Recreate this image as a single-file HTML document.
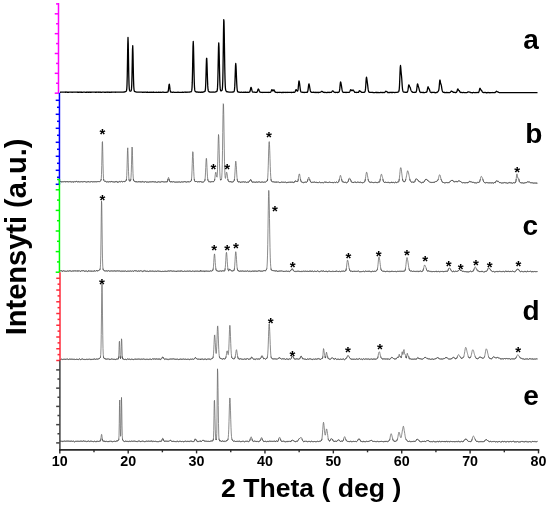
<!DOCTYPE html>
<html><head><meta charset="utf-8"><style>
html,body{margin:0;padding:0;background:#fff;width:550px;height:506px;overflow:hidden}
svg{display:block}
text{font-family:"Liberation Sans",Arial,sans-serif;font-weight:bold;fill:#000}
.tk{font-size:14.3px}
.st{font-size:15px}
.lb{font-size:28px}
.tt{font-size:26.6px}
.tt2{font-size:29px}
</style></head><body>
<svg width="550" height="506" viewBox="0 0 550 506">
<rect width="550" height="506" fill="#fff"/>
<polyline fill="none" stroke="#000" stroke-width="1.3" stroke-linejoin="round" points="60,92.2 60.25,92.3 60.5,92.2 60.75,92.2 61,92.2 61.25,92.2 61.5,92.2 61.75,92.2 62,92.2 62.25,92.2 62.5,92.2 62.75,92.2 63,92.2 63.25,92.2 63.5,92.2 63.75,92.2 64,92.2 64.25,92.2 64.5,92.1 64.75,92.2 65,92.2 65.25,92.2 65.5,92.3 65.75,92.2 66,92.0 66.25,92.0 66.5,92.1 66.75,92.2 67,92.2 67.25,92.3 67.5,92.3 67.75,92.2 68,92.2 68.25,92.3 68.5,92.3 68.75,92.3 69,92.1 69.25,92.1 69.5,92.2 69.75,92.2 70,92.1 70.25,92.1 70.5,92.2 70.75,92.1 71,92.2 71.25,92.2 71.5,92.2 71.75,92.2 72,92.3 72.25,92.3 72.5,92.2 72.75,92.2 73,92.2 73.25,92.2 73.5,92.2 73.75,92.2 74,92.2 74.25,92.2 74.5,92.1 74.75,92.2 75,92.2 75.25,92.2 75.5,92.1 75.75,92.1 76,92.2 76.25,92.2 76.5,92.2 76.75,92.2 77,92.1 77.25,92.2 77.5,92.3 77.75,92.2 78,92.2 78.25,92.2 78.5,92.3 78.75,92.3 79,92.2 79.25,92.1 79.5,92.2 79.75,92.2 80,92.3 80.25,92.2 80.5,92.1 80.75,92.1 81,92.3 81.25,92.3 81.5,92.2 81.75,92.2 82,92.3 82.25,92.3 82.5,92.3 82.75,92.3 83,92.2 83.25,92.2 83.5,92.2 83.75,92.1 84,92.1 84.25,92.2 84.5,92.1 84.75,92.2 85,92.2 85.25,92.3 85.5,92.3 85.75,92.3 86,92.3 86.25,92.3 86.5,92.1 86.75,92.2 87,92.3 87.25,92.2 87.5,92.2 87.75,92.2 88,92.2 88.25,92.3 88.5,92.3 88.75,92.2 89,92.2 89.25,92.2 89.5,92.2 89.75,92.3 90,92.3 90.25,92.1 90.5,92.1 90.75,92.3 91,92.4 91.25,92.2 91.5,92.1 91.75,92.2 92,92.2 92.25,92.2 92.5,92.2 92.75,92.2 93,92.2 93.25,92.2 93.5,92.2 93.75,92.2 94,92.2 94.25,92.2 94.5,92.2 94.75,92.1 95,92.2 95.25,92.3 95.5,92.3 95.75,92.2 96,92.2 96.25,92.2 96.5,92.2 96.75,92.3 97,92.2 97.25,92.2 97.5,92.2 97.75,92.2 98,92.1 98.25,92.1 98.5,92.2 98.75,92.3 99,92.2 99.25,92.1 99.5,92.1 99.75,92.2 100,92.3 100.25,92.2 100.5,92.2 100.75,92.2 101,92.3 101.25,92.4 101.5,92.4 101.75,92.3 102,92.2 102.25,92.2 102.5,92.2 102.75,92.2 103,92.2 103.25,92.2 103.5,92.2 103.75,92.2 104,92.2 104.25,92.2 104.5,92.3 104.75,92.3 105,92.3 105.25,92.2 105.5,92.3 105.75,92.4 106,92.3 106.25,92.2 106.5,92.2 106.75,92.2 107,92.1 107.25,92.2 107.5,92.2 107.75,92.3 108,92.2 108.25,92.1 108.5,92.1 108.75,92.2 109,92.3 109.25,92.3 109.5,92.2 109.75,92.2 110,92.4 110.25,92.4 110.5,92.2 110.75,92.2 111,92.2 111.25,92.2 111.5,92.2 111.75,92.3 112,92.2 112.25,92.2 112.5,92.2 112.75,92.2 113,92.2 113.25,92.2 113.5,92.2 113.75,92.1 114,92.2 114.25,92.2 114.5,92.2 114.75,92.2 115,92.2 115.25,92.3 115.5,92.2 115.75,92.2 116,92.2 116.25,92.1 116.5,92.1 116.75,92.2 117,92.1 117.25,92.1 117.5,92.2 117.75,92.2 118,92.1 118.25,92.1 118.5,92.2 118.75,92.2 119,92.2 119.25,92.2 119.5,92.1 119.75,92.1 120,92.2 120.25,92.2 120.5,92.1 120.75,92.1 121,92.2 121.25,92.1 121.5,92.1 121.75,92.1 122,92.2 122.25,92.1 122.5,92.1 122.75,92.1 123,92.1 123.25,92.1 123.5,92.1 123.75,92.0 124,92.0 124.25,92.0 124.5,92.0 124.75,91.9 125,91.8 125.25,91.8 125.5,91.6 125.75,91.5 126,91.4 126.25,91.1 126.5,90.6 126.75,89.2 127,85.1 127.25,75.9 127.5,60.9 127.75,44.7 128,37.4 128.25,44.1 128.5,59.4 128.75,74.3 129,84.0 129.25,88.5 129.5,90.2 129.75,90.9 130,91.2 130.25,91.2 130.5,91.2 130.75,91.1 131,90.9 131.25,90.5 131.5,88.9 131.75,84.7 132,75.8 132.25,62.5 132.5,49.6 132.75,45.7 133,53.3 133.25,66.7 133.5,78.7 133.75,86.1 134,89.5 134.25,90.9 134.5,91.4 134.75,91.6 135,91.6 135.25,91.7 135.5,91.8 135.75,91.9 136,91.9 136.25,92.0 136.5,92.1 136.75,92.1 137,92.1 137.25,92.2 137.5,92.2 137.75,92.2 138,92.1 138.25,92.1 138.5,92.1 138.75,92.1 139,92.1 139.25,92.1 139.5,92.1 139.75,92.2 140,92.2 140.25,92.1 140.5,92.1 140.75,92.2 141,92.2 141.25,92.1 141.5,92.1 141.75,92.2 142,92.2 142.25,92.3 142.5,92.3 142.75,92.3 143,92.2 143.25,92.2 143.5,92.2 143.75,92.3 144,92.3 144.25,92.3 144.5,92.2 144.75,92.2 145,92.2 145.25,92.2 145.5,92.2 145.75,92.2 146,92.3 146.25,92.3 146.5,92.3 146.75,92.2 147,92.2 147.25,92.3 147.5,92.2 147.75,92.2 148,92.3 148.25,92.3 148.5,92.3 148.75,92.3 149,92.3 149.25,92.2 149.5,92.3 149.75,92.3 150,92.3 150.25,92.3 150.5,92.3 150.75,92.2 151,92.3 151.25,92.4 151.5,92.3 151.75,92.2 152,92.3 152.25,92.4 152.5,92.4 152.75,92.2 153,92.2 153.25,92.3 153.5,92.2 153.75,92.2 154,92.3 154.25,92.3 154.5,92.3 154.75,92.3 155,92.3 155.25,92.4 155.5,92.4 155.75,92.3 156,92.3 156.25,92.2 156.5,92.3 156.75,92.4 157,92.3 157.25,92.3 157.5,92.3 157.75,92.3 158,92.3 158.25,92.3 158.5,92.2 158.75,92.2 159,92.3 159.25,92.3 159.5,92.3 159.75,92.3 160,92.2 160.25,92.2 160.5,92.3 160.75,92.3 161,92.3 161.25,92.3 161.5,92.4 161.75,92.4 162,92.3 162.25,92.2 162.5,92.1 162.75,92.2 163,92.2 163.25,92.2 163.5,92.2 163.75,92.3 164,92.3 164.25,92.3 164.5,92.3 164.75,92.3 165,92.3 165.25,92.3 165.5,92.3 165.75,92.3 166,92.3 166.25,92.3 166.5,92.3 166.75,92.2 167,92.2 167.25,92.2 167.5,92.2 167.75,92.1 168,91.8 168.25,91.0 168.5,89.3 168.75,87.0 169,84.9 169.25,84.1 169.5,85.0 169.75,87.1 170,89.2 170.25,90.8 170.5,91.7 170.75,92.1 171,92.2 171.25,92.2 171.5,92.2 171.75,92.2 172,92.3 172.25,92.4 172.5,92.4 172.75,92.3 173,92.2 173.25,92.2 173.5,92.2 173.75,92.2 174,92.3 174.25,92.4 174.5,92.4 174.75,92.4 175,92.4 175.25,92.4 175.5,92.4 175.75,92.4 176,92.3 176.25,92.3 176.5,92.3 176.75,92.3 177,92.3 177.25,92.3 177.5,92.3 177.75,92.2 178,92.2 178.25,92.2 178.5,92.3 178.75,92.3 179,92.3 179.25,92.3 179.5,92.3 179.75,92.3 180,92.3 180.25,92.3 180.5,92.4 180.75,92.4 181,92.4 181.25,92.4 181.5,92.4 181.75,92.4 182,92.3 182.25,92.2 182.5,92.2 182.75,92.3 183,92.4 183.25,92.3 183.5,92.3 183.75,92.3 184,92.2 184.25,92.2 184.5,92.2 184.75,92.2 185,92.2 185.25,92.3 185.5,92.2 185.75,92.1 186,92.2 186.25,92.2 186.5,92.2 186.75,92.3 187,92.3 187.25,92.2 187.5,92.1 187.75,92.2 188,92.2 188.25,92.1 188.5,92.1 188.75,92.1 189,92.2 189.25,92.2 189.5,92.1 189.75,92.0 190,92.0 190.25,91.9 190.5,91.8 190.75,91.9 191,91.8 191.25,91.5 191.5,91.2 191.75,90.4 192,88.1 192.25,82.9 192.5,73.1 192.75,59.2 193,46.2 193.25,41.5 193.5,46.8 193.75,58.4 194,71.4 194.25,81.4 194.5,87.2 194.75,89.9 195,91.0 195.25,91.4 195.5,91.6 195.75,91.7 196,91.9 196.25,92.0 196.5,92.0 196.75,92.0 197,92.1 197.25,92.1 197.5,92.0 197.75,92.0 198,92.0 198.25,92.1 198.5,92.2 198.75,92.3 199,92.3 199.25,92.2 199.5,92.2 199.75,92.2 200,92.2 200.25,92.3 200.5,92.3 200.75,92.3 201,92.2 201.25,92.2 201.5,92.2 201.75,92.3 202,92.2 202.25,92.1 202.5,92.2 202.75,92.3 203,92.2 203.25,92.1 203.5,92.0 203.75,91.8 204,91.7 204.25,91.7 204.5,91.7 204.75,91.6 205,91.3 205.25,90.5 205.5,88.3 205.75,83.5 206,75.5 206.25,65.8 206.5,58.8 206.75,58.3 207,63.6 207.25,71.9 207.5,79.9 207.75,85.9 208,89.2 208.25,90.7 208.5,91.3 208.75,91.6 209,91.8 209.25,92.0 209.5,92.0 209.75,91.9 210,92.0 210.25,92.1 210.5,92.2 210.75,92.2 211,92.2 211.25,92.2 211.5,92.2 211.75,92.1 212,92.0 212.25,92.1 212.5,92.2 212.75,92.1 213,92.0 213.25,92.0 213.5,92.1 213.75,92.1 214,92.1 214.25,92.1 214.5,92.1 214.75,92.1 215,92.1 215.25,92.0 215.5,91.9 215.75,91.8 216,91.7 216.25,91.7 216.5,91.6 216.75,91.5 217,91.2 217.25,90.2 217.5,87.9 217.75,82.7 218,72.8 218.25,59.5 218.5,47.4 218.75,42.9 219,47.3 219.25,57.2 219.5,69.1 219.75,79.1 220,85.5 220.25,88.9 220.5,90.3 220.75,90.8 221,90.9 221.25,90.8 221.5,90.7 221.75,90.6 222,90.3 222.25,89.6 222.5,87.3 222.75,81.5 223,69.7 223.25,51.6 223.5,31.6 223.75,19.6 224,21.4 224.25,33.3 224.5,50.2 224.75,66.6 225,78.6 225.25,85.6 225.5,89.0 225.75,90.3 226,90.8 226.25,91.3 226.5,91.6 226.75,91.7 227,91.8 227.25,91.8 227.5,91.7 227.75,91.9 228,91.9 228.25,91.9 228.5,92.0 228.75,92.1 229,92.1 229.25,92.1 229.5,92.1 229.75,92.1 230,92.1 230.25,92.1 230.5,92.1 230.75,92.2 231,92.2 231.25,92.2 231.5,92.1 231.75,92.1 232,92.1 232.25,91.9 232.5,92.0 232.75,92.1 233,92.1 233.25,92.0 233.5,91.9 233.75,91.8 234,91.5 234.25,90.9 234.5,89.5 234.75,86.4 235,80.7 235.25,72.9 235.5,65.9 235.75,63.5 236,66.0 236.25,71.4 236.5,77.9 236.75,83.7 237,87.8 237.25,90.2 237.5,91.3 237.75,91.8 238,92.0 238.25,92.0 238.5,92.0 238.75,92.0 239,92.1 239.25,92.1 239.5,92.2 239.75,92.3 240,92.3 240.25,92.4 240.5,92.3 240.75,92.3 241,92.2 241.25,92.2 241.5,92.2 241.75,92.2 242,92.4 242.25,92.4 242.5,92.4 242.75,92.4 243,92.3 243.25,92.3 243.5,92.2 243.75,92.3 244,92.3 244.25,92.3 244.5,92.3 244.75,92.2 245,92.2 245.25,92.3 245.5,92.2 245.75,92.3 246,92.4 246.25,92.4 246.5,92.4 246.75,92.3 247,92.2 247.25,92.2 247.5,92.3 247.75,92.4 248,92.4 248.25,92.3 248.5,92.3 248.75,92.3 249,92.2 249.25,92.2 249.5,92.1 249.75,91.9 250,91.4 250.25,90.5 250.5,89.2 250.75,87.9 251,87.3 251.25,87.7 251.5,88.5 251.75,89.6 252,90.5 252.25,91.3 252.5,91.9 252.75,92.2 253,92.2 253.25,92.2 253.5,92.2 253.75,92.2 254,92.2 254.25,92.2 254.5,92.2 254.75,92.2 255,92.3 255.25,92.4 255.5,92.4 255.75,92.3 256,92.3 256.25,92.2 256.5,92.2 256.75,92.3 257,92.2 257.25,91.9 257.5,91.2 257.75,90.3 258,89.5 258.25,89.0 258.5,89.1 258.75,89.4 259,90.0 259.25,90.8 259.5,91.5 259.75,92.0 260,92.1 260.25,92.2 260.5,92.1 260.75,92.2 261,92.4 261.25,92.4 261.5,92.3 261.75,92.3 262,92.4 262.25,92.5 262.5,92.3 262.75,92.3 263,92.4 263.25,92.4 263.5,92.4 263.75,92.3 264,92.3 264.25,92.3 264.5,92.3 264.75,92.4 265,92.4 265.25,92.4 265.5,92.4 265.75,92.4 266,92.4 266.25,92.4 266.5,92.4 266.75,92.4 267,92.4 267.25,92.4 267.5,92.4 267.75,92.3 268,92.4 268.25,92.5 268.5,92.4 268.75,92.3 269,92.3 269.25,92.3 269.5,92.3 269.75,92.3 270,92.3 270.25,92.3 270.5,92.2 270.75,92.0 271,91.6 271.25,91.0 271.5,90.3 271.75,89.7 272,89.7 272.25,90.0 272.5,90.4 272.75,90.9 273,91.0 273.25,90.6 273.5,90.1 273.75,89.8 274,89.9 274.25,90.4 274.5,90.8 274.75,91.4 275,91.9 275.25,92.1 275.5,92.2 275.75,92.3 276,92.4 276.25,92.4 276.5,92.4 276.75,92.4 277,92.5 277.25,92.5 277.5,92.5 277.75,92.3 278,92.3 278.25,92.3 278.5,92.4 278.75,92.4 279,92.4 279.25,92.4 279.5,92.4 279.75,92.5 280,92.4 280.25,92.4 280.5,92.4 280.75,92.4 281,92.4 281.25,92.5 281.5,92.6 281.75,92.5 282,92.5 282.25,92.5 282.5,92.5 282.75,92.4 283,92.4 283.25,92.4 283.5,92.5 283.75,92.5 284,92.4 284.25,92.3 284.5,92.4 284.75,92.3 285,92.3 285.25,92.4 285.5,92.4 285.75,92.5 286,92.5 286.25,92.3 286.5,92.3 286.75,92.3 287,92.4 287.25,92.4 287.5,92.4 287.75,92.5 288,92.4 288.25,92.3 288.5,92.4 288.75,92.4 289,92.4 289.25,92.3 289.5,92.4 289.75,92.4 290,92.4 290.25,92.4 290.5,92.4 290.75,92.3 291,92.4 291.25,92.5 291.5,92.5 291.75,92.5 292,92.4 292.25,92.3 292.5,92.4 292.75,92.4 293,92.3 293.25,92.3 293.5,92.2 293.75,92.2 294,92.3 294.25,92.4 294.5,92.3 294.75,92.1 295,91.9 295.25,91.5 295.5,90.8 295.75,90.1 296,89.7 296.25,89.7 296.5,90.0 296.75,90.4 297,90.8 297.25,91.1 297.5,91.2 297.75,90.9 298,89.9 298.25,87.8 298.5,84.9 298.75,82.2 299,81.0 299.25,81.6 299.5,83.1 299.75,84.9 300,87.0 300.25,89.0 300.5,90.6 300.75,91.5 301,91.9 301.25,92.1 301.5,92.2 301.75,92.2 302,92.2 302.25,92.2 302.5,92.3 302.75,92.3 303,92.3 303.25,92.3 303.5,92.4 303.75,92.5 304,92.4 304.25,92.5 304.5,92.5 304.75,92.3 305,92.3 305.25,92.3 305.5,92.4 305.75,92.4 306,92.4 306.25,92.4 306.5,92.3 306.75,92.2 307,92.2 307.25,92.3 307.5,92.0 307.75,91.3 308,90.1 308.25,88.2 308.5,86.0 308.75,84.3 309,83.9 309.25,84.8 309.5,86.0 309.75,87.5 310,89.0 310.25,90.4 310.5,91.3 310.75,91.8 311,92.0 311.25,92.2 311.5,92.3 311.75,92.3 312,92.3 312.25,92.4 312.5,92.4 312.75,92.4 313,92.3 313.25,92.2 313.5,92.2 313.75,92.3 314,92.4 314.25,92.4 314.5,92.4 314.75,92.5 315,92.5 315.25,92.5 315.5,92.4 315.75,92.5 316,92.4 316.25,92.4 316.5,92.5 316.75,92.5 317,92.5 317.25,92.5 317.5,92.4 317.75,92.4 318,92.5 318.25,92.5 318.5,92.5 318.75,92.5 319,92.5 319.25,92.4 319.5,92.3 319.75,92.4 320,92.3 320.25,92.2 320.5,92.1 320.75,92.0 321,91.9 321.25,91.7 321.5,91.4 321.75,91.3 322,91.4 322.25,91.5 322.5,91.6 322.75,91.8 323,92.0 323.25,92.3 323.5,92.3 323.75,92.3 324,92.4 324.25,92.5 324.5,92.5 324.75,92.4 325,92.4 325.25,92.4 325.5,92.4 325.75,92.5 326,92.6 326.25,92.6 326.5,92.6 326.75,92.5 327,92.4 327.25,92.4 327.5,92.5 327.75,92.5 328,92.4 328.25,92.4 328.5,92.4 328.75,92.5 329,92.4 329.25,92.4 329.5,92.5 329.75,92.5 330,92.4 330.25,92.3 330.5,92.4 330.75,92.4 331,92.4 331.25,92.4 331.5,92.2 331.75,91.9 332,91.5 332.25,91.1 332.5,90.8 332.75,90.8 333,91.0 333.25,91.2 333.5,91.4 333.75,91.7 334,92.0 334.25,92.2 334.5,92.3 334.75,92.4 335,92.4 335.25,92.4 335.5,92.5 335.75,92.5 336,92.5 336.25,92.4 336.5,92.4 336.75,92.4 337,92.4 337.25,92.5 337.5,92.5 337.75,92.5 338,92.4 338.25,92.4 338.5,92.3 338.75,92.2 339,92.0 339.25,91.6 339.5,90.7 339.75,88.9 340,86.3 340.25,83.7 340.5,82.0 340.75,82.1 341,83.3 341.25,84.6 341.5,86.1 341.75,87.8 342,89.4 342.25,90.7 342.5,91.5 342.75,92.0 343,92.2 343.25,92.3 343.5,92.4 343.75,92.4 344,92.5 344.25,92.4 344.5,92.3 344.75,92.4 345,92.4 345.25,92.4 345.5,92.4 345.75,92.5 346,92.5 346.25,92.4 346.5,92.4 346.75,92.5 347,92.5 347.25,92.4 347.5,92.4 347.75,92.4 348,92.3 348.25,92.3 348.5,92.4 348.75,92.4 349,92.3 349.25,92.3 349.5,92.0 349.75,91.7 350,91.3 350.25,90.6 350.5,89.9 350.75,89.6 351,89.8 351.25,90.1 351.5,90.4 351.75,90.6 352,90.8 352.25,90.6 352.5,90.3 352.75,90.1 353,89.9 353.25,90.2 353.5,90.6 353.75,90.9 354,91.1 354.25,91.5 354.5,91.9 354.75,92.3 355,92.4 355.25,92.4 355.5,92.3 355.75,92.3 356,92.3 356.25,92.4 356.5,92.5 356.75,92.5 357,92.4 357.25,92.4 357.5,92.4 357.75,92.4 358,92.4 358.25,92.4 358.5,92.3 358.75,91.9 359,91.4 359.25,90.9 359.5,90.7 359.75,90.9 360,91.0 360.25,91.2 360.5,91.4 360.75,91.5 361,91.8 361.25,92.1 361.5,92.3 361.75,92.3 362,92.4 362.25,92.3 362.5,92.3 362.75,92.3 363,92.4 363.25,92.3 363.5,92.3 363.75,92.3 364,92.4 364.25,92.3 364.5,92.1 364.75,92.0 365,91.6 365.25,90.7 365.5,88.9 365.75,85.8 366,81.8 366.25,78.4 366.5,77.2 366.75,78.3 367,80.2 367.25,82.0 367.5,83.8 367.75,85.9 368,88.1 368.25,89.9 368.5,91.1 368.75,91.8 369,92.1 369.25,92.2 369.5,92.3 369.75,92.3 370,92.3 370.25,92.4 370.5,92.4 370.75,92.4 371,92.4 371.25,92.4 371.5,92.4 371.75,92.4 372,92.3 372.25,92.3 372.5,92.4 372.75,92.5 373,92.5 373.25,92.6 373.5,92.5 373.75,92.6 374,92.6 374.25,92.6 374.5,92.7 374.75,92.7 375,92.6 375.25,92.5 375.5,92.4 375.75,92.4 376,92.5 376.25,92.5 376.5,92.5 376.75,92.5 377,92.5 377.25,92.6 377.5,92.5 377.75,92.5 378,92.5 378.25,92.6 378.5,92.6 378.75,92.5 379,92.5 379.25,92.6 379.5,92.6 379.75,92.6 380,92.6 380.25,92.5 380.5,92.4 380.75,92.5 381,92.4 381.25,92.3 381.5,92.5 381.75,92.6 382,92.6 382.25,92.5 382.5,92.5 382.75,92.5 383,92.6 383.25,92.6 383.5,92.5 383.75,92.4 384,92.5 384.25,92.6 384.5,92.5 384.75,92.4 385,92.1 385.25,91.8 385.5,91.5 385.75,91.3 386,91.2 386.25,91.4 386.5,91.6 386.75,91.6 387,91.7 387.25,92.0 387.5,92.2 387.75,92.5 388,92.5 388.25,92.5 388.5,92.5 388.75,92.6 389,92.6 389.25,92.5 389.5,92.5 389.75,92.5 390,92.5 390.25,92.5 390.5,92.4 390.75,92.3 391,92.4 391.25,92.5 391.5,92.5 391.75,92.5 392,92.5 392.25,92.5 392.5,92.5 392.75,92.5 393,92.4 393.25,92.3 393.5,92.3 393.75,92.3 394,92.4 394.25,92.5 394.5,92.6 394.75,92.5 395,92.6 395.25,92.5 395.5,92.4 395.75,92.4 396,92.4 396.25,92.4 396.5,92.3 396.75,92.3 397,92.3 397.25,92.3 397.5,92.2 397.75,92.1 398,92.1 398.25,92.0 398.5,91.9 398.75,91.6 399,90.8 399.25,89.0 399.5,85.5 399.75,79.9 400,73.1 400.25,67.5 400.5,65.5 400.75,67.6 401,70.9 401.25,73.6 401.5,75.8 401.75,78.7 402,82.6 402.25,86.3 402.5,89.0 402.75,90.4 403,91.3 403.25,91.7 403.5,92.0 403.75,92.1 404,92.1 404.25,92.1 404.5,92.1 404.75,92.2 405,92.3 405.25,92.3 405.5,92.3 405.75,92.3 406,92.2 406.25,92.3 406.5,92.4 406.75,92.3 407,92.2 407.25,92.1 407.5,91.7 407.75,90.9 408,89.7 408.25,88.0 408.5,86.2 408.75,84.9 409,84.9 409.25,85.8 409.5,86.6 409.75,86.9 410,87.1 410.25,87.7 410.5,88.6 410.75,89.5 411,90.3 411.25,90.8 411.5,91.1 411.75,91.5 412,91.8 412.25,91.9 412.5,92.0 412.75,92.3 413,92.3 413.25,92.3 413.5,92.4 413.75,92.4 414,92.4 414.25,92.4 414.5,92.5 414.75,92.4 415,92.4 415.25,92.3 415.5,92.3 415.75,92.2 416,92.1 416.25,91.7 416.5,90.8 416.75,89.3 417,87.1 417.25,85.0 417.5,83.8 417.75,84.1 418,85.2 418.25,86.3 418.5,86.9 418.75,87.6 419,88.6 419.25,89.7 419.5,90.8 419.75,91.6 420,92.0 420.25,92.2 420.5,92.3 420.75,92.5 421,92.5 421.25,92.4 421.5,92.4 421.75,92.4 422,92.5 422.25,92.6 422.5,92.4 422.75,92.4 423,92.5 423.25,92.5 423.5,92.4 423.75,92.5 424,92.7 424.25,92.6 424.5,92.6 424.75,92.6 425,92.5 425.25,92.4 425.5,92.4 425.75,92.4 426,92.4 426.25,92.3 426.5,92.1 426.75,91.9 427,91.4 427.25,90.3 427.5,88.9 427.75,87.6 428,86.8 428.25,86.9 428.5,87.7 428.75,88.4 429,88.8 429.25,89.2 429.5,89.8 429.75,90.5 430,91.3 430.25,91.9 430.5,92.2 430.75,92.3 431,92.4 431.25,92.5 431.5,92.5 431.75,92.5 432,92.5 432.25,92.4 432.5,92.4 432.75,92.4 433,92.5 433.25,92.4 433.5,92.3 433.75,92.4 434,92.4 434.25,92.5 434.5,92.5 434.75,92.5 435,92.6 435.25,92.6 435.5,92.7 435.75,92.8 436,92.6 436.25,92.4 436.5,92.4 436.75,92.5 437,92.5 437.25,92.3 437.5,92.1 437.75,91.7 438,91.5 438.25,91.2 438.5,90.9 438.75,90.1 439,88.6 439.25,86.0 439.5,83.0 439.75,80.6 440,80.0 440.25,81.2 440.5,82.8 440.75,83.9 441,84.4 441.25,85.0 441.5,86.4 441.75,88.1 442,89.6 442.25,90.7 442.5,91.4 442.75,91.7 443,91.9 443.25,92.3 443.5,92.4 443.75,92.4 444,92.4 444.25,92.5 444.5,92.5 444.75,92.5 445,92.5 445.25,92.6 445.5,92.6 445.75,92.6 446,92.5 446.25,92.5 446.5,92.5 446.75,92.5 447,92.6 447.25,92.5 447.5,92.5 447.75,92.6 448,92.7 448.25,92.7 448.5,92.6 448.75,92.5 449,92.6 449.25,92.6 449.5,92.6 449.75,92.6 450,92.5 450.25,92.3 450.5,91.9 450.75,91.7 451,91.5 451.25,91.2 451.5,91.1 451.75,91.2 452,91.4 452.25,91.6 452.5,91.6 452.75,91.7 453,92.0 453.25,92.3 453.5,92.4 453.75,92.4 454,92.5 454.25,92.4 454.5,92.4 454.75,92.4 455,92.5 455.25,92.5 455.5,92.5 455.75,92.6 456,92.6 456.25,92.4 456.5,92.2 456.75,91.9 457,91.3 457.25,90.4 457.5,89.5 457.75,89.0 458,89.0 458.25,89.4 458.5,90.0 458.75,90.5 459,90.6 459.25,90.7 459.5,91.1 459.75,91.6 460,92.0 460.25,92.3 460.5,92.4 460.75,92.5 461,92.5 461.25,92.4 461.5,92.4 461.75,92.5 462,92.6 462.25,92.6 462.5,92.5 462.75,92.6 463,92.6 463.25,92.4 463.5,92.4 463.75,92.5 464,92.6 464.25,92.7 464.5,92.7 464.75,92.6 465,92.5 465.25,92.6 465.5,92.6 465.75,92.6 466,92.7 466.25,92.7 466.5,92.6 466.75,92.6 467,92.6 467.25,92.4 467.5,92.3 467.75,92.1 468,91.9 468.25,91.8 468.5,91.9 468.75,92.0 469,92.1 469.25,92.1 469.5,92.0 469.75,92.1 470,92.2 470.25,92.3 470.5,92.5 470.75,92.6 471,92.6 471.25,92.6 471.5,92.6 471.75,92.6 472,92.7 472.25,92.8 472.5,92.8 472.75,92.7 473,92.6 473.25,92.5 473.5,92.4 473.75,92.4 474,92.5 474.25,92.6 474.5,92.7 474.75,92.7 475,92.6 475.25,92.6 475.5,92.5 475.75,92.6 476,92.6 476.25,92.6 476.5,92.6 476.75,92.5 477,92.4 477.25,92.4 477.5,92.5 477.75,92.6 478,92.6 478.25,92.5 478.5,92.5 478.75,92.1 479,91.6 479.25,90.7 479.5,89.6 479.75,88.7 480,88.3 480.25,88.5 480.5,89.2 480.75,89.8 481,90.1 481.25,90.1 481.5,90.3 481.75,90.8 482,91.3 482.25,91.7 482.5,92.1 482.75,92.3 483,92.5 483.25,92.6 483.5,92.6 483.75,92.5 484,92.4 484.25,92.4 484.5,92.5 484.75,92.6 485,92.5 485.25,92.4 485.5,92.4 485.75,92.6 486,92.8 486.25,92.8 486.5,92.7 486.75,92.7 487,92.8 487.25,92.7 487.5,92.6 487.75,92.5 488,92.5 488.25,92.5 488.5,92.6 488.75,92.6 489,92.5 489.25,92.6 489.5,92.7 489.75,92.8 490,92.8 490.25,92.7 490.5,92.6 490.75,92.6 491,92.7 491.25,92.6 491.5,92.7 491.75,92.7 492,92.7 492.25,92.5 492.5,92.6 492.75,92.7 493,92.7 493.25,92.7 493.5,92.7 493.75,92.6 494,92.6 494.25,92.6 494.5,92.5 494.75,92.6 495,92.6 495.25,92.5 495.5,92.2 495.75,91.9 496,91.7 496.25,91.3 496.5,91.2 496.75,91.4 497,91.6 497.25,91.8 497.5,91.9 497.75,91.9 498,91.9 498.25,92.1 498.5,92.3 498.75,92.4 499,92.5 499.25,92.6 499.5,92.6 499.75,92.6 500,92.6 500.25,92.6 500.5,92.7 500.75,92.7 501,92.7 501.25,92.6 501.5,92.6 501.75,92.7 502,92.7 502.25,92.7 502.5,92.7 502.75,92.7 503,92.7 503.25,92.7 503.5,92.7 503.75,92.7 504,92.7 504.25,92.7 504.5,92.7 504.75,92.7 505,92.7 505.25,92.7 505.5,92.7 505.75,92.7 506,92.7 506.25,92.7 506.5,92.7 506.75,92.7 507,92.7 507.25,92.7 507.5,92.7 507.75,92.7 508,92.6 508.25,92.6 508.5,92.7 508.75,92.7 509,92.7 509.25,92.7 509.5,92.7 509.75,92.7 510,92.7 510.25,92.7 510.5,92.7 510.75,92.7 511,92.7 511.25,92.7 511.5,92.7 511.75,92.7 512,92.7 512.25,92.7 512.5,92.7 512.75,92.7 513,92.7 513.25,92.7 513.5,92.7 513.75,92.7 514,92.7 514.25,92.7 514.5,92.7 514.75,92.7 515,92.7 515.25,92.7 515.5,92.7 515.75,92.7 516,92.7 516.25,92.7 516.5,92.7 516.75,92.7 517,92.7 517.25,92.7 517.5,92.7 517.75,92.7 518,92.7 518.25,92.7 518.5,92.7 518.75,92.7 519,92.7 519.25,92.7 519.5,92.7 519.75,92.7 520,92.7 520.25,92.7 520.5,92.7 520.75,92.7 521,92.7 521.25,92.7 521.5,92.7 521.75,92.7 522,92.7 522.25,92.7 522.5,92.7 522.75,92.7 523,92.7 523.25,92.7 523.5,92.7 523.75,92.7 524,92.7 524.25,92.7 524.5,92.7 524.75,92.7 525,92.7 525.25,92.7 525.5,92.7 525.75,92.7 526,92.7 526.25,92.7 526.5,92.7 526.75,92.7 527,92.7 527.25,92.7 527.5,92.7 527.75,92.7 528,92.7 528.25,92.7 528.5,92.7 528.75,92.7 529,92.7 529.25,92.7 529.5,92.7 529.75,92.7 530,92.7 530.25,92.7 530.5,92.7 530.75,92.7 531,92.7 531.25,92.7 531.5,92.7 531.75,92.7 532,92.7 532.25,92.7 532.5,92.7 532.75,92.7 533,92.7 533.25,92.7 533.5,92.7 533.75,92.7 534,92.7 534.25,92.7 534.5,92.7 534.75,92.7 535,92.7 535.25,92.7 535.5,92.7 535.75,92.7 536,92.7 536.25,92.7 536.5,92.7 536.75,92.7 537,92.7 537.25,92.7 537.5,92.7"/>
<defs><clipPath id="cb0"><rect x="55" y="179.1" width="490" height="6.3"/></clipPath><clipPath id="cb1"><rect x="55" y="268.4" width="490" height="5.6"/></clipPath><clipPath id="cb2"><rect x="55" y="356.4" width="490" height="5.3"/></clipPath><clipPath id="cb3"><rect x="55" y="438.7" width="490" height="5.4"/></clipPath></defs>
<polyline fill="none" stroke="#666" stroke-width="0.75" stroke-linejoin="round" points="60,181.7 60.25,181.6 60.5,181.4 60.75,181.4 61,181.9 61.25,182.0 61.5,181.8 61.75,181.8 62,181.8 62.25,181.7 62.5,181.8 62.75,181.7 63,181.6 63.25,181.6 63.5,181.7 63.75,181.8 64,181.7 64.25,181.7 64.5,181.6 64.75,181.6 65,181.8 65.25,181.8 65.5,181.8 65.75,181.7 66,181.6 66.25,181.9 66.5,182.0 66.75,181.5 67,181.2 67.25,181.4 67.5,181.7 67.75,181.9 68,181.9 68.25,181.9 68.5,181.8 68.75,181.8 69,181.8 69.25,181.8 69.5,181.6 69.75,181.6 70,181.9 70.25,182.0 70.5,181.7 70.75,181.5 71,181.6 71.25,181.8 71.5,181.9 71.75,181.8 72,181.6 72.25,181.8 72.5,181.9 72.75,181.6 73,181.7 73.25,181.9 73.5,181.9 73.75,182.1 74,182.2 74.25,181.9 74.5,181.7 74.75,181.6 75,181.8 75.25,181.7 75.5,181.7 75.75,181.8 76,181.7 76.25,181.5 76.5,181.2 76.75,181.3 77,181.7 77.25,182.0 77.5,182.0 77.75,181.8 78,181.7 78.25,181.8 78.5,181.7 78.75,181.5 79,181.6 79.25,182.0 79.5,182.0 79.75,181.8 80,181.7 80.25,181.7 80.5,181.8 80.75,181.7 81,181.6 81.25,181.6 81.5,181.6 81.75,181.8 82,181.9 82.25,181.8 82.5,181.9 82.75,181.8 83,181.7 83.25,181.6 83.5,181.7 83.75,181.7 84,181.6 84.25,181.6 84.5,181.5 84.75,181.5 85,181.4 85.25,181.6 85.5,181.9 85.75,182.0 86,182.1 86.25,182.2 86.5,182.0 86.75,181.9 87,181.9 87.25,181.8 87.5,181.8 87.75,181.7 88,181.6 88.25,181.6 88.5,181.7 88.75,181.7 89,181.7 89.25,182.0 89.5,182.0 89.75,181.8 90,181.6 90.25,181.7 90.5,181.8 90.75,181.9 91,181.9 91.25,181.7 91.5,181.6 91.75,181.5 92,181.5 92.25,181.6 92.5,181.8 92.75,182.0 93,181.9 93.25,181.8 93.5,181.7 93.75,181.9 94,182.0 94.25,181.9 94.5,181.8 94.75,181.6 95,181.6 95.25,181.7 95.5,181.7 95.75,181.6 96,181.6 96.25,181.6 96.5,181.8 96.75,181.9 97,181.9 97.25,181.7 97.5,181.6 97.75,181.6 98,181.5 98.25,181.5 98.5,181.6 98.75,181.6 99,181.7 99.25,181.7 99.5,181.7 99.75,181.4 100,181.1 100.25,181.1 100.5,180.9 100.75,180.7 101,180.3 101.25,178.7 101.5,174.3 101.75,165.5 102,153.0 102.25,142.3 102.5,141.6 102.75,151.2 103,163.8 103.25,173.2 103.5,178.3 103.75,180.2 104,180.6 104.25,180.9 104.5,181.2 104.75,181.5 105,181.6 105.25,181.4 105.5,181.4 105.75,181.5 106,181.7 106.25,181.9 106.5,181.9 106.75,181.7 107,181.6 107.25,181.5 107.5,181.7 107.75,181.9 108,181.7 108.25,181.7 108.5,181.9 108.75,182.1 109,181.9 109.25,181.7 109.5,181.8 109.75,181.6 110,181.7 110.25,181.8 110.5,181.8 110.75,181.8 111,181.9 111.25,181.8 111.5,181.4 111.75,181.3 112,181.7 112.25,182.0 112.5,181.9 112.75,181.8 113,181.8 113.25,181.9 113.5,181.9 113.75,181.8 114,181.8 114.25,182.0 114.5,182.0 114.75,181.9 115,182.1 115.25,182.1 115.5,181.6 115.75,181.5 116,181.8 116.25,181.9 116.5,181.6 116.75,181.6 117,181.8 117.25,181.8 117.5,181.9 117.75,182.4 118,182.4 118.25,182.1 118.5,181.9 118.75,181.7 119,181.5 119.25,181.6 119.5,181.6 119.75,181.4 120,181.5 120.25,181.8 120.5,181.9 120.75,181.9 121,181.9 121.25,181.6 121.5,181.4 121.75,181.4 122,181.6 122.25,181.8 122.5,181.8 122.75,181.7 123,181.6 123.25,181.5 123.5,181.5 123.75,181.6 124,181.9 124.25,181.9 124.5,181.5 124.75,181.4 125,181.4 125.25,181.3 125.5,181.2 125.75,181.1 126,180.8 126.25,180.3 126.5,178.9 126.75,175.4 127,168.6 127.25,159.1 127.5,150.4 127.75,147.8 128,153.2 128.25,162.8 128.5,171.4 128.75,176.8 129,179.5 129.25,180.5 129.5,181.1 129.75,181.0 130,180.9 130.25,181.0 130.5,180.6 130.75,179.5 131,177.4 131.25,172.6 131.5,164.2 131.75,154.0 132,147.0 132.25,147.8 132.5,155.7 132.75,165.7 133,173.5 133.25,178.0 133.5,180.1 133.75,180.8 134,180.9 134.25,180.9 134.5,181.2 134.75,181.7 135,181.9 135.25,181.9 135.5,181.7 135.75,181.7 136,182.0 136.25,182.0 136.5,181.8 136.75,181.6 137,181.7 137.25,182.0 137.5,182.0 137.75,181.9 138,181.9 138.25,181.9 138.5,181.7 138.75,181.5 139,181.4 139.25,181.5 139.5,182.0 139.75,182.1 140,181.8 140.25,181.8 140.5,181.9 140.75,181.8 141,181.7 141.25,181.8 141.5,181.9 141.75,181.9 142,181.9 142.25,182.0 142.5,181.7 142.75,181.5 143,181.7 143.25,182.0 143.5,182.0 143.75,181.8 144,181.8 144.25,181.9 144.5,182.0 144.75,182.1 145,182.2 145.25,181.9 145.5,181.6 145.75,181.7 146,182.0 146.25,182.1 146.5,182.1 146.75,182.2 147,182.3 147.25,182.2 147.5,182.0 147.75,182.0 148,182.0 148.25,181.9 148.5,182.1 148.75,182.3 149,182.1 149.25,182.0 149.5,181.9 149.75,181.8 150,181.8 150.25,181.8 150.5,181.9 150.75,181.9 151,182.0 151.25,182.0 151.5,181.9 151.75,181.8 152,181.5 152.25,181.5 152.5,181.8 152.75,182.0 153,181.9 153.25,181.7 153.5,181.8 153.75,182.0 154,182.1 154.25,182.1 154.5,181.9 154.75,181.8 155,181.8 155.25,181.9 155.5,181.9 155.75,181.8 156,181.8 156.25,182.1 156.5,182.3 156.75,182.2 157,182.0 157.25,182.0 157.5,182.1 157.75,182.2 158,182.3 158.25,182.1 158.5,181.8 158.75,181.7 159,181.7 159.25,181.8 159.5,182.1 159.75,182.1 160,182.0 160.25,182.1 160.5,182.1 160.75,181.9 161,181.9 161.25,181.9 161.5,181.7 161.75,181.6 162,181.8 162.25,181.8 162.5,181.6 162.75,181.9 163,182.1 163.25,181.9 163.5,181.9 163.75,181.9 164,181.8 164.25,181.9 164.5,182.0 164.75,181.8 165,181.9 165.25,181.9 165.5,181.8 165.75,181.7 166,181.6 166.25,181.7 166.5,181.9 166.75,181.8 167,181.9 167.25,181.9 167.5,181.2 167.75,180.2 168,179.0 168.25,177.9 168.5,177.4 168.75,177.8 169,178.9 169.25,180.0 169.5,180.8 169.75,181.4 170,181.9 170.25,182.2 170.5,182.0 170.75,181.6 171,181.5 171.25,181.6 171.5,181.7 171.75,181.7 172,181.6 172.25,181.7 172.5,182.0 172.75,182.0 173,181.8 173.25,181.7 173.5,181.7 173.75,181.6 174,181.6 174.25,181.8 174.5,182.0 174.75,182.0 175,181.9 175.25,182.1 175.5,182.1 175.75,182.0 176,182.0 176.25,181.9 176.5,182.1 176.75,182.1 177,181.9 177.25,181.9 177.5,182.1 177.75,182.3 178,182.4 178.25,182.2 178.5,182.0 178.75,182.0 179,182.1 179.25,182.1 179.5,181.9 179.75,181.9 180,182.0 180.25,182.1 180.5,182.2 180.75,182.3 181,182.2 181.25,182.1 181.5,181.9 181.75,181.7 182,181.8 182.25,181.9 182.5,182.0 182.75,181.9 183,181.8 183.25,181.9 183.5,181.9 183.75,181.8 184,181.9 184.25,181.9 184.5,181.6 184.75,181.6 185,181.9 185.25,181.9 185.5,181.8 185.75,181.9 186,182.1 186.25,182.0 186.5,182.1 186.75,182.1 187,182.0 187.25,181.9 187.5,181.8 187.75,181.7 188,181.8 188.25,181.9 188.5,181.8 188.75,181.7 189,181.8 189.25,182.1 189.5,182.0 189.75,181.7 190,181.5 190.25,181.4 190.5,181.5 190.75,181.4 191,181.1 191.25,180.7 191.5,179.3 191.75,176.1 192,170.8 192.25,163.7 192.5,156.3 192.75,151.7 193,152.3 193.25,157.5 193.5,164.8 193.75,171.6 194,176.4 194.25,179.1 194.5,180.6 194.75,181.3 195,181.6 195.25,181.5 195.5,181.5 195.75,181.6 196,181.6 196.25,181.5 196.5,181.5 196.75,181.6 197,181.7 197.25,181.7 197.5,181.9 197.75,182.1 198,182.2 198.25,182.0 198.5,181.7 198.75,181.8 199,181.9 199.25,181.9 199.5,181.8 199.75,181.7 200,181.8 200.25,181.7 200.5,181.6 200.75,181.7 201,182.0 201.25,182.1 201.5,181.9 201.75,181.9 202,182.0 202.25,182.1 202.5,182.2 202.75,182.0 203,182.0 203.25,182.1 203.5,182.0 203.75,181.8 204,181.5 204.25,181.2 204.5,181.0 204.75,180.6 205,179.5 205.25,177.1 205.5,172.9 205.75,167.4 206,161.8 206.25,158.3 206.5,158.5 206.75,162.1 207,167.7 207.25,173.0 207.5,176.8 207.75,179.2 208,180.3 208.25,180.8 208.5,181.4 208.75,181.7 209,181.5 209.25,181.6 209.5,181.8 209.75,181.6 210,181.8 210.25,181.9 210.5,181.8 210.75,182.0 211,182.1 211.25,181.8 211.5,181.7 211.75,181.7 212,181.6 212.25,181.6 212.5,181.9 212.75,181.8 213,181.4 213.25,181.5 213.5,181.7 213.75,181.5 214,181.2 214.25,180.9 214.5,180.4 214.75,179.2 215,177.1 215.25,174.7 215.5,172.9 215.75,172.2 216,172.9 216.25,174.5 216.5,175.8 216.75,176.9 217,177.2 217.25,175.1 217.5,169.8 217.75,161.2 218,150.4 218.25,139.9 218.5,134.5 218.75,136.4 219,143.7 219.25,153.9 219.5,163.7 219.75,171.1 220,175.9 220.25,178.4 220.5,179.6 220.75,180.1 221,179.9 221.25,179.5 221.5,178.9 221.75,177.2 222,172.8 222.25,164.4 222.5,150.7 222.75,132.6 223,114.6 223.25,103.7 223.5,104.4 223.75,114.9 224,131.1 224.25,148.1 224.5,161.8 224.75,170.7 225,175.6 225.25,177.8 225.5,178.4 225.75,177.3 226,175.2 226.25,173.3 226.5,172.3 226.75,172.3 227,173.3 227.25,175.0 227.5,176.9 227.75,178.8 228,180.1 228.25,180.6 228.5,181.1 228.75,181.6 229,181.8 229.25,181.7 229.5,181.8 229.75,182.0 230,181.7 230.25,181.6 230.5,181.7 230.75,181.9 231,182.0 231.25,181.9 231.5,181.9 231.75,182.1 232,182.0 232.25,181.9 232.5,182.0 232.75,182.0 233,181.9 233.25,181.8 233.5,181.6 233.75,181.2 234,181.0 234.25,180.3 234.5,178.8 234.75,175.9 235,171.9 235.25,167.3 235.5,163.2 235.75,161.2 236,162.4 236.25,165.5 236.5,169.7 236.75,174.1 237,177.4 237.25,179.4 237.5,180.7 237.75,181.5 238,181.9 238.25,181.9 238.5,181.9 238.75,181.9 239,181.9 239.25,181.8 239.5,181.9 239.75,181.9 240,182.1 240.25,182.2 240.5,182.2 240.75,182.4 241,182.4 241.25,182.0 241.5,181.9 241.75,182.0 242,181.9 242.25,181.9 242.5,182.0 242.75,182.0 243,182.0 243.25,182.0 243.5,181.8 243.75,181.8 244,182.1 244.25,182.1 244.5,182.0 244.75,182.0 245,181.9 245.25,181.8 245.5,182.0 245.75,181.9 246,182.0 246.25,182.2 246.5,182.4 246.75,182.4 247,182.2 247.25,182.0 247.5,182.1 247.75,182.4 248,182.5 248.25,182.3 248.5,182.1 248.75,182.1 249,181.9 249.25,181.5 249.5,181.2 249.75,180.8 250,180.2 250.25,179.9 250.5,179.8 250.75,179.7 251,179.7 251.25,180.2 251.5,181.1 251.75,181.7 252,182.2 252.25,182.1 252.5,182.1 252.75,182.3 253,182.3 253.25,182.2 253.5,182.1 253.75,181.9 254,182.0 254.25,182.2 254.5,182.1 254.75,182.2 255,182.4 255.25,182.4 255.5,182.4 255.75,182.2 256,181.8 256.25,181.8 256.5,182.1 256.75,182.2 257,182.0 257.25,182.0 257.5,182.2 257.75,182.2 258,182.0 258.25,181.9 258.5,182.0 258.75,181.9 259,182.0 259.25,182.0 259.5,181.9 259.75,181.9 260,182.0 260.25,182.1 260.5,182.3 260.75,182.4 261,182.3 261.25,182.1 261.5,182.1 261.75,182.2 262,182.1 262.25,182.0 262.5,182.0 262.75,182.1 263,182.1 263.25,182.2 263.5,182.3 263.75,182.1 264,182.0 264.25,182.1 264.5,182.0 264.75,182.0 265,182.0 265.25,182.1 265.5,182.0 265.75,181.8 266,181.6 266.25,181.4 266.5,181.4 266.75,181.3 267,181.2 267.25,181.0 267.5,179.9 267.75,177.2 268,172.7 268.25,165.8 268.5,156.9 268.75,148.1 269,142.5 269.25,141.6 269.5,144.7 269.75,150.8 270,158.5 270.25,166.4 270.5,172.6 270.75,176.8 271,179.3 271.25,180.6 271.5,181.2 271.75,181.4 272,181.4 272.25,181.5 272.5,181.8 272.75,182.0 273,182.0 273.25,181.8 273.5,181.9 273.75,182.1 274,182.3 274.25,182.2 274.5,182.1 274.75,182.0 275,182.1 275.25,182.1 275.5,182.1 275.75,182.3 276,182.4 276.25,182.2 276.5,182.0 276.75,182.2 277,182.3 277.25,182.0 277.5,182.0 277.75,182.2 278,182.3 278.25,182.1 278.5,182.0 278.75,182.2 279,182.5 279.25,182.5 279.5,182.4 279.75,182.7 280,182.7 280.25,182.5 280.5,182.5 280.75,182.5 281,182.4 281.25,182.2 281.5,182.1 281.75,182.0 282,181.9 282.25,182.1 282.5,182.2 282.75,182.4 283,182.5 283.25,182.3 283.5,182.3 283.75,182.2 284,182.1 284.25,182.2 284.5,182.3 284.75,182.2 285,182.0 285.25,181.9 285.5,182.1 285.75,182.4 286,182.6 286.25,182.7 286.5,182.6 286.75,182.5 287,182.5 287.25,182.4 287.5,182.4 287.75,182.7 288,182.8 288.25,182.4 288.5,182.2 288.75,182.3 289,182.3 289.25,182.2 289.5,182.2 289.75,182.2 290,182.5 290.25,182.4 290.5,182.2 290.75,182.2 291,182.3 291.25,182.3 291.5,182.2 291.75,182.1 292,182.1 292.25,182.2 292.5,182.2 292.75,182.1 293,182.2 293.25,182.5 293.5,182.7 293.75,182.3 294,181.8 294.25,181.8 294.5,181.9 294.75,182.0 295,181.9 295.25,181.4 295.5,180.8 295.75,180.9 296,181.1 296.25,181.3 296.5,181.5 296.75,181.5 297,181.6 297.25,181.6 297.5,181.5 297.75,181.5 298,180.8 298.25,179.2 298.5,177.3 298.75,175.7 299,174.5 299.25,173.9 299.5,174.0 299.75,174.9 300,176.5 300.25,178.1 300.5,179.3 300.75,180.4 301,181.3 301.25,181.8 301.5,181.9 301.75,181.9 302,181.8 302.25,182.0 302.5,182.3 302.75,182.5 303,182.5 303.25,182.4 303.5,182.6 303.75,182.7 304,182.5 304.25,182.4 304.5,182.4 304.75,182.3 305,182.3 305.25,182.3 305.5,182.1 305.75,181.9 306,182.0 306.25,182.1 306.5,182.3 306.75,182.2 307,181.9 307.25,181.6 307.5,180.9 307.75,180.0 308,179.2 308.25,178.4 308.5,177.5 308.75,177.1 309,177.5 309.25,178.3 309.5,178.9 309.75,179.7 310,180.5 310.25,180.9 310.5,181.6 310.75,182.1 311,182.2 311.25,182.2 311.5,182.3 311.75,182.6 312,182.6 312.25,182.3 312.5,182.2 312.75,182.3 313,182.3 313.25,182.3 313.5,182.3 313.75,182.1 314,182.0 314.25,182.0 314.5,182.0 314.75,182.1 315,182.2 315.25,182.5 315.5,182.5 315.75,182.3 316,182.4 316.25,182.5 316.5,182.3 316.75,182.0 317,182.0 317.25,182.4 317.5,182.6 317.75,182.4 318,182.3 318.25,182.6 318.5,182.7 318.75,182.4 319,182.2 319.25,182.1 319.5,182.2 319.75,182.2 320,182.4 320.25,182.5 320.5,182.6 320.75,182.6 321,182.5 321.25,182.5 321.5,182.6 321.75,182.5 322,182.4 322.25,182.6 322.5,182.5 322.75,182.4 323,182.4 323.25,182.6 323.5,182.8 323.75,182.6 324,182.3 324.25,182.1 324.5,182.0 324.75,182.0 325,182.3 325.25,182.3 325.5,182.1 325.75,182.1 326,182.2 326.25,182.2 326.5,182.2 326.75,182.4 327,182.4 327.25,182.5 327.5,182.5 327.75,182.5 328,182.5 328.25,182.4 328.5,182.5 328.75,182.5 329,182.4 329.25,182.3 329.5,182.1 329.75,182.1 330,182.2 330.25,182.3 330.5,182.4 330.75,182.5 331,182.5 331.25,182.5 331.5,182.5 331.75,182.4 332,182.3 332.25,182.5 332.5,182.5 332.75,182.3 333,182.3 333.25,182.6 333.5,182.6 333.75,182.7 334,182.5 334.25,182.2 334.5,182.1 334.75,182.2 335,182.5 335.25,182.6 335.5,182.5 335.75,182.4 336,182.2 336.25,182.1 336.5,182.1 336.75,182.0 337,182.2 337.25,182.4 337.5,182.5 337.75,182.5 338,182.3 338.25,182.2 338.5,182.1 338.75,181.5 339,180.6 339.25,179.8 339.5,178.9 339.75,177.4 340,176.4 340.25,175.6 340.5,175.3 340.75,175.9 341,176.9 341.25,177.8 341.5,178.8 341.75,179.9 342,180.8 342.25,181.5 342.5,181.9 342.75,182.0 343,182.1 343.25,182.1 343.5,182.0 343.75,182.0 344,182.2 344.25,182.5 344.5,182.4 344.75,182.3 345,182.2 345.25,182.3 345.5,182.3 345.75,182.3 346,182.5 346.25,182.7 346.5,182.7 346.75,182.6 347,182.4 347.25,182.4 347.5,182.3 347.75,182.1 348,181.8 348.25,181.1 348.5,180.3 348.75,179.4 349,178.5 349.25,178.0 349.5,178.0 349.75,178.2 350,178.6 350.25,179.2 350.5,179.8 350.75,180.2 351,180.9 351.25,181.6 351.5,182.1 351.75,182.3 352,182.4 352.25,182.4 352.5,182.4 352.75,182.3 353,182.1 353.25,182.2 353.5,182.6 353.75,182.7 354,182.4 354.25,182.1 354.5,181.9 354.75,182.0 355,182.3 355.25,182.3 355.5,182.1 355.75,182.2 356,182.3 356.25,182.5 356.5,182.5 356.75,182.4 357,182.4 357.25,182.3 357.5,182.1 357.75,182.3 358,182.5 358.25,182.4 358.5,182.3 358.75,182.3 359,182.4 359.25,182.5 359.5,182.5 359.75,182.2 360,182.2 360.25,182.4 360.5,182.2 360.75,182.2 361,182.4 361.25,182.5 361.5,182.5 361.75,182.5 362,182.5 362.25,182.7 362.5,182.8 362.75,182.6 363,182.6 363.25,182.6 363.5,182.4 363.75,182.3 364,182.1 364.25,182.0 364.5,181.9 364.75,181.7 365,181.0 365.25,179.8 365.5,178.2 365.75,176.4 366,174.6 366.25,173.1 366.5,172.2 366.75,172.3 367,173.0 367.25,174.2 367.5,175.7 367.75,177.2 368,178.6 368.25,179.9 368.5,180.7 368.75,181.2 369,181.5 369.25,181.8 369.5,182.2 369.75,182.2 370,182.2 370.25,182.4 370.5,182.4 370.75,182.1 371,182.2 371.25,182.3 371.5,182.1 371.75,182.2 372,182.3 372.25,182.4 372.5,182.4 372.75,182.4 373,182.3 373.25,182.5 373.5,182.6 373.75,182.4 374,182.3 374.25,182.4 374.5,182.4 374.75,182.6 375,182.6 375.25,182.4 375.5,182.2 375.75,182.5 376,182.6 376.25,182.5 376.5,182.6 376.75,182.6 377,182.7 377.25,182.8 377.5,182.5 377.75,182.3 378,182.2 378.25,182.1 378.5,182.1 378.75,182.1 379,182.1 379.25,182.3 379.5,181.9 379.75,181.3 380,180.4 380.25,179.0 380.5,177.5 380.75,176.2 381,175.0 381.25,174.3 381.5,174.2 381.75,174.8 382,175.6 382.25,176.6 382.5,177.4 382.75,178.4 383,179.7 383.25,180.9 383.5,181.6 383.75,182.0 384,182.3 384.25,182.4 384.5,182.4 384.75,182.4 385,182.4 385.25,182.3 385.5,182.2 385.75,182.3 386,182.3 386.25,182.4 386.5,182.5 386.75,182.4 387,182.4 387.25,182.4 387.5,182.4 387.75,182.6 388,182.6 388.25,182.6 388.5,182.4 388.75,182.2 389,182.2 389.25,182.5 389.5,182.7 389.75,182.6 390,182.4 390.25,182.5 390.5,182.8 390.75,182.7 391,182.3 391.25,182.1 391.5,182.2 391.75,182.7 392,183.0 392.25,182.9 392.5,182.6 392.75,182.3 393,182.3 393.25,182.4 393.5,182.4 393.75,182.3 394,182.3 394.25,182.5 394.5,182.7 394.75,182.8 395,182.6 395.25,182.4 395.5,182.2 395.75,182.1 396,182.2 396.25,182.5 396.5,182.6 396.75,182.6 397,182.5 397.25,182.2 397.5,182.0 397.75,182.0 398,182.1 398.25,182.2 398.5,181.9 398.75,181.4 399,180.6 399.25,179.1 399.5,177.1 399.75,174.5 400,171.8 400.25,169.3 400.5,167.9 400.75,167.6 401,167.9 401.25,169.1 401.5,171.1 401.75,173.2 402,175.1 402.25,177.1 402.5,179.0 402.75,180.2 403,180.9 403.25,181.4 403.5,181.6 403.75,181.6 404,181.8 404.25,181.9 404.5,181.6 404.75,181.5 405,181.5 405.25,181.1 405.5,180.3 405.75,179.3 406,178.2 406.25,177.1 406.5,175.7 406.75,174.4 407,173.1 407.25,171.8 407.5,170.9 407.75,170.7 408,171.3 408.25,172.1 408.5,172.9 408.75,174.1 409,175.4 409.25,176.6 409.5,177.8 409.75,179.0 410,180.1 410.25,180.7 410.5,181.1 410.75,181.4 411,181.6 411.25,182.0 411.5,182.3 411.75,182.1 412,182.1 412.25,182.2 412.5,181.9 412.75,181.9 413,182.2 413.25,182.3 413.5,182.2 413.75,182.2 414,182.2 414.25,182.1 414.5,182.1 414.75,181.8 415,181.2 415.25,180.3 415.5,179.6 415.75,179.3 416,178.8 416.25,178.4 416.5,178.7 416.75,179.1 417,179.1 417.25,179.4 417.5,180.0 417.75,180.3 418,180.5 418.25,180.6 418.5,180.6 418.75,181.0 419,181.5 419.25,181.9 419.5,181.8 419.75,181.7 420,181.8 420.25,182.0 420.5,182.2 420.75,182.4 421,182.6 421.25,182.8 421.5,182.8 421.75,182.7 422,182.8 422.25,182.7 422.5,182.3 422.75,182.2 423,182.3 423.25,182.4 423.5,182.4 423.75,182.0 424,181.5 424.25,181.5 424.5,181.2 424.75,180.6 425,180.0 425.25,179.7 425.5,179.5 425.75,179.2 426,179.1 426.25,179.0 426.5,179.3 426.75,179.8 427,180.1 427.25,180.0 427.5,180.3 427.75,180.6 428,180.7 428.25,181.0 428.5,181.2 428.75,181.3 429,181.5 429.25,181.8 429.5,182.0 429.75,182.2 430,182.4 430.25,182.4 430.5,182.4 430.75,182.4 431,182.6 431.25,182.6 431.5,182.4 431.75,182.5 432,182.6 432.25,182.5 432.5,182.4 432.75,182.5 433,182.5 433.25,182.4 433.5,182.4 433.75,182.3 434,182.2 434.25,182.2 434.5,182.2 434.75,182.2 435,182.2 435.25,181.9 435.5,181.6 435.75,181.4 436,181.1 436.25,181.2 436.5,181.4 436.75,181.3 437,181.2 437.25,181.0 437.5,180.6 437.75,180.3 438,179.9 438.25,179.2 438.5,178.2 438.75,177.2 439,176.1 439.25,175.3 439.5,174.8 439.75,174.8 440,175.0 440.25,175.6 440.5,176.8 440.75,178.0 441,179.0 441.25,179.9 441.5,180.4 441.75,180.8 442,181.3 442.25,182.0 442.5,182.3 442.75,182.4 443,182.5 443.25,182.5 443.5,182.5 443.75,182.6 444,182.7 444.25,182.8 444.5,182.8 444.75,182.9 445,182.9 445.25,182.8 445.5,182.8 445.75,182.6 446,182.6 446.25,182.6 446.5,182.4 446.75,182.7 447,182.9 447.25,182.7 447.5,182.7 447.75,182.7 448,182.7 448.25,182.7 448.5,182.6 448.75,182.5 449,182.5 449.25,182.6 449.5,182.3 449.75,181.7 450,181.4 450.25,181.4 450.5,181.2 450.75,180.9 451,180.8 451.25,180.6 451.5,180.5 451.75,180.4 452,180.1 452.25,180.2 452.5,180.6 452.75,180.5 453,180.5 453.25,180.8 453.5,181.4 453.75,181.8 454,181.9 454.25,181.9 454.5,181.8 454.75,181.9 455,182.0 455.25,181.8 455.5,181.6 455.75,181.5 456,181.7 456.25,181.7 456.5,181.6 456.75,181.4 457,181.5 457.25,181.9 457.5,181.8 457.75,181.6 458,181.6 458.25,181.3 458.5,180.8 458.75,180.7 459,180.8 459.25,180.9 459.5,181.0 459.75,181.1 460,181.2 460.25,181.4 460.5,181.5 460.75,181.6 461,181.9 461.25,182.2 461.5,182.3 461.75,182.4 462,182.5 462.25,182.6 462.5,182.8 462.75,182.7 463,182.6 463.25,182.6 463.5,182.6 463.75,182.6 464,182.7 464.25,182.8 464.5,182.8 464.75,182.6 465,182.7 465.25,182.8 465.5,182.7 465.75,182.7 466,182.7 466.25,182.6 466.5,182.6 466.75,182.8 467,182.9 467.25,182.7 467.5,182.7 467.75,182.9 468,182.9 468.25,182.4 468.5,182.1 468.75,182.1 469,182.1 469.25,182.0 469.5,181.6 469.75,181.3 470,181.5 470.25,181.6 470.5,181.7 470.75,181.7 471,181.6 471.25,181.7 471.5,181.9 471.75,182.2 472,182.4 472.25,182.3 472.5,182.3 472.75,182.6 473,182.7 473.25,182.5 473.5,182.3 473.75,182.4 474,182.7 474.25,182.8 474.5,182.7 474.75,182.7 475,182.6 475.25,182.7 475.5,182.8 475.75,182.8 476,182.8 476.25,183.0 476.5,182.9 476.75,182.7 477,182.5 477.25,182.4 477.5,182.4 477.75,182.6 478,182.5 478.25,182.4 478.5,182.5 478.75,182.4 479,182.4 479.25,182.3 479.5,182.0 479.75,181.3 480,180.4 480.25,179.6 480.5,178.6 480.75,177.2 481,176.5 481.25,176.4 481.5,176.5 481.75,176.8 482,177.3 482.25,177.6 482.5,178.1 482.75,179.0 483,179.8 483.25,180.6 483.5,181.4 483.75,181.8 484,181.9 484.25,182.2 484.5,182.6 484.75,182.7 485,182.8 485.25,182.9 485.5,182.9 485.75,182.7 486,182.7 486.25,182.6 486.5,182.6 486.75,182.4 487,182.4 487.25,182.5 487.5,182.7 487.75,183.0 488,183.1 488.25,183.0 488.5,182.8 488.75,182.7 489,182.6 489.25,182.7 489.5,182.8 489.75,182.8 490,183.0 490.25,183.1 490.5,182.8 490.75,182.6 491,182.7 491.25,182.7 491.5,182.9 491.75,183.0 492,182.8 492.25,182.8 492.5,182.8 492.75,182.7 493,182.8 493.25,183.0 493.5,183.1 493.75,183.1 494,183.0 494.25,182.8 494.5,182.4 494.75,182.1 495,182.4 495.25,182.6 495.5,182.2 495.75,181.6 496,181.5 496.25,181.2 496.5,180.8 496.75,180.7 497,180.7 497.25,180.9 497.5,181.3 497.75,181.5 498,181.4 498.25,181.3 498.5,181.6 498.75,182.0 499,182.3 499.25,182.5 499.5,182.5 499.75,182.4 500,182.4 500.25,182.5 500.5,182.6 500.75,182.9 501,183.1 501.25,183.1 501.5,183.0 501.75,182.9 502,182.8 502.25,182.8 502.5,182.9 502.75,183.0 503,182.9 503.25,182.8 503.5,182.8 503.75,182.9 504,182.8 504.25,182.6 504.5,182.6 504.75,182.8 505,183.0 505.25,182.9 505.5,182.7 505.75,182.9 506,183.0 506.25,183.0 506.5,182.9 506.75,182.9 507,183.0 507.25,183.1 507.5,183.2 507.75,183.2 508,183.1 508.25,183.1 508.5,182.9 508.75,182.6 509,182.5 509.25,182.4 509.5,182.6 509.75,182.9 510,182.9 510.25,182.9 510.5,182.8 510.75,182.7 511,182.8 511.25,182.9 511.5,182.9 511.75,182.8 512,183.0 512.25,183.2 512.5,183.2 512.75,182.9 513,182.7 513.25,182.7 513.5,182.7 513.75,182.7 514,182.9 514.25,182.9 514.5,182.8 514.75,182.7 515,182.6 515.25,182.6 515.5,182.5 515.75,181.9 516,180.6 516.25,178.4 516.5,176.0 516.75,174.2 517,173.8 517.25,175.0 517.5,177.1 517.75,178.2 518,178.2 518.25,178.0 518.5,178.1 518.75,178.8 519,179.9 519.25,181.2 519.5,181.9 519.75,182.2 520,182.3 520.25,182.4 520.5,182.6 520.75,182.8 521,182.9 521.25,182.8 521.5,182.9 521.75,182.9 522,182.9 522.25,182.9 522.5,182.9 522.75,182.8 523,182.9 523.25,183.1 523.5,183.1 523.75,183.0 524,183.0 524.25,182.9 524.5,182.9 524.75,183.1 525,183.2 525.25,183.0 525.5,182.7 525.75,182.8 526,182.9 526.25,182.8 526.5,182.5 526.75,182.3 527,182.2 527.25,182.0 527.5,181.8 527.75,181.9 528,181.9 528.25,182.0 528.5,182.0 528.75,181.9 529,182.1 529.25,182.1 529.5,182.0 529.75,182.1 530,182.2 530.25,182.4 530.5,182.6 530.75,182.8 531,182.7 531.25,182.6 531.5,182.8 531.75,182.9 532,183.0 532.25,183.0 532.5,182.8 532.75,182.9 533,183.1 533.25,183.1 533.5,183.1 533.75,183.1 534,183.1 534.25,183.0 534.5,183.0 534.75,183.1 535,183.0 535.25,183.0 535.5,183.1 535.75,182.9 536,182.8 536.25,183.0 536.5,183.2 536.75,183.0 537,182.8 537.25,183.1 537.5,183.3"/>
<polyline fill="none" stroke="#444" stroke-width="0.75" stroke-linejoin="round" clip-path="url(#cb0)" points="60,181.7 60.25,181.6 60.5,181.4 60.75,181.4 61,181.9 61.25,182.0 61.5,181.8 61.75,181.8 62,181.8 62.25,181.7 62.5,181.8 62.75,181.7 63,181.6 63.25,181.6 63.5,181.7 63.75,181.8 64,181.7 64.25,181.7 64.5,181.6 64.75,181.6 65,181.8 65.25,181.8 65.5,181.8 65.75,181.7 66,181.6 66.25,181.9 66.5,182.0 66.75,181.5 67,181.2 67.25,181.4 67.5,181.7 67.75,181.9 68,181.9 68.25,181.9 68.5,181.8 68.75,181.8 69,181.8 69.25,181.8 69.5,181.6 69.75,181.6 70,181.9 70.25,182.0 70.5,181.7 70.75,181.5 71,181.6 71.25,181.8 71.5,181.9 71.75,181.8 72,181.6 72.25,181.8 72.5,181.9 72.75,181.6 73,181.7 73.25,181.9 73.5,181.9 73.75,182.1 74,182.2 74.25,181.9 74.5,181.7 74.75,181.6 75,181.8 75.25,181.7 75.5,181.7 75.75,181.8 76,181.7 76.25,181.5 76.5,181.2 76.75,181.3 77,181.7 77.25,182.0 77.5,182.0 77.75,181.8 78,181.7 78.25,181.8 78.5,181.7 78.75,181.5 79,181.6 79.25,182.0 79.5,182.0 79.75,181.8 80,181.7 80.25,181.7 80.5,181.8 80.75,181.7 81,181.6 81.25,181.6 81.5,181.6 81.75,181.8 82,181.9 82.25,181.8 82.5,181.9 82.75,181.8 83,181.7 83.25,181.6 83.5,181.7 83.75,181.7 84,181.6 84.25,181.6 84.5,181.5 84.75,181.5 85,181.4 85.25,181.6 85.5,181.9 85.75,182.0 86,182.1 86.25,182.2 86.5,182.0 86.75,181.9 87,181.9 87.25,181.8 87.5,181.8 87.75,181.7 88,181.6 88.25,181.6 88.5,181.7 88.75,181.7 89,181.7 89.25,182.0 89.5,182.0 89.75,181.8 90,181.6 90.25,181.7 90.5,181.8 90.75,181.9 91,181.9 91.25,181.7 91.5,181.6 91.75,181.5 92,181.5 92.25,181.6 92.5,181.8 92.75,182.0 93,181.9 93.25,181.8 93.5,181.7 93.75,181.9 94,182.0 94.25,181.9 94.5,181.8 94.75,181.6 95,181.6 95.25,181.7 95.5,181.7 95.75,181.6 96,181.6 96.25,181.6 96.5,181.8 96.75,181.9 97,181.9 97.25,181.7 97.5,181.6 97.75,181.6 98,181.5 98.25,181.5 98.5,181.6 98.75,181.6 99,181.7 99.25,181.7 99.5,181.7 99.75,181.4 100,181.1 100.25,181.1 100.5,180.9 100.75,180.7 101,180.3 101.25,178.7 101.5,174.3 101.75,165.5 102,153.0 102.25,142.3 102.5,141.6 102.75,151.2 103,163.8 103.25,173.2 103.5,178.3 103.75,180.2 104,180.6 104.25,180.9 104.5,181.2 104.75,181.5 105,181.6 105.25,181.4 105.5,181.4 105.75,181.5 106,181.7 106.25,181.9 106.5,181.9 106.75,181.7 107,181.6 107.25,181.5 107.5,181.7 107.75,181.9 108,181.7 108.25,181.7 108.5,181.9 108.75,182.1 109,181.9 109.25,181.7 109.5,181.8 109.75,181.6 110,181.7 110.25,181.8 110.5,181.8 110.75,181.8 111,181.9 111.25,181.8 111.5,181.4 111.75,181.3 112,181.7 112.25,182.0 112.5,181.9 112.75,181.8 113,181.8 113.25,181.9 113.5,181.9 113.75,181.8 114,181.8 114.25,182.0 114.5,182.0 114.75,181.9 115,182.1 115.25,182.1 115.5,181.6 115.75,181.5 116,181.8 116.25,181.9 116.5,181.6 116.75,181.6 117,181.8 117.25,181.8 117.5,181.9 117.75,182.4 118,182.4 118.25,182.1 118.5,181.9 118.75,181.7 119,181.5 119.25,181.6 119.5,181.6 119.75,181.4 120,181.5 120.25,181.8 120.5,181.9 120.75,181.9 121,181.9 121.25,181.6 121.5,181.4 121.75,181.4 122,181.6 122.25,181.8 122.5,181.8 122.75,181.7 123,181.6 123.25,181.5 123.5,181.5 123.75,181.6 124,181.9 124.25,181.9 124.5,181.5 124.75,181.4 125,181.4 125.25,181.3 125.5,181.2 125.75,181.1 126,180.8 126.25,180.3 126.5,178.9 126.75,175.4 127,168.6 127.25,159.1 127.5,150.4 127.75,147.8 128,153.2 128.25,162.8 128.5,171.4 128.75,176.8 129,179.5 129.25,180.5 129.5,181.1 129.75,181.0 130,180.9 130.25,181.0 130.5,180.6 130.75,179.5 131,177.4 131.25,172.6 131.5,164.2 131.75,154.0 132,147.0 132.25,147.8 132.5,155.7 132.75,165.7 133,173.5 133.25,178.0 133.5,180.1 133.75,180.8 134,180.9 134.25,180.9 134.5,181.2 134.75,181.7 135,181.9 135.25,181.9 135.5,181.7 135.75,181.7 136,182.0 136.25,182.0 136.5,181.8 136.75,181.6 137,181.7 137.25,182.0 137.5,182.0 137.75,181.9 138,181.9 138.25,181.9 138.5,181.7 138.75,181.5 139,181.4 139.25,181.5 139.5,182.0 139.75,182.1 140,181.8 140.25,181.8 140.5,181.9 140.75,181.8 141,181.7 141.25,181.8 141.5,181.9 141.75,181.9 142,181.9 142.25,182.0 142.5,181.7 142.75,181.5 143,181.7 143.25,182.0 143.5,182.0 143.75,181.8 144,181.8 144.25,181.9 144.5,182.0 144.75,182.1 145,182.2 145.25,181.9 145.5,181.6 145.75,181.7 146,182.0 146.25,182.1 146.5,182.1 146.75,182.2 147,182.3 147.25,182.2 147.5,182.0 147.75,182.0 148,182.0 148.25,181.9 148.5,182.1 148.75,182.3 149,182.1 149.25,182.0 149.5,181.9 149.75,181.8 150,181.8 150.25,181.8 150.5,181.9 150.75,181.9 151,182.0 151.25,182.0 151.5,181.9 151.75,181.8 152,181.5 152.25,181.5 152.5,181.8 152.75,182.0 153,181.9 153.25,181.7 153.5,181.8 153.75,182.0 154,182.1 154.25,182.1 154.5,181.9 154.75,181.8 155,181.8 155.25,181.9 155.5,181.9 155.75,181.8 156,181.8 156.25,182.1 156.5,182.3 156.75,182.2 157,182.0 157.25,182.0 157.5,182.1 157.75,182.2 158,182.3 158.25,182.1 158.5,181.8 158.75,181.7 159,181.7 159.25,181.8 159.5,182.1 159.75,182.1 160,182.0 160.25,182.1 160.5,182.1 160.75,181.9 161,181.9 161.25,181.9 161.5,181.7 161.75,181.6 162,181.8 162.25,181.8 162.5,181.6 162.75,181.9 163,182.1 163.25,181.9 163.5,181.9 163.75,181.9 164,181.8 164.25,181.9 164.5,182.0 164.75,181.8 165,181.9 165.25,181.9 165.5,181.8 165.75,181.7 166,181.6 166.25,181.7 166.5,181.9 166.75,181.8 167,181.9 167.25,181.9 167.5,181.2 167.75,180.2 168,179.0 168.25,177.9 168.5,177.4 168.75,177.8 169,178.9 169.25,180.0 169.5,180.8 169.75,181.4 170,181.9 170.25,182.2 170.5,182.0 170.75,181.6 171,181.5 171.25,181.6 171.5,181.7 171.75,181.7 172,181.6 172.25,181.7 172.5,182.0 172.75,182.0 173,181.8 173.25,181.7 173.5,181.7 173.75,181.6 174,181.6 174.25,181.8 174.5,182.0 174.75,182.0 175,181.9 175.25,182.1 175.5,182.1 175.75,182.0 176,182.0 176.25,181.9 176.5,182.1 176.75,182.1 177,181.9 177.25,181.9 177.5,182.1 177.75,182.3 178,182.4 178.25,182.2 178.5,182.0 178.75,182.0 179,182.1 179.25,182.1 179.5,181.9 179.75,181.9 180,182.0 180.25,182.1 180.5,182.2 180.75,182.3 181,182.2 181.25,182.1 181.5,181.9 181.75,181.7 182,181.8 182.25,181.9 182.5,182.0 182.75,181.9 183,181.8 183.25,181.9 183.5,181.9 183.75,181.8 184,181.9 184.25,181.9 184.5,181.6 184.75,181.6 185,181.9 185.25,181.9 185.5,181.8 185.75,181.9 186,182.1 186.25,182.0 186.5,182.1 186.75,182.1 187,182.0 187.25,181.9 187.5,181.8 187.75,181.7 188,181.8 188.25,181.9 188.5,181.8 188.75,181.7 189,181.8 189.25,182.1 189.5,182.0 189.75,181.7 190,181.5 190.25,181.4 190.5,181.5 190.75,181.4 191,181.1 191.25,180.7 191.5,179.3 191.75,176.1 192,170.8 192.25,163.7 192.5,156.3 192.75,151.7 193,152.3 193.25,157.5 193.5,164.8 193.75,171.6 194,176.4 194.25,179.1 194.5,180.6 194.75,181.3 195,181.6 195.25,181.5 195.5,181.5 195.75,181.6 196,181.6 196.25,181.5 196.5,181.5 196.75,181.6 197,181.7 197.25,181.7 197.5,181.9 197.75,182.1 198,182.2 198.25,182.0 198.5,181.7 198.75,181.8 199,181.9 199.25,181.9 199.5,181.8 199.75,181.7 200,181.8 200.25,181.7 200.5,181.6 200.75,181.7 201,182.0 201.25,182.1 201.5,181.9 201.75,181.9 202,182.0 202.25,182.1 202.5,182.2 202.75,182.0 203,182.0 203.25,182.1 203.5,182.0 203.75,181.8 204,181.5 204.25,181.2 204.5,181.0 204.75,180.6 205,179.5 205.25,177.1 205.5,172.9 205.75,167.4 206,161.8 206.25,158.3 206.5,158.5 206.75,162.1 207,167.7 207.25,173.0 207.5,176.8 207.75,179.2 208,180.3 208.25,180.8 208.5,181.4 208.75,181.7 209,181.5 209.25,181.6 209.5,181.8 209.75,181.6 210,181.8 210.25,181.9 210.5,181.8 210.75,182.0 211,182.1 211.25,181.8 211.5,181.7 211.75,181.7 212,181.6 212.25,181.6 212.5,181.9 212.75,181.8 213,181.4 213.25,181.5 213.5,181.7 213.75,181.5 214,181.2 214.25,180.9 214.5,180.4 214.75,179.2 215,177.1 215.25,174.7 215.5,172.9 215.75,172.2 216,172.9 216.25,174.5 216.5,175.8 216.75,176.9 217,177.2 217.25,175.1 217.5,169.8 217.75,161.2 218,150.4 218.25,139.9 218.5,134.5 218.75,136.4 219,143.7 219.25,153.9 219.5,163.7 219.75,171.1 220,175.9 220.25,178.4 220.5,179.6 220.75,180.1 221,179.9 221.25,179.5 221.5,178.9 221.75,177.2 222,172.8 222.25,164.4 222.5,150.7 222.75,132.6 223,114.6 223.25,103.7 223.5,104.4 223.75,114.9 224,131.1 224.25,148.1 224.5,161.8 224.75,170.7 225,175.6 225.25,177.8 225.5,178.4 225.75,177.3 226,175.2 226.25,173.3 226.5,172.3 226.75,172.3 227,173.3 227.25,175.0 227.5,176.9 227.75,178.8 228,180.1 228.25,180.6 228.5,181.1 228.75,181.6 229,181.8 229.25,181.7 229.5,181.8 229.75,182.0 230,181.7 230.25,181.6 230.5,181.7 230.75,181.9 231,182.0 231.25,181.9 231.5,181.9 231.75,182.1 232,182.0 232.25,181.9 232.5,182.0 232.75,182.0 233,181.9 233.25,181.8 233.5,181.6 233.75,181.2 234,181.0 234.25,180.3 234.5,178.8 234.75,175.9 235,171.9 235.25,167.3 235.5,163.2 235.75,161.2 236,162.4 236.25,165.5 236.5,169.7 236.75,174.1 237,177.4 237.25,179.4 237.5,180.7 237.75,181.5 238,181.9 238.25,181.9 238.5,181.9 238.75,181.9 239,181.9 239.25,181.8 239.5,181.9 239.75,181.9 240,182.1 240.25,182.2 240.5,182.2 240.75,182.4 241,182.4 241.25,182.0 241.5,181.9 241.75,182.0 242,181.9 242.25,181.9 242.5,182.0 242.75,182.0 243,182.0 243.25,182.0 243.5,181.8 243.75,181.8 244,182.1 244.25,182.1 244.5,182.0 244.75,182.0 245,181.9 245.25,181.8 245.5,182.0 245.75,181.9 246,182.0 246.25,182.2 246.5,182.4 246.75,182.4 247,182.2 247.25,182.0 247.5,182.1 247.75,182.4 248,182.5 248.25,182.3 248.5,182.1 248.75,182.1 249,181.9 249.25,181.5 249.5,181.2 249.75,180.8 250,180.2 250.25,179.9 250.5,179.8 250.75,179.7 251,179.7 251.25,180.2 251.5,181.1 251.75,181.7 252,182.2 252.25,182.1 252.5,182.1 252.75,182.3 253,182.3 253.25,182.2 253.5,182.1 253.75,181.9 254,182.0 254.25,182.2 254.5,182.1 254.75,182.2 255,182.4 255.25,182.4 255.5,182.4 255.75,182.2 256,181.8 256.25,181.8 256.5,182.1 256.75,182.2 257,182.0 257.25,182.0 257.5,182.2 257.75,182.2 258,182.0 258.25,181.9 258.5,182.0 258.75,181.9 259,182.0 259.25,182.0 259.5,181.9 259.75,181.9 260,182.0 260.25,182.1 260.5,182.3 260.75,182.4 261,182.3 261.25,182.1 261.5,182.1 261.75,182.2 262,182.1 262.25,182.0 262.5,182.0 262.75,182.1 263,182.1 263.25,182.2 263.5,182.3 263.75,182.1 264,182.0 264.25,182.1 264.5,182.0 264.75,182.0 265,182.0 265.25,182.1 265.5,182.0 265.75,181.8 266,181.6 266.25,181.4 266.5,181.4 266.75,181.3 267,181.2 267.25,181.0 267.5,179.9 267.75,177.2 268,172.7 268.25,165.8 268.5,156.9 268.75,148.1 269,142.5 269.25,141.6 269.5,144.7 269.75,150.8 270,158.5 270.25,166.4 270.5,172.6 270.75,176.8 271,179.3 271.25,180.6 271.5,181.2 271.75,181.4 272,181.4 272.25,181.5 272.5,181.8 272.75,182.0 273,182.0 273.25,181.8 273.5,181.9 273.75,182.1 274,182.3 274.25,182.2 274.5,182.1 274.75,182.0 275,182.1 275.25,182.1 275.5,182.1 275.75,182.3 276,182.4 276.25,182.2 276.5,182.0 276.75,182.2 277,182.3 277.25,182.0 277.5,182.0 277.75,182.2 278,182.3 278.25,182.1 278.5,182.0 278.75,182.2 279,182.5 279.25,182.5 279.5,182.4 279.75,182.7 280,182.7 280.25,182.5 280.5,182.5 280.75,182.5 281,182.4 281.25,182.2 281.5,182.1 281.75,182.0 282,181.9 282.25,182.1 282.5,182.2 282.75,182.4 283,182.5 283.25,182.3 283.5,182.3 283.75,182.2 284,182.1 284.25,182.2 284.5,182.3 284.75,182.2 285,182.0 285.25,181.9 285.5,182.1 285.75,182.4 286,182.6 286.25,182.7 286.5,182.6 286.75,182.5 287,182.5 287.25,182.4 287.5,182.4 287.75,182.7 288,182.8 288.25,182.4 288.5,182.2 288.75,182.3 289,182.3 289.25,182.2 289.5,182.2 289.75,182.2 290,182.5 290.25,182.4 290.5,182.2 290.75,182.2 291,182.3 291.25,182.3 291.5,182.2 291.75,182.1 292,182.1 292.25,182.2 292.5,182.2 292.75,182.1 293,182.2 293.25,182.5 293.5,182.7 293.75,182.3 294,181.8 294.25,181.8 294.5,181.9 294.75,182.0 295,181.9 295.25,181.4 295.5,180.8 295.75,180.9 296,181.1 296.25,181.3 296.5,181.5 296.75,181.5 297,181.6 297.25,181.6 297.5,181.5 297.75,181.5 298,180.8 298.25,179.2 298.5,177.3 298.75,175.7 299,174.5 299.25,173.9 299.5,174.0 299.75,174.9 300,176.5 300.25,178.1 300.5,179.3 300.75,180.4 301,181.3 301.25,181.8 301.5,181.9 301.75,181.9 302,181.8 302.25,182.0 302.5,182.3 302.75,182.5 303,182.5 303.25,182.4 303.5,182.6 303.75,182.7 304,182.5 304.25,182.4 304.5,182.4 304.75,182.3 305,182.3 305.25,182.3 305.5,182.1 305.75,181.9 306,182.0 306.25,182.1 306.5,182.3 306.75,182.2 307,181.9 307.25,181.6 307.5,180.9 307.75,180.0 308,179.2 308.25,178.4 308.5,177.5 308.75,177.1 309,177.5 309.25,178.3 309.5,178.9 309.75,179.7 310,180.5 310.25,180.9 310.5,181.6 310.75,182.1 311,182.2 311.25,182.2 311.5,182.3 311.75,182.6 312,182.6 312.25,182.3 312.5,182.2 312.75,182.3 313,182.3 313.25,182.3 313.5,182.3 313.75,182.1 314,182.0 314.25,182.0 314.5,182.0 314.75,182.1 315,182.2 315.25,182.5 315.5,182.5 315.75,182.3 316,182.4 316.25,182.5 316.5,182.3 316.75,182.0 317,182.0 317.25,182.4 317.5,182.6 317.75,182.4 318,182.3 318.25,182.6 318.5,182.7 318.75,182.4 319,182.2 319.25,182.1 319.5,182.2 319.75,182.2 320,182.4 320.25,182.5 320.5,182.6 320.75,182.6 321,182.5 321.25,182.5 321.5,182.6 321.75,182.5 322,182.4 322.25,182.6 322.5,182.5 322.75,182.4 323,182.4 323.25,182.6 323.5,182.8 323.75,182.6 324,182.3 324.25,182.1 324.5,182.0 324.75,182.0 325,182.3 325.25,182.3 325.5,182.1 325.75,182.1 326,182.2 326.25,182.2 326.5,182.2 326.75,182.4 327,182.4 327.25,182.5 327.5,182.5 327.75,182.5 328,182.5 328.25,182.4 328.5,182.5 328.75,182.5 329,182.4 329.25,182.3 329.5,182.1 329.75,182.1 330,182.2 330.25,182.3 330.5,182.4 330.75,182.5 331,182.5 331.25,182.5 331.5,182.5 331.75,182.4 332,182.3 332.25,182.5 332.5,182.5 332.75,182.3 333,182.3 333.25,182.6 333.5,182.6 333.75,182.7 334,182.5 334.25,182.2 334.5,182.1 334.75,182.2 335,182.5 335.25,182.6 335.5,182.5 335.75,182.4 336,182.2 336.25,182.1 336.5,182.1 336.75,182.0 337,182.2 337.25,182.4 337.5,182.5 337.75,182.5 338,182.3 338.25,182.2 338.5,182.1 338.75,181.5 339,180.6 339.25,179.8 339.5,178.9 339.75,177.4 340,176.4 340.25,175.6 340.5,175.3 340.75,175.9 341,176.9 341.25,177.8 341.5,178.8 341.75,179.9 342,180.8 342.25,181.5 342.5,181.9 342.75,182.0 343,182.1 343.25,182.1 343.5,182.0 343.75,182.0 344,182.2 344.25,182.5 344.5,182.4 344.75,182.3 345,182.2 345.25,182.3 345.5,182.3 345.75,182.3 346,182.5 346.25,182.7 346.5,182.7 346.75,182.6 347,182.4 347.25,182.4 347.5,182.3 347.75,182.1 348,181.8 348.25,181.1 348.5,180.3 348.75,179.4 349,178.5 349.25,178.0 349.5,178.0 349.75,178.2 350,178.6 350.25,179.2 350.5,179.8 350.75,180.2 351,180.9 351.25,181.6 351.5,182.1 351.75,182.3 352,182.4 352.25,182.4 352.5,182.4 352.75,182.3 353,182.1 353.25,182.2 353.5,182.6 353.75,182.7 354,182.4 354.25,182.1 354.5,181.9 354.75,182.0 355,182.3 355.25,182.3 355.5,182.1 355.75,182.2 356,182.3 356.25,182.5 356.5,182.5 356.75,182.4 357,182.4 357.25,182.3 357.5,182.1 357.75,182.3 358,182.5 358.25,182.4 358.5,182.3 358.75,182.3 359,182.4 359.25,182.5 359.5,182.5 359.75,182.2 360,182.2 360.25,182.4 360.5,182.2 360.75,182.2 361,182.4 361.25,182.5 361.5,182.5 361.75,182.5 362,182.5 362.25,182.7 362.5,182.8 362.75,182.6 363,182.6 363.25,182.6 363.5,182.4 363.75,182.3 364,182.1 364.25,182.0 364.5,181.9 364.75,181.7 365,181.0 365.25,179.8 365.5,178.2 365.75,176.4 366,174.6 366.25,173.1 366.5,172.2 366.75,172.3 367,173.0 367.25,174.2 367.5,175.7 367.75,177.2 368,178.6 368.25,179.9 368.5,180.7 368.75,181.2 369,181.5 369.25,181.8 369.5,182.2 369.75,182.2 370,182.2 370.25,182.4 370.5,182.4 370.75,182.1 371,182.2 371.25,182.3 371.5,182.1 371.75,182.2 372,182.3 372.25,182.4 372.5,182.4 372.75,182.4 373,182.3 373.25,182.5 373.5,182.6 373.75,182.4 374,182.3 374.25,182.4 374.5,182.4 374.75,182.6 375,182.6 375.25,182.4 375.5,182.2 375.75,182.5 376,182.6 376.25,182.5 376.5,182.6 376.75,182.6 377,182.7 377.25,182.8 377.5,182.5 377.75,182.3 378,182.2 378.25,182.1 378.5,182.1 378.75,182.1 379,182.1 379.25,182.3 379.5,181.9 379.75,181.3 380,180.4 380.25,179.0 380.5,177.5 380.75,176.2 381,175.0 381.25,174.3 381.5,174.2 381.75,174.8 382,175.6 382.25,176.6 382.5,177.4 382.75,178.4 383,179.7 383.25,180.9 383.5,181.6 383.75,182.0 384,182.3 384.25,182.4 384.5,182.4 384.75,182.4 385,182.4 385.25,182.3 385.5,182.2 385.75,182.3 386,182.3 386.25,182.4 386.5,182.5 386.75,182.4 387,182.4 387.25,182.4 387.5,182.4 387.75,182.6 388,182.6 388.25,182.6 388.5,182.4 388.75,182.2 389,182.2 389.25,182.5 389.5,182.7 389.75,182.6 390,182.4 390.25,182.5 390.5,182.8 390.75,182.7 391,182.3 391.25,182.1 391.5,182.2 391.75,182.7 392,183.0 392.25,182.9 392.5,182.6 392.75,182.3 393,182.3 393.25,182.4 393.5,182.4 393.75,182.3 394,182.3 394.25,182.5 394.5,182.7 394.75,182.8 395,182.6 395.25,182.4 395.5,182.2 395.75,182.1 396,182.2 396.25,182.5 396.5,182.6 396.75,182.6 397,182.5 397.25,182.2 397.5,182.0 397.75,182.0 398,182.1 398.25,182.2 398.5,181.9 398.75,181.4 399,180.6 399.25,179.1 399.5,177.1 399.75,174.5 400,171.8 400.25,169.3 400.5,167.9 400.75,167.6 401,167.9 401.25,169.1 401.5,171.1 401.75,173.2 402,175.1 402.25,177.1 402.5,179.0 402.75,180.2 403,180.9 403.25,181.4 403.5,181.6 403.75,181.6 404,181.8 404.25,181.9 404.5,181.6 404.75,181.5 405,181.5 405.25,181.1 405.5,180.3 405.75,179.3 406,178.2 406.25,177.1 406.5,175.7 406.75,174.4 407,173.1 407.25,171.8 407.5,170.9 407.75,170.7 408,171.3 408.25,172.1 408.5,172.9 408.75,174.1 409,175.4 409.25,176.6 409.5,177.8 409.75,179.0 410,180.1 410.25,180.7 410.5,181.1 410.75,181.4 411,181.6 411.25,182.0 411.5,182.3 411.75,182.1 412,182.1 412.25,182.2 412.5,181.9 412.75,181.9 413,182.2 413.25,182.3 413.5,182.2 413.75,182.2 414,182.2 414.25,182.1 414.5,182.1 414.75,181.8 415,181.2 415.25,180.3 415.5,179.6 415.75,179.3 416,178.8 416.25,178.4 416.5,178.7 416.75,179.1 417,179.1 417.25,179.4 417.5,180.0 417.75,180.3 418,180.5 418.25,180.6 418.5,180.6 418.75,181.0 419,181.5 419.25,181.9 419.5,181.8 419.75,181.7 420,181.8 420.25,182.0 420.5,182.2 420.75,182.4 421,182.6 421.25,182.8 421.5,182.8 421.75,182.7 422,182.8 422.25,182.7 422.5,182.3 422.75,182.2 423,182.3 423.25,182.4 423.5,182.4 423.75,182.0 424,181.5 424.25,181.5 424.5,181.2 424.75,180.6 425,180.0 425.25,179.7 425.5,179.5 425.75,179.2 426,179.1 426.25,179.0 426.5,179.3 426.75,179.8 427,180.1 427.25,180.0 427.5,180.3 427.75,180.6 428,180.7 428.25,181.0 428.5,181.2 428.75,181.3 429,181.5 429.25,181.8 429.5,182.0 429.75,182.2 430,182.4 430.25,182.4 430.5,182.4 430.75,182.4 431,182.6 431.25,182.6 431.5,182.4 431.75,182.5 432,182.6 432.25,182.5 432.5,182.4 432.75,182.5 433,182.5 433.25,182.4 433.5,182.4 433.75,182.3 434,182.2 434.25,182.2 434.5,182.2 434.75,182.2 435,182.2 435.25,181.9 435.5,181.6 435.75,181.4 436,181.1 436.25,181.2 436.5,181.4 436.75,181.3 437,181.2 437.25,181.0 437.5,180.6 437.75,180.3 438,179.9 438.25,179.2 438.5,178.2 438.75,177.2 439,176.1 439.25,175.3 439.5,174.8 439.75,174.8 440,175.0 440.25,175.6 440.5,176.8 440.75,178.0 441,179.0 441.25,179.9 441.5,180.4 441.75,180.8 442,181.3 442.25,182.0 442.5,182.3 442.75,182.4 443,182.5 443.25,182.5 443.5,182.5 443.75,182.6 444,182.7 444.25,182.8 444.5,182.8 444.75,182.9 445,182.9 445.25,182.8 445.5,182.8 445.75,182.6 446,182.6 446.25,182.6 446.5,182.4 446.75,182.7 447,182.9 447.25,182.7 447.5,182.7 447.75,182.7 448,182.7 448.25,182.7 448.5,182.6 448.75,182.5 449,182.5 449.25,182.6 449.5,182.3 449.75,181.7 450,181.4 450.25,181.4 450.5,181.2 450.75,180.9 451,180.8 451.25,180.6 451.5,180.5 451.75,180.4 452,180.1 452.25,180.2 452.5,180.6 452.75,180.5 453,180.5 453.25,180.8 453.5,181.4 453.75,181.8 454,181.9 454.25,181.9 454.5,181.8 454.75,181.9 455,182.0 455.25,181.8 455.5,181.6 455.75,181.5 456,181.7 456.25,181.7 456.5,181.6 456.75,181.4 457,181.5 457.25,181.9 457.5,181.8 457.75,181.6 458,181.6 458.25,181.3 458.5,180.8 458.75,180.7 459,180.8 459.25,180.9 459.5,181.0 459.75,181.1 460,181.2 460.25,181.4 460.5,181.5 460.75,181.6 461,181.9 461.25,182.2 461.5,182.3 461.75,182.4 462,182.5 462.25,182.6 462.5,182.8 462.75,182.7 463,182.6 463.25,182.6 463.5,182.6 463.75,182.6 464,182.7 464.25,182.8 464.5,182.8 464.75,182.6 465,182.7 465.25,182.8 465.5,182.7 465.75,182.7 466,182.7 466.25,182.6 466.5,182.6 466.75,182.8 467,182.9 467.25,182.7 467.5,182.7 467.75,182.9 468,182.9 468.25,182.4 468.5,182.1 468.75,182.1 469,182.1 469.25,182.0 469.5,181.6 469.75,181.3 470,181.5 470.25,181.6 470.5,181.7 470.75,181.7 471,181.6 471.25,181.7 471.5,181.9 471.75,182.2 472,182.4 472.25,182.3 472.5,182.3 472.75,182.6 473,182.7 473.25,182.5 473.5,182.3 473.75,182.4 474,182.7 474.25,182.8 474.5,182.7 474.75,182.7 475,182.6 475.25,182.7 475.5,182.8 475.75,182.8 476,182.8 476.25,183.0 476.5,182.9 476.75,182.7 477,182.5 477.25,182.4 477.5,182.4 477.75,182.6 478,182.5 478.25,182.4 478.5,182.5 478.75,182.4 479,182.4 479.25,182.3 479.5,182.0 479.75,181.3 480,180.4 480.25,179.6 480.5,178.6 480.75,177.2 481,176.5 481.25,176.4 481.5,176.5 481.75,176.8 482,177.3 482.25,177.6 482.5,178.1 482.75,179.0 483,179.8 483.25,180.6 483.5,181.4 483.75,181.8 484,181.9 484.25,182.2 484.5,182.6 484.75,182.7 485,182.8 485.25,182.9 485.5,182.9 485.75,182.7 486,182.7 486.25,182.6 486.5,182.6 486.75,182.4 487,182.4 487.25,182.5 487.5,182.7 487.75,183.0 488,183.1 488.25,183.0 488.5,182.8 488.75,182.7 489,182.6 489.25,182.7 489.5,182.8 489.75,182.8 490,183.0 490.25,183.1 490.5,182.8 490.75,182.6 491,182.7 491.25,182.7 491.5,182.9 491.75,183.0 492,182.8 492.25,182.8 492.5,182.8 492.75,182.7 493,182.8 493.25,183.0 493.5,183.1 493.75,183.1 494,183.0 494.25,182.8 494.5,182.4 494.75,182.1 495,182.4 495.25,182.6 495.5,182.2 495.75,181.6 496,181.5 496.25,181.2 496.5,180.8 496.75,180.7 497,180.7 497.25,180.9 497.5,181.3 497.75,181.5 498,181.4 498.25,181.3 498.5,181.6 498.75,182.0 499,182.3 499.25,182.5 499.5,182.5 499.75,182.4 500,182.4 500.25,182.5 500.5,182.6 500.75,182.9 501,183.1 501.25,183.1 501.5,183.0 501.75,182.9 502,182.8 502.25,182.8 502.5,182.9 502.75,183.0 503,182.9 503.25,182.8 503.5,182.8 503.75,182.9 504,182.8 504.25,182.6 504.5,182.6 504.75,182.8 505,183.0 505.25,182.9 505.5,182.7 505.75,182.9 506,183.0 506.25,183.0 506.5,182.9 506.75,182.9 507,183.0 507.25,183.1 507.5,183.2 507.75,183.2 508,183.1 508.25,183.1 508.5,182.9 508.75,182.6 509,182.5 509.25,182.4 509.5,182.6 509.75,182.9 510,182.9 510.25,182.9 510.5,182.8 510.75,182.7 511,182.8 511.25,182.9 511.5,182.9 511.75,182.8 512,183.0 512.25,183.2 512.5,183.2 512.75,182.9 513,182.7 513.25,182.7 513.5,182.7 513.75,182.7 514,182.9 514.25,182.9 514.5,182.8 514.75,182.7 515,182.6 515.25,182.6 515.5,182.5 515.75,181.9 516,180.6 516.25,178.4 516.5,176.0 516.75,174.2 517,173.8 517.25,175.0 517.5,177.1 517.75,178.2 518,178.2 518.25,178.0 518.5,178.1 518.75,178.8 519,179.9 519.25,181.2 519.5,181.9 519.75,182.2 520,182.3 520.25,182.4 520.5,182.6 520.75,182.8 521,182.9 521.25,182.8 521.5,182.9 521.75,182.9 522,182.9 522.25,182.9 522.5,182.9 522.75,182.8 523,182.9 523.25,183.1 523.5,183.1 523.75,183.0 524,183.0 524.25,182.9 524.5,182.9 524.75,183.1 525,183.2 525.25,183.0 525.5,182.7 525.75,182.8 526,182.9 526.25,182.8 526.5,182.5 526.75,182.3 527,182.2 527.25,182.0 527.5,181.8 527.75,181.9 528,181.9 528.25,182.0 528.5,182.0 528.75,181.9 529,182.1 529.25,182.1 529.5,182.0 529.75,182.1 530,182.2 530.25,182.4 530.5,182.6 530.75,182.8 531,182.7 531.25,182.6 531.5,182.8 531.75,182.9 532,183.0 532.25,183.0 532.5,182.8 532.75,182.9 533,183.1 533.25,183.1 533.5,183.1 533.75,183.1 534,183.1 534.25,183.0 534.5,183.0 534.75,183.1 535,183.0 535.25,183.0 535.5,183.1 535.75,182.9 536,182.8 536.25,183.0 536.5,183.2 536.75,183.0 537,182.8 537.25,183.1 537.5,183.3"/>
<polyline fill="none" stroke="#666" stroke-width="0.75" stroke-linejoin="round" points="60,271.1 60.25,270.8 60.5,270.8 60.75,270.9 61,270.9 61.25,270.8 61.5,270.7 61.75,270.7 62,271.1 62.25,271.5 62.5,271.3 62.75,270.9 63,270.9 63.25,270.8 63.5,270.8 63.75,270.9 64,271.0 64.25,271.1 64.5,271.1 64.75,271.0 65,271.1 65.25,271.3 65.5,271.2 65.75,271.0 66,271.0 66.25,271.2 66.5,271.3 66.75,271.1 67,271.0 67.25,271.1 67.5,270.9 67.75,271.0 68,271.2 68.25,271.2 68.5,271.1 68.75,270.9 69,270.7 69.25,270.9 69.5,270.8 69.75,270.7 70,271.0 70.25,271.1 70.5,270.9 70.75,270.8 71,270.9 71.25,271.1 71.5,271.3 71.75,271.2 72,271.2 72.25,271.2 72.5,271.0 72.75,270.9 73,271.1 73.25,271.1 73.5,271.0 73.75,270.9 74,270.8 74.25,270.7 74.5,271.0 74.75,271.0 75,270.8 75.25,270.8 75.5,270.9 75.75,270.9 76,270.7 76.25,270.8 76.5,271.1 76.75,271.1 77,270.7 77.25,270.8 77.5,271.0 77.75,271.1 78,271.1 78.25,271.0 78.5,270.9 78.75,271.0 79,271.1 79.25,271.1 79.5,270.8 79.75,270.9 80,271.2 80.25,271.3 80.5,271.3 80.75,271.3 81,271.1 81.25,270.9 81.5,270.8 81.75,270.9 82,271.1 82.25,270.9 82.5,270.8 82.75,270.9 83,271.1 83.25,271.0 83.5,270.7 83.75,270.7 84,271.0 84.25,271.3 84.5,271.2 84.75,271.1 85,271.0 85.25,271.0 85.5,271.1 85.75,271.1 86,271.0 86.25,271.0 86.5,271.0 86.75,271.1 87,271.3 87.25,271.5 87.5,271.5 87.75,271.2 88,270.8 88.25,270.8 88.5,270.9 88.75,270.9 89,270.8 89.25,271.1 89.5,271.2 89.75,270.8 90,270.7 90.25,270.8 90.5,271.0 90.75,271.3 91,271.3 91.25,271.2 91.5,271.1 91.75,271.2 92,271.3 92.25,271.3 92.5,271.2 92.75,270.9 93,270.8 93.25,271.0 93.5,271.2 93.75,271.2 94,270.9 94.25,270.9 94.5,270.9 94.75,270.8 95,270.8 95.25,271.1 95.5,271.3 95.75,271.0 96,270.7 96.25,270.6 96.5,270.6 96.75,270.9 97,271.0 97.25,270.9 97.5,270.9 97.75,270.8 98,270.7 98.25,270.4 98.5,270.5 98.75,270.5 99,270.3 99.25,270.1 99.5,270.0 99.75,269.9 100,269.5 100.25,268.2 100.5,264.7 100.75,255.9 101,239.1 101.25,216.9 101.5,201.1 101.75,204.2 102,222.9 102.25,244.1 102.5,258.9 102.75,266.1 103,268.8 103.25,269.8 103.5,270.2 103.75,270.3 104,270.4 104.25,270.6 104.5,270.7 104.75,271.0 105,271.2 105.25,271.2 105.5,270.9 105.75,270.8 106,270.9 106.25,270.9 106.5,270.9 106.75,270.9 107,271.1 107.25,271.1 107.5,271.0 107.75,271.0 108,270.9 108.25,270.7 108.5,270.7 108.75,270.8 109,271.0 109.25,271.2 109.5,271.1 109.75,271.2 110,271.3 110.25,271.2 110.5,271.0 110.75,270.9 111,270.8 111.25,270.9 111.5,270.9 111.75,271.0 112,271.2 112.25,271.2 112.5,271.0 112.75,270.9 113,271.0 113.25,271.0 113.5,271.0 113.75,271.0 114,271.0 114.25,270.9 114.5,270.9 114.75,270.8 115,270.7 115.25,270.8 115.5,270.9 115.75,271.2 116,271.2 116.25,270.9 116.5,270.9 116.75,271.0 117,270.9 117.25,271.0 117.5,270.9 117.75,270.7 118,270.9 118.25,271.0 118.5,271.0 118.75,270.9 119,271.1 119.25,271.1 119.5,270.9 119.75,270.9 120,271.0 120.25,271.1 120.5,271.3 120.75,271.2 121,270.9 121.25,270.9 121.5,271.2 121.75,271.4 122,271.2 122.25,271.1 122.5,271.2 122.75,271.3 123,271.4 123.25,271.2 123.5,271.2 123.75,271.2 124,271.1 124.25,271.1 124.5,271.2 124.75,271.2 125,271.0 125.25,270.9 125.5,270.9 125.75,271.2 126,271.3 126.25,271.4 126.5,271.4 126.75,271.3 127,271.2 127.25,271.2 127.5,271.2 127.75,271.2 128,271.3 128.25,271.3 128.5,271.2 128.75,271.1 129,271.3 129.25,271.4 129.5,271.2 129.75,271.0 130,271.1 130.25,271.1 130.5,270.9 130.75,271.1 131,271.2 131.25,271.2 131.5,271.3 131.75,271.2 132,271.1 132.25,271.0 132.5,270.8 132.75,271.0 133,271.3 133.25,271.2 133.5,271.3 133.75,271.3 134,271.2 134.25,271.0 134.5,270.7 134.75,270.8 135,271.0 135.25,270.8 135.5,270.8 135.75,271.0 136,270.9 136.25,270.7 136.5,270.9 136.75,271.1 137,271.2 137.25,271.3 137.5,271.4 137.75,271.1 138,270.8 138.25,270.8 138.5,271.1 138.75,271.2 139,271.2 139.25,271.2 139.5,271.1 139.75,271.1 140,271.0 140.25,270.9 140.5,270.8 140.75,270.7 141,270.8 141.25,270.8 141.5,270.9 141.75,271.1 142,271.4 142.25,271.6 142.5,271.4 142.75,271.1 143,271.2 143.25,271.2 143.5,271.1 143.75,271.2 144,270.8 144.25,270.6 144.5,270.9 144.75,271.2 145,271.2 145.25,271.0 145.5,271.0 145.75,271.2 146,271.1 146.25,271.2 146.5,271.3 146.75,271.2 147,271.1 147.25,271.2 147.5,271.2 147.75,271.1 148,271.2 148.25,271.4 148.5,271.5 148.75,271.2 149,271.0 149.25,271.1 149.5,271.1 149.75,271.1 150,271.2 150.25,271.2 150.5,271.1 150.75,270.9 151,270.7 151.25,270.9 151.5,271.2 151.75,271.1 152,270.9 152.25,270.9 152.5,271.1 152.75,271.1 153,271.0 153.25,271.1 153.5,271.3 153.75,271.2 154,271.2 154.25,271.4 154.5,271.3 154.75,271.1 155,271.0 155.25,271.1 155.5,271.2 155.75,271.2 156,271.3 156.25,271.4 156.5,271.4 156.75,271.3 157,271.0 157.25,270.8 157.5,271.1 157.75,271.3 158,271.2 158.25,271.2 158.5,271.1 158.75,271.0 159,271.1 159.25,271.3 159.5,271.2 159.75,271.0 160,270.9 160.25,271.1 160.5,271.4 160.75,271.2 161,271.2 161.25,271.4 161.5,271.5 161.75,271.4 162,271.4 162.25,271.4 162.5,271.4 162.75,271.2 163,271.2 163.25,271.3 163.5,271.4 163.75,271.3 164,271.0 164.25,271.2 164.5,271.3 164.75,271.2 165,271.2 165.25,271.3 165.5,271.2 165.75,271.1 166,271.1 166.25,271.4 166.5,271.4 166.75,271.2 167,271.2 167.25,271.2 167.5,271.2 167.75,271.0 168,270.9 168.25,271.0 168.5,270.9 168.75,271.0 169,271.1 169.25,271.1 169.5,271.1 169.75,271.0 170,271.0 170.25,271.0 170.5,270.8 170.75,270.9 171,271.1 171.25,271.1 171.5,271.0 171.75,271.0 172,271.2 172.25,271.2 172.5,271.2 172.75,271.2 173,271.1 173.25,271.0 173.5,271.1 173.75,271.3 174,271.5 174.25,271.4 174.5,271.2 174.75,271.2 175,271.2 175.25,271.2 175.5,271.3 175.75,271.3 176,271.1 176.25,271.1 176.5,271.2 176.75,271.6 177,271.7 177.25,271.3 177.5,271.0 177.75,270.8 178,271.0 178.25,271.1 178.5,271.0 178.75,271.1 179,271.0 179.25,271.0 179.5,271.1 179.75,271.0 180,271.3 180.25,271.3 180.5,270.9 180.75,270.9 181,271.1 181.25,271.1 181.5,270.9 181.75,271.0 182,271.1 182.25,271.2 182.5,271.3 182.75,271.4 183,271.5 183.25,271.5 183.5,271.4 183.75,271.5 184,271.5 184.25,271.3 184.5,271.1 184.75,271.2 185,271.3 185.25,271.4 185.5,271.3 185.75,271.3 186,271.4 186.25,271.4 186.5,271.3 186.75,271.1 187,271.1 187.25,271.1 187.5,271.1 187.75,271.2 188,271.3 188.25,271.4 188.5,271.2 188.75,271.1 189,271.2 189.25,271.2 189.5,271.0 189.75,271.0 190,271.1 190.25,271.2 190.5,271.2 190.75,271.0 191,271.0 191.25,271.3 191.5,271.4 191.75,271.3 192,271.2 192.25,271.2 192.5,271.0 192.75,271.0 193,271.1 193.25,271.2 193.5,271.1 193.75,271.1 194,271.4 194.25,271.5 194.5,271.3 194.75,271.2 195,271.3 195.25,271.2 195.5,271.1 195.75,271.3 196,271.3 196.25,271.3 196.5,271.2 196.75,271.1 197,271.2 197.25,271.2 197.5,271.1 197.75,271.0 198,270.9 198.25,271.0 198.5,271.3 198.75,271.3 199,271.3 199.25,271.3 199.5,271.1 199.75,271.2 200,271.5 200.25,271.3 200.5,270.6 200.75,270.4 201,270.8 201.25,271.2 201.5,271.2 201.75,271.1 202,271.2 202.25,271.1 202.5,271.2 202.75,271.3 203,271.3 203.25,271.2 203.5,271.1 203.75,271.2 204,271.2 204.25,271.5 204.5,271.6 204.75,271.1 205,270.7 205.25,271.0 205.5,271.3 205.75,271.4 206,271.3 206.25,271.1 206.5,271.1 206.75,271.2 207,271.2 207.25,271.2 207.5,271.2 207.75,271.3 208,271.4 208.25,271.4 208.5,271.2 208.75,271.1 209,271.1 209.25,271.2 209.5,271.2 209.75,271.3 210,271.1 210.25,270.9 210.5,270.9 210.75,271.0 211,271.1 211.25,271.0 211.5,271.1 211.75,271.1 212,270.8 212.25,270.6 212.5,270.7 212.75,270.4 213,269.6 213.25,268.5 213.5,266.2 213.75,262.3 214,258.1 214.25,255.0 214.5,253.9 214.75,255.2 215,258.6 215.25,262.5 215.5,265.7 215.75,268.0 216,269.6 216.25,270.3 216.5,270.6 216.75,270.9 217,271.0 217.25,270.9 217.5,270.9 217.75,271.1 218,271.2 218.25,271.2 218.5,271.3 218.75,271.2 219,271.1 219.25,271.2 219.5,271.1 219.75,271.1 220,271.1 220.25,271.0 220.5,270.9 220.75,270.9 221,271.2 221.25,271.2 221.5,271.1 221.75,271.0 222,271.0 222.25,270.8 222.5,270.8 222.75,270.9 223,270.8 223.25,270.8 223.5,270.9 223.75,270.9 224,270.9 224.25,271.1 224.5,271.0 224.75,270.5 225,269.5 225.25,267.7 225.5,264.8 225.75,260.7 226,256.1 226.25,252.9 226.5,252.3 226.75,254.1 227,257.4 227.25,261.3 227.5,264.9 227.75,267.6 228,269.3 228.25,270.1 228.5,270.6 228.75,270.8 229,270.6 229.25,270.1 229.5,269.4 229.75,269.1 230,269.3 230.25,269.6 230.5,269.8 230.75,270.0 231,270.3 231.25,270.6 231.5,271.0 231.75,270.9 232,270.7 232.25,270.7 232.5,270.9 232.75,271.1 233,271.0 233.25,270.8 233.5,270.7 233.75,270.8 234,270.4 234.25,269.6 234.5,268.0 234.75,265.1 235,261.2 235.25,256.8 235.5,253.1 235.75,251.7 236,252.6 236.25,255.4 236.5,259.5 236.75,263.7 237,266.7 237.25,268.4 237.5,269.6 237.75,270.4 238,270.8 238.25,270.7 238.5,270.8 238.75,270.9 239,270.7 239.25,270.9 239.5,271.3 239.75,271.2 240,271.0 240.25,271.0 240.5,271.1 240.75,271.0 241,271.1 241.25,271.1 241.5,271.1 241.75,271.1 242,271.0 242.25,270.9 242.5,271.1 242.75,271.1 243,271.3 243.25,271.3 243.5,271.2 243.75,271.0 244,271.0 244.25,271.1 244.5,271.3 244.75,271.2 245,271.2 245.25,271.1 245.5,271.1 245.75,271.2 246,271.1 246.25,271.2 246.5,271.3 246.75,271.1 247,271.0 247.25,270.9 247.5,270.9 247.75,270.9 248,271.0 248.25,271.1 248.5,271.3 248.75,271.5 249,271.4 249.25,271.3 249.5,271.2 249.75,271.1 250,270.9 250.25,270.9 250.5,271.2 250.75,271.5 251,271.3 251.25,271.3 251.5,271.4 251.75,271.2 252,271.0 252.25,270.9 252.5,270.9 252.75,271.2 253,271.5 253.25,271.2 253.5,271.0 253.75,271.0 254,271.0 254.25,270.9 254.5,271.1 254.75,271.3 255,271.3 255.25,271.2 255.5,270.9 255.75,270.9 256,271.3 256.25,271.3 256.5,271.0 256.75,271.1 257,271.2 257.25,271.3 257.5,271.2 257.75,271.1 258,271.2 258.25,271.2 258.5,271.0 258.75,270.6 259,270.5 259.25,270.7 259.5,270.8 259.75,271.1 260,271.3 260.25,271.2 260.5,271.1 260.75,271.2 261,271.2 261.25,271.1 261.5,271.2 261.75,271.2 262,271.2 262.25,271.2 262.5,271.1 262.75,271.0 263,270.8 263.25,270.7 263.5,270.7 263.75,270.8 264,270.7 264.25,270.6 264.5,270.6 264.75,270.9 265,271.0 265.25,270.8 265.5,270.7 265.75,270.6 266,270.4 266.25,269.9 266.5,269.3 266.75,268.7 267,266.9 267.25,263.0 267.5,255.9 267.75,244.3 268,228.4 268.25,210.8 268.5,196.5 268.75,190.4 269,193.5 269.25,203.9 269.5,218.6 269.75,234.1 270,247.5 270.25,257.2 270.5,263.3 270.75,266.7 271,268.7 271.25,269.8 271.5,270.2 271.75,270.3 272,270.4 272.25,270.4 272.5,270.5 272.75,270.6 273,270.6 273.25,270.6 273.5,270.6 273.75,270.8 274,270.9 274.25,270.7 274.5,270.8 274.75,271.0 275,271.0 275.25,270.9 275.5,271.0 275.75,271.1 276,271.3 276.25,271.2 276.5,270.8 276.75,270.7 277,271.1 277.25,271.3 277.5,271.3 277.75,271.3 278,271.0 278.25,271.0 278.5,271.2 278.75,271.3 279,271.2 279.25,271.0 279.5,271.1 279.75,271.2 280,271.2 280.25,271.1 280.5,271.0 280.75,271.2 281,271.4 281.25,271.2 281.5,271.0 281.75,270.9 282,271.1 282.25,271.2 282.5,271.0 282.75,271.0 283,271.3 283.25,271.4 283.5,271.4 283.75,271.4 284,271.5 284.25,271.4 284.5,271.4 284.75,271.5 285,271.5 285.25,271.4 285.5,271.3 285.75,271.2 286,271.0 286.25,271.0 286.5,271.1 286.75,271.2 287,271.2 287.25,271.2 287.5,271.4 287.75,271.3 288,271.1 288.25,271.3 288.5,271.3 288.75,271.2 289,271.4 289.25,271.6 289.5,271.5 289.75,271.2 290,271.2 290.25,271.1 290.5,270.6 290.75,270.2 291,270.1 291.25,270.0 291.5,269.8 291.75,269.2 292,268.7 292.25,268.7 292.5,269.1 292.75,269.4 293,269.8 293.25,270.4 293.5,270.7 293.75,271.0 294,271.2 294.25,271.5 294.5,271.5 294.75,271.3 295,271.5 295.25,271.6 295.5,271.4 295.75,271.3 296,271.3 296.25,271.3 296.5,271.4 296.75,271.5 297,271.4 297.25,271.2 297.5,271.3 297.75,271.4 298,271.4 298.25,271.3 298.5,271.2 298.75,271.2 299,271.0 299.25,271.1 299.5,271.4 299.75,271.4 300,271.2 300.25,271.3 300.5,271.6 300.75,271.7 301,271.4 301.25,271.3 301.5,271.4 301.75,271.6 302,271.5 302.25,271.3 302.5,271.5 302.75,271.5 303,271.4 303.25,271.3 303.5,271.2 303.75,271.2 304,271.4 304.25,271.3 304.5,271.3 304.75,271.5 305,271.4 305.25,271.2 305.5,271.2 305.75,271.4 306,271.5 306.25,271.5 306.5,271.4 306.75,271.1 307,271.1 307.25,271.2 307.5,271.3 307.75,271.2 308,271.3 308.25,271.6 308.5,271.5 308.75,271.4 309,271.5 309.25,271.5 309.5,271.2 309.75,270.8 310,271.0 310.25,271.3 310.5,271.2 310.75,270.9 311,271.0 311.25,271.4 311.5,271.4 311.75,271.2 312,271.2 312.25,271.2 312.5,271.1 312.75,271.2 313,271.4 313.25,271.5 313.5,271.6 313.75,271.4 314,271.3 314.25,271.3 314.5,271.2 314.75,271.2 315,271.4 315.25,271.4 315.5,271.4 315.75,271.3 316,271.2 316.25,271.4 316.5,271.4 316.75,271.4 317,271.3 317.25,271.1 317.5,270.9 317.75,271.0 318,271.2 318.25,271.4 318.5,271.4 318.75,271.3 319,271.4 319.25,271.6 319.5,271.6 319.75,271.5 320,271.4 320.25,271.3 320.5,271.3 320.75,271.4 321,271.4 321.25,271.2 321.5,271.0 321.75,270.8 322,270.8 322.25,271.0 322.5,271.3 322.75,271.2 323,270.8 323.25,270.8 323.5,271.1 323.75,271.1 324,271.1 324.25,271.3 324.5,271.5 324.75,271.5 325,271.5 325.25,271.5 325.5,271.4 325.75,271.2 326,271.2 326.25,271.3 326.5,271.3 326.75,271.1 327,271.1 327.25,271.4 327.5,271.7 327.75,271.7 328,271.5 328.25,271.1 328.5,271.1 328.75,271.2 329,271.1 329.25,271.0 329.5,271.2 329.75,271.3 330,271.2 330.25,271.4 330.5,271.5 330.75,271.5 331,271.6 331.25,271.6 331.5,271.5 331.75,271.4 332,271.4 332.25,271.5 332.5,271.3 332.75,271.2 333,271.3 333.25,271.3 333.5,271.4 333.75,271.5 334,271.4 334.25,271.4 334.5,271.5 334.75,271.4 335,271.1 335.25,271.1 335.5,271.5 335.75,271.3 336,270.9 336.25,271.0 336.5,271.2 336.75,271.2 337,271.3 337.25,271.4 337.5,271.3 337.75,271.2 338,271.5 338.25,271.6 338.5,271.5 338.75,271.5 339,271.6 339.25,271.5 339.5,271.3 339.75,271.1 340,271.2 340.25,271.4 340.5,271.6 340.75,271.6 341,271.6 341.25,271.5 341.5,271.2 341.75,271.1 342,271.3 342.25,271.4 342.5,271.2 342.75,271.0 343,271.0 343.25,271.0 343.5,271.1 343.75,271.1 344,271.1 344.25,271.3 344.5,271.3 344.75,271.3 345,270.9 345.25,270.7 345.5,270.9 345.75,270.9 346,270.2 346.25,268.9 346.5,267.2 346.75,265.0 347,262.6 347.25,260.9 347.5,260.1 347.75,260.3 348,261.2 348.25,262.3 348.5,264.0 348.75,265.9 349,267.4 349.25,268.5 349.5,269.4 349.75,270.3 350,271.0 350.25,271.2 350.5,271.2 350.75,271.2 351,271.3 351.25,271.2 351.5,271.1 351.75,271.1 352,271.4 352.25,271.5 352.5,271.4 352.75,271.5 353,271.6 353.25,271.2 353.5,271.1 353.75,271.4 354,271.5 354.25,271.4 354.5,271.3 354.75,271.3 355,271.4 355.25,271.4 355.5,271.4 355.75,271.2 356,271.1 356.25,271.3 356.5,271.3 356.75,271.4 357,271.4 357.25,271.3 357.5,271.3 357.75,271.2 358,271.0 358.25,271.0 358.5,271.1 358.75,271.2 359,271.4 359.25,271.5 359.5,271.6 359.75,271.8 360,271.7 360.25,271.6 360.5,271.7 360.75,271.6 361,271.4 361.25,271.5 361.5,271.6 361.75,271.6 362,271.6 362.25,271.6 362.5,271.5 362.75,271.4 363,271.4 363.25,271.4 363.5,271.3 363.75,271.2 364,271.4 364.25,271.6 364.5,271.6 364.75,271.5 365,271.4 365.25,271.2 365.5,271.2 365.75,271.2 366,271.4 366.25,271.4 366.5,271.4 366.75,271.3 367,271.2 367.25,271.1 367.5,271.4 367.75,271.5 368,271.2 368.25,271.0 368.5,271.3 368.75,271.3 369,271.1 369.25,271.1 369.5,271.2 369.75,271.4 370,271.4 370.25,271.4 370.5,271.6 370.75,271.5 371,271.3 371.25,271.4 371.5,271.6 371.75,271.8 372,271.7 372.25,271.3 372.5,271.2 372.75,271.2 373,271.3 373.25,271.4 373.5,271.4 373.75,271.5 374,271.4 374.25,271.3 374.5,271.3 374.75,271.0 375,271.0 375.25,271.3 375.5,271.3 375.75,271.2 376,271.1 376.25,271.0 376.5,270.8 376.75,270.4 377,270.1 377.25,269.7 377.5,268.5 377.75,266.8 378,264.7 378.25,262.0 378.5,259.2 378.75,257.4 379,256.8 379.25,257.3 379.5,258.7 379.75,260.4 380,262.4 380.25,264.5 380.5,266.6 380.75,268.4 381,269.4 381.25,269.9 381.5,270.5 381.75,270.6 382,270.8 382.25,271.1 382.5,271.1 382.75,271.2 383,271.3 383.25,271.2 383.5,271.1 383.75,271.4 384,271.5 384.25,271.4 384.5,271.1 384.75,271.1 385,271.4 385.25,271.7 385.5,271.7 385.75,271.6 386,271.6 386.25,271.4 386.5,271.4 386.75,271.4 387,271.3 387.25,271.3 387.5,271.4 387.75,271.3 388,271.5 388.25,271.6 388.5,271.5 388.75,271.4 389,271.5 389.25,271.7 389.5,271.6 389.75,271.3 390,271.5 390.25,271.6 390.5,271.5 390.75,271.6 391,271.8 391.25,271.6 391.5,271.3 391.75,271.2 392,271.3 392.25,271.6 392.5,271.4 392.75,271.1 393,271.2 393.25,271.4 393.5,271.5 393.75,271.4 394,271.4 394.25,271.4 394.5,271.5 394.75,271.5 395,271.5 395.25,271.4 395.5,271.4 395.75,271.4 396,271.2 396.25,271.4 396.5,271.6 396.75,271.6 397,271.4 397.25,271.4 397.5,271.3 397.75,271.3 398,271.3 398.25,271.4 398.5,271.4 398.75,271.2 399,271.1 399.25,271.1 399.5,271.3 399.75,271.4 400,271.3 400.25,271.2 400.5,271.3 400.75,271.5 401,271.4 401.25,271.3 401.5,271.3 401.75,271.3 402,271.2 402.25,271.3 402.5,271.3 402.75,271.2 403,271.1 403.25,271.2 403.5,271.2 403.75,271.1 404,270.9 404.25,271.0 404.5,271.1 404.75,270.9 405,270.5 405.25,269.8 405.5,268.4 405.75,266.5 406,264.4 406.25,261.9 406.5,259.7 406.75,258.2 407,257.5 407.25,258.1 407.5,259.4 407.75,260.7 408,262.2 408.25,264.0 408.5,265.8 408.75,267.4 409,268.6 409.25,269.4 409.5,270.3 409.75,270.6 410,270.7 410.25,271.1 410.5,271.1 410.75,271.0 411,271.1 411.25,271.0 411.5,271.0 411.75,271.0 412,271.1 412.25,271.3 412.5,271.4 412.75,271.5 413,271.5 413.25,271.4 413.5,271.2 413.75,271.4 414,271.6 414.25,271.5 414.5,271.4 414.75,271.4 415,271.4 415.25,271.5 415.5,271.4 415.75,271.3 416,271.2 416.25,271.2 416.5,271.4 416.75,271.6 417,271.6 417.25,271.4 417.5,271.3 417.75,271.5 418,271.4 418.25,271.3 418.5,271.4 418.75,271.7 419,271.6 419.25,271.2 419.5,271.2 419.75,271.3 420,271.1 420.25,271.0 420.5,271.1 420.75,271.0 421,271.0 421.25,271.2 421.5,271.5 421.75,271.5 422,271.3 422.25,271.3 422.5,271.3 422.75,271.1 423,270.5 423.25,269.7 423.5,268.8 423.75,267.7 424,266.7 424.25,265.7 424.5,265.0 424.75,265.0 425,265.5 425.25,266.0 425.5,266.5 425.75,267.0 426,267.7 426.25,268.5 426.5,269.5 426.75,270.3 427,270.7 427.25,270.8 427.5,271.0 427.75,271.2 428,271.1 428.25,270.9 428.5,270.9 428.75,271.1 429,271.3 429.25,271.6 429.5,271.4 429.75,271.2 430,271.4 430.25,271.5 430.5,271.4 430.75,271.5 431,271.7 431.25,271.7 431.5,271.6 431.75,271.4 432,271.5 432.25,271.6 432.5,271.6 432.75,271.6 433,271.7 433.25,271.6 433.5,271.5 433.75,271.4 434,271.4 434.25,271.5 434.5,271.5 434.75,271.6 435,271.4 435.25,271.4 435.5,271.5 435.75,271.4 436,271.4 436.25,271.6 436.5,271.5 436.75,271.1 437,271.3 437.25,271.6 437.5,271.6 437.75,271.6 438,271.6 438.25,271.4 438.5,271.4 438.75,271.5 439,271.5 439.25,271.7 439.5,271.7 439.75,271.6 440,271.6 440.25,271.4 440.5,271.5 440.75,271.7 441,271.7 441.25,271.6 441.5,271.5 441.75,271.4 442,271.4 442.25,271.5 442.5,271.4 442.75,271.5 443,271.7 443.25,271.7 443.5,271.6 443.75,271.6 444,271.6 444.25,271.2 444.5,271.3 444.75,271.7 445,271.8 445.25,271.6 445.5,271.4 445.75,271.2 446,271.2 446.25,271.2 446.5,271.3 446.75,271.3 447,271.3 447.25,271.3 447.5,271.4 447.75,271.0 448,270.4 448.25,269.7 448.5,268.9 448.75,268.3 449,268.1 449.25,268.0 449.5,267.9 449.75,268.2 450,268.4 450.25,268.6 450.5,269.2 450.75,269.8 451,270.2 451.25,270.6 451.5,270.9 451.75,271.0 452,271.4 452.25,271.7 452.5,271.8 452.75,271.7 453,271.4 453.25,271.2 453.5,271.2 453.75,271.2 454,271.3 454.25,271.6 454.5,271.7 454.75,271.5 455,271.4 455.25,271.3 455.5,271.2 455.75,271.2 456,271.1 456.25,271.3 456.5,271.4 456.75,271.3 457,271.2 457.25,271.2 457.5,271.2 457.75,271.2 458,271.0 458.25,270.7 458.5,270.6 458.75,270.5 459,270.3 459.25,270.1 459.5,269.8 459.75,269.5 460,269.5 460.25,269.9 460.5,270.5 460.75,270.5 461,270.2 461.25,270.4 461.5,270.7 461.75,270.9 462,271.2 462.25,271.3 462.5,271.3 462.75,271.2 463,271.1 463.25,271.1 463.5,271.3 463.75,271.4 464,271.3 464.25,271.4 464.5,271.6 464.75,271.6 465,271.5 465.25,271.5 465.5,271.6 465.75,271.8 466,271.9 466.25,271.9 466.5,271.8 466.75,271.6 467,271.6 467.25,271.8 467.5,271.8 467.75,271.8 468,271.9 468.25,272.0 468.5,271.9 468.75,271.7 469,271.7 469.25,271.7 469.5,271.6 469.75,271.5 470,271.5 470.25,271.3 470.5,271.2 470.75,271.3 471,271.5 471.25,271.7 471.5,271.6 471.75,271.5 472,271.2 472.25,271.1 472.5,271.3 472.75,271.4 473,271.3 473.25,271.2 473.5,270.7 473.75,269.9 474,269.2 474.25,268.7 474.5,268.0 474.75,267.3 475,266.9 475.25,266.7 475.5,267.1 475.75,267.7 476,268.1 476.25,268.5 476.5,268.9 476.75,269.3 477,269.9 477.25,270.5 477.5,270.8 477.75,271.0 478,271.1 478.25,271.0 478.5,270.8 478.75,271.0 479,271.6 479.25,271.7 479.5,271.5 479.75,271.5 480,271.5 480.25,271.5 480.5,271.6 480.75,271.4 481,271.1 481.25,271.1 481.5,271.5 481.75,271.7 482,271.7 482.25,271.5 482.5,271.5 482.75,271.5 483,271.7 483.25,272.0 483.5,272.1 483.75,271.8 484,271.6 484.25,271.7 484.5,271.8 484.75,271.7 485,271.6 485.25,271.5 485.5,271.4 485.75,271.5 486,271.6 486.25,271.3 486.5,271.3 486.75,271.2 487,270.7 487.25,270.3 487.5,269.8 487.75,269.2 488,268.6 488.25,268.1 488.5,267.8 488.75,267.7 489,267.7 489.25,267.9 489.5,268.4 489.75,268.7 490,268.8 490.25,269.2 490.5,269.7 490.75,270.0 491,270.4 491.25,270.8 491.5,271.1 491.75,271.2 492,271.4 492.25,271.5 492.5,271.5 492.75,271.6 493,271.5 493.25,271.3 493.5,271.5 493.75,271.5 494,271.5 494.25,271.7 494.5,271.9 494.75,271.8 495,271.6 495.25,271.6 495.5,271.7 495.75,271.5 496,271.3 496.25,271.3 496.5,271.6 496.75,271.6 497,271.3 497.25,271.3 497.5,271.6 497.75,271.6 498,271.4 498.25,271.4 498.5,271.6 498.75,271.5 499,271.4 499.25,271.3 499.5,271.3 499.75,271.5 500,271.5 500.25,271.4 500.5,271.5 500.75,271.7 501,271.7 501.25,271.7 501.5,271.6 501.75,271.6 502,271.7 502.25,271.7 502.5,271.6 502.75,271.3 503,271.3 503.25,271.4 503.5,271.4 503.75,271.4 504,271.5 504.25,271.7 504.5,271.7 504.75,271.7 505,271.6 505.25,271.4 505.5,271.2 505.75,271.3 506,271.4 506.25,271.3 506.5,271.3 506.75,271.8 507,272.0 507.25,271.8 507.5,271.4 507.75,271.5 508,271.7 508.25,271.5 508.5,271.3 508.75,271.2 509,271.2 509.25,271.4 509.5,271.8 509.75,271.7 510,271.3 510.25,271.2 510.5,271.5 510.75,271.5 511,271.5 511.25,271.5 511.5,271.5 511.75,271.5 512,271.3 512.25,271.1 512.5,271.2 512.75,271.3 513,271.4 513.25,271.5 513.5,271.5 513.75,271.5 514,271.5 514.25,271.8 514.5,271.9 514.75,271.7 515,271.6 515.25,271.6 515.5,271.4 515.75,271.1 516,270.7 516.25,270.3 516.5,269.9 516.75,269.8 517,269.5 517.25,269.1 517.5,269.0 517.75,269.2 518,269.2 518.25,269.3 518.5,269.4 518.75,269.6 519,269.9 519.25,270.5 519.5,271.0 519.75,271.1 520,271.0 520.25,271.3 520.5,271.7 520.75,271.8 521,271.6 521.25,271.4 521.5,271.3 521.75,271.4 522,271.4 522.25,271.5 522.5,271.6 522.75,271.4 523,271.4 523.25,271.6 523.5,271.8 523.75,271.7 524,271.4 524.25,271.3 524.5,271.5 524.75,271.6 525,271.5 525.25,271.5 525.5,271.6 525.75,271.4 526,271.5 526.25,271.9 526.5,272.0 526.75,271.8 527,271.4 527.25,271.3 527.5,271.3 527.75,271.3 528,271.5 528.25,271.8 528.5,271.6 528.75,271.4 529,271.3 529.25,271.4 529.5,271.5 529.75,271.4 530,271.4 530.25,271.3 530.5,271.2 530.75,271.3 531,271.6 531.25,271.8 531.5,271.9 531.75,271.5 532,271.4 532.25,271.6 532.5,271.7 532.75,271.4 533,271.4 533.25,271.7 533.5,271.8 533.75,271.6 534,271.6 534.25,271.6 534.5,271.5 534.75,271.5 535,271.6 535.25,271.7 535.5,271.6 535.75,271.6 536,271.7 536.25,271.7 536.5,271.6 536.75,271.6 537,271.7 537.25,271.6 537.5,271.6"/>
<polyline fill="none" stroke="#444" stroke-width="0.75" stroke-linejoin="round" clip-path="url(#cb1)" points="60,271.1 60.25,270.8 60.5,270.8 60.75,270.9 61,270.9 61.25,270.8 61.5,270.7 61.75,270.7 62,271.1 62.25,271.5 62.5,271.3 62.75,270.9 63,270.9 63.25,270.8 63.5,270.8 63.75,270.9 64,271.0 64.25,271.1 64.5,271.1 64.75,271.0 65,271.1 65.25,271.3 65.5,271.2 65.75,271.0 66,271.0 66.25,271.2 66.5,271.3 66.75,271.1 67,271.0 67.25,271.1 67.5,270.9 67.75,271.0 68,271.2 68.25,271.2 68.5,271.1 68.75,270.9 69,270.7 69.25,270.9 69.5,270.8 69.75,270.7 70,271.0 70.25,271.1 70.5,270.9 70.75,270.8 71,270.9 71.25,271.1 71.5,271.3 71.75,271.2 72,271.2 72.25,271.2 72.5,271.0 72.75,270.9 73,271.1 73.25,271.1 73.5,271.0 73.75,270.9 74,270.8 74.25,270.7 74.5,271.0 74.75,271.0 75,270.8 75.25,270.8 75.5,270.9 75.75,270.9 76,270.7 76.25,270.8 76.5,271.1 76.75,271.1 77,270.7 77.25,270.8 77.5,271.0 77.75,271.1 78,271.1 78.25,271.0 78.5,270.9 78.75,271.0 79,271.1 79.25,271.1 79.5,270.8 79.75,270.9 80,271.2 80.25,271.3 80.5,271.3 80.75,271.3 81,271.1 81.25,270.9 81.5,270.8 81.75,270.9 82,271.1 82.25,270.9 82.5,270.8 82.75,270.9 83,271.1 83.25,271.0 83.5,270.7 83.75,270.7 84,271.0 84.25,271.3 84.5,271.2 84.75,271.1 85,271.0 85.25,271.0 85.5,271.1 85.75,271.1 86,271.0 86.25,271.0 86.5,271.0 86.75,271.1 87,271.3 87.25,271.5 87.5,271.5 87.75,271.2 88,270.8 88.25,270.8 88.5,270.9 88.75,270.9 89,270.8 89.25,271.1 89.5,271.2 89.75,270.8 90,270.7 90.25,270.8 90.5,271.0 90.75,271.3 91,271.3 91.25,271.2 91.5,271.1 91.75,271.2 92,271.3 92.25,271.3 92.5,271.2 92.75,270.9 93,270.8 93.25,271.0 93.5,271.2 93.75,271.2 94,270.9 94.25,270.9 94.5,270.9 94.75,270.8 95,270.8 95.25,271.1 95.5,271.3 95.75,271.0 96,270.7 96.25,270.6 96.5,270.6 96.75,270.9 97,271.0 97.25,270.9 97.5,270.9 97.75,270.8 98,270.7 98.25,270.4 98.5,270.5 98.75,270.5 99,270.3 99.25,270.1 99.5,270.0 99.75,269.9 100,269.5 100.25,268.2 100.5,264.7 100.75,255.9 101,239.1 101.25,216.9 101.5,201.1 101.75,204.2 102,222.9 102.25,244.1 102.5,258.9 102.75,266.1 103,268.8 103.25,269.8 103.5,270.2 103.75,270.3 104,270.4 104.25,270.6 104.5,270.7 104.75,271.0 105,271.2 105.25,271.2 105.5,270.9 105.75,270.8 106,270.9 106.25,270.9 106.5,270.9 106.75,270.9 107,271.1 107.25,271.1 107.5,271.0 107.75,271.0 108,270.9 108.25,270.7 108.5,270.7 108.75,270.8 109,271.0 109.25,271.2 109.5,271.1 109.75,271.2 110,271.3 110.25,271.2 110.5,271.0 110.75,270.9 111,270.8 111.25,270.9 111.5,270.9 111.75,271.0 112,271.2 112.25,271.2 112.5,271.0 112.75,270.9 113,271.0 113.25,271.0 113.5,271.0 113.75,271.0 114,271.0 114.25,270.9 114.5,270.9 114.75,270.8 115,270.7 115.25,270.8 115.5,270.9 115.75,271.2 116,271.2 116.25,270.9 116.5,270.9 116.75,271.0 117,270.9 117.25,271.0 117.5,270.9 117.75,270.7 118,270.9 118.25,271.0 118.5,271.0 118.75,270.9 119,271.1 119.25,271.1 119.5,270.9 119.75,270.9 120,271.0 120.25,271.1 120.5,271.3 120.75,271.2 121,270.9 121.25,270.9 121.5,271.2 121.75,271.4 122,271.2 122.25,271.1 122.5,271.2 122.75,271.3 123,271.4 123.25,271.2 123.5,271.2 123.75,271.2 124,271.1 124.25,271.1 124.5,271.2 124.75,271.2 125,271.0 125.25,270.9 125.5,270.9 125.75,271.2 126,271.3 126.25,271.4 126.5,271.4 126.75,271.3 127,271.2 127.25,271.2 127.5,271.2 127.75,271.2 128,271.3 128.25,271.3 128.5,271.2 128.75,271.1 129,271.3 129.25,271.4 129.5,271.2 129.75,271.0 130,271.1 130.25,271.1 130.5,270.9 130.75,271.1 131,271.2 131.25,271.2 131.5,271.3 131.75,271.2 132,271.1 132.25,271.0 132.5,270.8 132.75,271.0 133,271.3 133.25,271.2 133.5,271.3 133.75,271.3 134,271.2 134.25,271.0 134.5,270.7 134.75,270.8 135,271.0 135.25,270.8 135.5,270.8 135.75,271.0 136,270.9 136.25,270.7 136.5,270.9 136.75,271.1 137,271.2 137.25,271.3 137.5,271.4 137.75,271.1 138,270.8 138.25,270.8 138.5,271.1 138.75,271.2 139,271.2 139.25,271.2 139.5,271.1 139.75,271.1 140,271.0 140.25,270.9 140.5,270.8 140.75,270.7 141,270.8 141.25,270.8 141.5,270.9 141.75,271.1 142,271.4 142.25,271.6 142.5,271.4 142.75,271.1 143,271.2 143.25,271.2 143.5,271.1 143.75,271.2 144,270.8 144.25,270.6 144.5,270.9 144.75,271.2 145,271.2 145.25,271.0 145.5,271.0 145.75,271.2 146,271.1 146.25,271.2 146.5,271.3 146.75,271.2 147,271.1 147.25,271.2 147.5,271.2 147.75,271.1 148,271.2 148.25,271.4 148.5,271.5 148.75,271.2 149,271.0 149.25,271.1 149.5,271.1 149.75,271.1 150,271.2 150.25,271.2 150.5,271.1 150.75,270.9 151,270.7 151.25,270.9 151.5,271.2 151.75,271.1 152,270.9 152.25,270.9 152.5,271.1 152.75,271.1 153,271.0 153.25,271.1 153.5,271.3 153.75,271.2 154,271.2 154.25,271.4 154.5,271.3 154.75,271.1 155,271.0 155.25,271.1 155.5,271.2 155.75,271.2 156,271.3 156.25,271.4 156.5,271.4 156.75,271.3 157,271.0 157.25,270.8 157.5,271.1 157.75,271.3 158,271.2 158.25,271.2 158.5,271.1 158.75,271.0 159,271.1 159.25,271.3 159.5,271.2 159.75,271.0 160,270.9 160.25,271.1 160.5,271.4 160.75,271.2 161,271.2 161.25,271.4 161.5,271.5 161.75,271.4 162,271.4 162.25,271.4 162.5,271.4 162.75,271.2 163,271.2 163.25,271.3 163.5,271.4 163.75,271.3 164,271.0 164.25,271.2 164.5,271.3 164.75,271.2 165,271.2 165.25,271.3 165.5,271.2 165.75,271.1 166,271.1 166.25,271.4 166.5,271.4 166.75,271.2 167,271.2 167.25,271.2 167.5,271.2 167.75,271.0 168,270.9 168.25,271.0 168.5,270.9 168.75,271.0 169,271.1 169.25,271.1 169.5,271.1 169.75,271.0 170,271.0 170.25,271.0 170.5,270.8 170.75,270.9 171,271.1 171.25,271.1 171.5,271.0 171.75,271.0 172,271.2 172.25,271.2 172.5,271.2 172.75,271.2 173,271.1 173.25,271.0 173.5,271.1 173.75,271.3 174,271.5 174.25,271.4 174.5,271.2 174.75,271.2 175,271.2 175.25,271.2 175.5,271.3 175.75,271.3 176,271.1 176.25,271.1 176.5,271.2 176.75,271.6 177,271.7 177.25,271.3 177.5,271.0 177.75,270.8 178,271.0 178.25,271.1 178.5,271.0 178.75,271.1 179,271.0 179.25,271.0 179.5,271.1 179.75,271.0 180,271.3 180.25,271.3 180.5,270.9 180.75,270.9 181,271.1 181.25,271.1 181.5,270.9 181.75,271.0 182,271.1 182.25,271.2 182.5,271.3 182.75,271.4 183,271.5 183.25,271.5 183.5,271.4 183.75,271.5 184,271.5 184.25,271.3 184.5,271.1 184.75,271.2 185,271.3 185.25,271.4 185.5,271.3 185.75,271.3 186,271.4 186.25,271.4 186.5,271.3 186.75,271.1 187,271.1 187.25,271.1 187.5,271.1 187.75,271.2 188,271.3 188.25,271.4 188.5,271.2 188.75,271.1 189,271.2 189.25,271.2 189.5,271.0 189.75,271.0 190,271.1 190.25,271.2 190.5,271.2 190.75,271.0 191,271.0 191.25,271.3 191.5,271.4 191.75,271.3 192,271.2 192.25,271.2 192.5,271.0 192.75,271.0 193,271.1 193.25,271.2 193.5,271.1 193.75,271.1 194,271.4 194.25,271.5 194.5,271.3 194.75,271.2 195,271.3 195.25,271.2 195.5,271.1 195.75,271.3 196,271.3 196.25,271.3 196.5,271.2 196.75,271.1 197,271.2 197.25,271.2 197.5,271.1 197.75,271.0 198,270.9 198.25,271.0 198.5,271.3 198.75,271.3 199,271.3 199.25,271.3 199.5,271.1 199.75,271.2 200,271.5 200.25,271.3 200.5,270.6 200.75,270.4 201,270.8 201.25,271.2 201.5,271.2 201.75,271.1 202,271.2 202.25,271.1 202.5,271.2 202.75,271.3 203,271.3 203.25,271.2 203.5,271.1 203.75,271.2 204,271.2 204.25,271.5 204.5,271.6 204.75,271.1 205,270.7 205.25,271.0 205.5,271.3 205.75,271.4 206,271.3 206.25,271.1 206.5,271.1 206.75,271.2 207,271.2 207.25,271.2 207.5,271.2 207.75,271.3 208,271.4 208.25,271.4 208.5,271.2 208.75,271.1 209,271.1 209.25,271.2 209.5,271.2 209.75,271.3 210,271.1 210.25,270.9 210.5,270.9 210.75,271.0 211,271.1 211.25,271.0 211.5,271.1 211.75,271.1 212,270.8 212.25,270.6 212.5,270.7 212.75,270.4 213,269.6 213.25,268.5 213.5,266.2 213.75,262.3 214,258.1 214.25,255.0 214.5,253.9 214.75,255.2 215,258.6 215.25,262.5 215.5,265.7 215.75,268.0 216,269.6 216.25,270.3 216.5,270.6 216.75,270.9 217,271.0 217.25,270.9 217.5,270.9 217.75,271.1 218,271.2 218.25,271.2 218.5,271.3 218.75,271.2 219,271.1 219.25,271.2 219.5,271.1 219.75,271.1 220,271.1 220.25,271.0 220.5,270.9 220.75,270.9 221,271.2 221.25,271.2 221.5,271.1 221.75,271.0 222,271.0 222.25,270.8 222.5,270.8 222.75,270.9 223,270.8 223.25,270.8 223.5,270.9 223.75,270.9 224,270.9 224.25,271.1 224.5,271.0 224.75,270.5 225,269.5 225.25,267.7 225.5,264.8 225.75,260.7 226,256.1 226.25,252.9 226.5,252.3 226.75,254.1 227,257.4 227.25,261.3 227.5,264.9 227.75,267.6 228,269.3 228.25,270.1 228.5,270.6 228.75,270.8 229,270.6 229.25,270.1 229.5,269.4 229.75,269.1 230,269.3 230.25,269.6 230.5,269.8 230.75,270.0 231,270.3 231.25,270.6 231.5,271.0 231.75,270.9 232,270.7 232.25,270.7 232.5,270.9 232.75,271.1 233,271.0 233.25,270.8 233.5,270.7 233.75,270.8 234,270.4 234.25,269.6 234.5,268.0 234.75,265.1 235,261.2 235.25,256.8 235.5,253.1 235.75,251.7 236,252.6 236.25,255.4 236.5,259.5 236.75,263.7 237,266.7 237.25,268.4 237.5,269.6 237.75,270.4 238,270.8 238.25,270.7 238.5,270.8 238.75,270.9 239,270.7 239.25,270.9 239.5,271.3 239.75,271.2 240,271.0 240.25,271.0 240.5,271.1 240.75,271.0 241,271.1 241.25,271.1 241.5,271.1 241.75,271.1 242,271.0 242.25,270.9 242.5,271.1 242.75,271.1 243,271.3 243.25,271.3 243.5,271.2 243.75,271.0 244,271.0 244.25,271.1 244.5,271.3 244.75,271.2 245,271.2 245.25,271.1 245.5,271.1 245.75,271.2 246,271.1 246.25,271.2 246.5,271.3 246.75,271.1 247,271.0 247.25,270.9 247.5,270.9 247.75,270.9 248,271.0 248.25,271.1 248.5,271.3 248.75,271.5 249,271.4 249.25,271.3 249.5,271.2 249.75,271.1 250,270.9 250.25,270.9 250.5,271.2 250.75,271.5 251,271.3 251.25,271.3 251.5,271.4 251.75,271.2 252,271.0 252.25,270.9 252.5,270.9 252.75,271.2 253,271.5 253.25,271.2 253.5,271.0 253.75,271.0 254,271.0 254.25,270.9 254.5,271.1 254.75,271.3 255,271.3 255.25,271.2 255.5,270.9 255.75,270.9 256,271.3 256.25,271.3 256.5,271.0 256.75,271.1 257,271.2 257.25,271.3 257.5,271.2 257.75,271.1 258,271.2 258.25,271.2 258.5,271.0 258.75,270.6 259,270.5 259.25,270.7 259.5,270.8 259.75,271.1 260,271.3 260.25,271.2 260.5,271.1 260.75,271.2 261,271.2 261.25,271.1 261.5,271.2 261.75,271.2 262,271.2 262.25,271.2 262.5,271.1 262.75,271.0 263,270.8 263.25,270.7 263.5,270.7 263.75,270.8 264,270.7 264.25,270.6 264.5,270.6 264.75,270.9 265,271.0 265.25,270.8 265.5,270.7 265.75,270.6 266,270.4 266.25,269.9 266.5,269.3 266.75,268.7 267,266.9 267.25,263.0 267.5,255.9 267.75,244.3 268,228.4 268.25,210.8 268.5,196.5 268.75,190.4 269,193.5 269.25,203.9 269.5,218.6 269.75,234.1 270,247.5 270.25,257.2 270.5,263.3 270.75,266.7 271,268.7 271.25,269.8 271.5,270.2 271.75,270.3 272,270.4 272.25,270.4 272.5,270.5 272.75,270.6 273,270.6 273.25,270.6 273.5,270.6 273.75,270.8 274,270.9 274.25,270.7 274.5,270.8 274.75,271.0 275,271.0 275.25,270.9 275.5,271.0 275.75,271.1 276,271.3 276.25,271.2 276.5,270.8 276.75,270.7 277,271.1 277.25,271.3 277.5,271.3 277.75,271.3 278,271.0 278.25,271.0 278.5,271.2 278.75,271.3 279,271.2 279.25,271.0 279.5,271.1 279.75,271.2 280,271.2 280.25,271.1 280.5,271.0 280.75,271.2 281,271.4 281.25,271.2 281.5,271.0 281.75,270.9 282,271.1 282.25,271.2 282.5,271.0 282.75,271.0 283,271.3 283.25,271.4 283.5,271.4 283.75,271.4 284,271.5 284.25,271.4 284.5,271.4 284.75,271.5 285,271.5 285.25,271.4 285.5,271.3 285.75,271.2 286,271.0 286.25,271.0 286.5,271.1 286.75,271.2 287,271.2 287.25,271.2 287.5,271.4 287.75,271.3 288,271.1 288.25,271.3 288.5,271.3 288.75,271.2 289,271.4 289.25,271.6 289.5,271.5 289.75,271.2 290,271.2 290.25,271.1 290.5,270.6 290.75,270.2 291,270.1 291.25,270.0 291.5,269.8 291.75,269.2 292,268.7 292.25,268.7 292.5,269.1 292.75,269.4 293,269.8 293.25,270.4 293.5,270.7 293.75,271.0 294,271.2 294.25,271.5 294.5,271.5 294.75,271.3 295,271.5 295.25,271.6 295.5,271.4 295.75,271.3 296,271.3 296.25,271.3 296.5,271.4 296.75,271.5 297,271.4 297.25,271.2 297.5,271.3 297.75,271.4 298,271.4 298.25,271.3 298.5,271.2 298.75,271.2 299,271.0 299.25,271.1 299.5,271.4 299.75,271.4 300,271.2 300.25,271.3 300.5,271.6 300.75,271.7 301,271.4 301.25,271.3 301.5,271.4 301.75,271.6 302,271.5 302.25,271.3 302.5,271.5 302.75,271.5 303,271.4 303.25,271.3 303.5,271.2 303.75,271.2 304,271.4 304.25,271.3 304.5,271.3 304.75,271.5 305,271.4 305.25,271.2 305.5,271.2 305.75,271.4 306,271.5 306.25,271.5 306.5,271.4 306.75,271.1 307,271.1 307.25,271.2 307.5,271.3 307.75,271.2 308,271.3 308.25,271.6 308.5,271.5 308.75,271.4 309,271.5 309.25,271.5 309.5,271.2 309.75,270.8 310,271.0 310.25,271.3 310.5,271.2 310.75,270.9 311,271.0 311.25,271.4 311.5,271.4 311.75,271.2 312,271.2 312.25,271.2 312.5,271.1 312.75,271.2 313,271.4 313.25,271.5 313.5,271.6 313.75,271.4 314,271.3 314.25,271.3 314.5,271.2 314.75,271.2 315,271.4 315.25,271.4 315.5,271.4 315.75,271.3 316,271.2 316.25,271.4 316.5,271.4 316.75,271.4 317,271.3 317.25,271.1 317.5,270.9 317.75,271.0 318,271.2 318.25,271.4 318.5,271.4 318.75,271.3 319,271.4 319.25,271.6 319.5,271.6 319.75,271.5 320,271.4 320.25,271.3 320.5,271.3 320.75,271.4 321,271.4 321.25,271.2 321.5,271.0 321.75,270.8 322,270.8 322.25,271.0 322.5,271.3 322.75,271.2 323,270.8 323.25,270.8 323.5,271.1 323.75,271.1 324,271.1 324.25,271.3 324.5,271.5 324.75,271.5 325,271.5 325.25,271.5 325.5,271.4 325.75,271.2 326,271.2 326.25,271.3 326.5,271.3 326.75,271.1 327,271.1 327.25,271.4 327.5,271.7 327.75,271.7 328,271.5 328.25,271.1 328.5,271.1 328.75,271.2 329,271.1 329.25,271.0 329.5,271.2 329.75,271.3 330,271.2 330.25,271.4 330.5,271.5 330.75,271.5 331,271.6 331.25,271.6 331.5,271.5 331.75,271.4 332,271.4 332.25,271.5 332.5,271.3 332.75,271.2 333,271.3 333.25,271.3 333.5,271.4 333.75,271.5 334,271.4 334.25,271.4 334.5,271.5 334.75,271.4 335,271.1 335.25,271.1 335.5,271.5 335.75,271.3 336,270.9 336.25,271.0 336.5,271.2 336.75,271.2 337,271.3 337.25,271.4 337.5,271.3 337.75,271.2 338,271.5 338.25,271.6 338.5,271.5 338.75,271.5 339,271.6 339.25,271.5 339.5,271.3 339.75,271.1 340,271.2 340.25,271.4 340.5,271.6 340.75,271.6 341,271.6 341.25,271.5 341.5,271.2 341.75,271.1 342,271.3 342.25,271.4 342.5,271.2 342.75,271.0 343,271.0 343.25,271.0 343.5,271.1 343.75,271.1 344,271.1 344.25,271.3 344.5,271.3 344.75,271.3 345,270.9 345.25,270.7 345.5,270.9 345.75,270.9 346,270.2 346.25,268.9 346.5,267.2 346.75,265.0 347,262.6 347.25,260.9 347.5,260.1 347.75,260.3 348,261.2 348.25,262.3 348.5,264.0 348.75,265.9 349,267.4 349.25,268.5 349.5,269.4 349.75,270.3 350,271.0 350.25,271.2 350.5,271.2 350.75,271.2 351,271.3 351.25,271.2 351.5,271.1 351.75,271.1 352,271.4 352.25,271.5 352.5,271.4 352.75,271.5 353,271.6 353.25,271.2 353.5,271.1 353.75,271.4 354,271.5 354.25,271.4 354.5,271.3 354.75,271.3 355,271.4 355.25,271.4 355.5,271.4 355.75,271.2 356,271.1 356.25,271.3 356.5,271.3 356.75,271.4 357,271.4 357.25,271.3 357.5,271.3 357.75,271.2 358,271.0 358.25,271.0 358.5,271.1 358.75,271.2 359,271.4 359.25,271.5 359.5,271.6 359.75,271.8 360,271.7 360.25,271.6 360.5,271.7 360.75,271.6 361,271.4 361.25,271.5 361.5,271.6 361.75,271.6 362,271.6 362.25,271.6 362.5,271.5 362.75,271.4 363,271.4 363.25,271.4 363.5,271.3 363.75,271.2 364,271.4 364.25,271.6 364.5,271.6 364.75,271.5 365,271.4 365.25,271.2 365.5,271.2 365.75,271.2 366,271.4 366.25,271.4 366.5,271.4 366.75,271.3 367,271.2 367.25,271.1 367.5,271.4 367.75,271.5 368,271.2 368.25,271.0 368.5,271.3 368.75,271.3 369,271.1 369.25,271.1 369.5,271.2 369.75,271.4 370,271.4 370.25,271.4 370.5,271.6 370.75,271.5 371,271.3 371.25,271.4 371.5,271.6 371.75,271.8 372,271.7 372.25,271.3 372.5,271.2 372.75,271.2 373,271.3 373.25,271.4 373.5,271.4 373.75,271.5 374,271.4 374.25,271.3 374.5,271.3 374.75,271.0 375,271.0 375.25,271.3 375.5,271.3 375.75,271.2 376,271.1 376.25,271.0 376.5,270.8 376.75,270.4 377,270.1 377.25,269.7 377.5,268.5 377.75,266.8 378,264.7 378.25,262.0 378.5,259.2 378.75,257.4 379,256.8 379.25,257.3 379.5,258.7 379.75,260.4 380,262.4 380.25,264.5 380.5,266.6 380.75,268.4 381,269.4 381.25,269.9 381.5,270.5 381.75,270.6 382,270.8 382.25,271.1 382.5,271.1 382.75,271.2 383,271.3 383.25,271.2 383.5,271.1 383.75,271.4 384,271.5 384.25,271.4 384.5,271.1 384.75,271.1 385,271.4 385.25,271.7 385.5,271.7 385.75,271.6 386,271.6 386.25,271.4 386.5,271.4 386.75,271.4 387,271.3 387.25,271.3 387.5,271.4 387.75,271.3 388,271.5 388.25,271.6 388.5,271.5 388.75,271.4 389,271.5 389.25,271.7 389.5,271.6 389.75,271.3 390,271.5 390.25,271.6 390.5,271.5 390.75,271.6 391,271.8 391.25,271.6 391.5,271.3 391.75,271.2 392,271.3 392.25,271.6 392.5,271.4 392.75,271.1 393,271.2 393.25,271.4 393.5,271.5 393.75,271.4 394,271.4 394.25,271.4 394.5,271.5 394.75,271.5 395,271.5 395.25,271.4 395.5,271.4 395.75,271.4 396,271.2 396.25,271.4 396.5,271.6 396.75,271.6 397,271.4 397.25,271.4 397.5,271.3 397.75,271.3 398,271.3 398.25,271.4 398.5,271.4 398.75,271.2 399,271.1 399.25,271.1 399.5,271.3 399.75,271.4 400,271.3 400.25,271.2 400.5,271.3 400.75,271.5 401,271.4 401.25,271.3 401.5,271.3 401.75,271.3 402,271.2 402.25,271.3 402.5,271.3 402.75,271.2 403,271.1 403.25,271.2 403.5,271.2 403.75,271.1 404,270.9 404.25,271.0 404.5,271.1 404.75,270.9 405,270.5 405.25,269.8 405.5,268.4 405.75,266.5 406,264.4 406.25,261.9 406.5,259.7 406.75,258.2 407,257.5 407.25,258.1 407.5,259.4 407.75,260.7 408,262.2 408.25,264.0 408.5,265.8 408.75,267.4 409,268.6 409.25,269.4 409.5,270.3 409.75,270.6 410,270.7 410.25,271.1 410.5,271.1 410.75,271.0 411,271.1 411.25,271.0 411.5,271.0 411.75,271.0 412,271.1 412.25,271.3 412.5,271.4 412.75,271.5 413,271.5 413.25,271.4 413.5,271.2 413.75,271.4 414,271.6 414.25,271.5 414.5,271.4 414.75,271.4 415,271.4 415.25,271.5 415.5,271.4 415.75,271.3 416,271.2 416.25,271.2 416.5,271.4 416.75,271.6 417,271.6 417.25,271.4 417.5,271.3 417.75,271.5 418,271.4 418.25,271.3 418.5,271.4 418.75,271.7 419,271.6 419.25,271.2 419.5,271.2 419.75,271.3 420,271.1 420.25,271.0 420.5,271.1 420.75,271.0 421,271.0 421.25,271.2 421.5,271.5 421.75,271.5 422,271.3 422.25,271.3 422.5,271.3 422.75,271.1 423,270.5 423.25,269.7 423.5,268.8 423.75,267.7 424,266.7 424.25,265.7 424.5,265.0 424.75,265.0 425,265.5 425.25,266.0 425.5,266.5 425.75,267.0 426,267.7 426.25,268.5 426.5,269.5 426.75,270.3 427,270.7 427.25,270.8 427.5,271.0 427.75,271.2 428,271.1 428.25,270.9 428.5,270.9 428.75,271.1 429,271.3 429.25,271.6 429.5,271.4 429.75,271.2 430,271.4 430.25,271.5 430.5,271.4 430.75,271.5 431,271.7 431.25,271.7 431.5,271.6 431.75,271.4 432,271.5 432.25,271.6 432.5,271.6 432.75,271.6 433,271.7 433.25,271.6 433.5,271.5 433.75,271.4 434,271.4 434.25,271.5 434.5,271.5 434.75,271.6 435,271.4 435.25,271.4 435.5,271.5 435.75,271.4 436,271.4 436.25,271.6 436.5,271.5 436.75,271.1 437,271.3 437.25,271.6 437.5,271.6 437.75,271.6 438,271.6 438.25,271.4 438.5,271.4 438.75,271.5 439,271.5 439.25,271.7 439.5,271.7 439.75,271.6 440,271.6 440.25,271.4 440.5,271.5 440.75,271.7 441,271.7 441.25,271.6 441.5,271.5 441.75,271.4 442,271.4 442.25,271.5 442.5,271.4 442.75,271.5 443,271.7 443.25,271.7 443.5,271.6 443.75,271.6 444,271.6 444.25,271.2 444.5,271.3 444.75,271.7 445,271.8 445.25,271.6 445.5,271.4 445.75,271.2 446,271.2 446.25,271.2 446.5,271.3 446.75,271.3 447,271.3 447.25,271.3 447.5,271.4 447.75,271.0 448,270.4 448.25,269.7 448.5,268.9 448.75,268.3 449,268.1 449.25,268.0 449.5,267.9 449.75,268.2 450,268.4 450.25,268.6 450.5,269.2 450.75,269.8 451,270.2 451.25,270.6 451.5,270.9 451.75,271.0 452,271.4 452.25,271.7 452.5,271.8 452.75,271.7 453,271.4 453.25,271.2 453.5,271.2 453.75,271.2 454,271.3 454.25,271.6 454.5,271.7 454.75,271.5 455,271.4 455.25,271.3 455.5,271.2 455.75,271.2 456,271.1 456.25,271.3 456.5,271.4 456.75,271.3 457,271.2 457.25,271.2 457.5,271.2 457.75,271.2 458,271.0 458.25,270.7 458.5,270.6 458.75,270.5 459,270.3 459.25,270.1 459.5,269.8 459.75,269.5 460,269.5 460.25,269.9 460.5,270.5 460.75,270.5 461,270.2 461.25,270.4 461.5,270.7 461.75,270.9 462,271.2 462.25,271.3 462.5,271.3 462.75,271.2 463,271.1 463.25,271.1 463.5,271.3 463.75,271.4 464,271.3 464.25,271.4 464.5,271.6 464.75,271.6 465,271.5 465.25,271.5 465.5,271.6 465.75,271.8 466,271.9 466.25,271.9 466.5,271.8 466.75,271.6 467,271.6 467.25,271.8 467.5,271.8 467.75,271.8 468,271.9 468.25,272.0 468.5,271.9 468.75,271.7 469,271.7 469.25,271.7 469.5,271.6 469.75,271.5 470,271.5 470.25,271.3 470.5,271.2 470.75,271.3 471,271.5 471.25,271.7 471.5,271.6 471.75,271.5 472,271.2 472.25,271.1 472.5,271.3 472.75,271.4 473,271.3 473.25,271.2 473.5,270.7 473.75,269.9 474,269.2 474.25,268.7 474.5,268.0 474.75,267.3 475,266.9 475.25,266.7 475.5,267.1 475.75,267.7 476,268.1 476.25,268.5 476.5,268.9 476.75,269.3 477,269.9 477.25,270.5 477.5,270.8 477.75,271.0 478,271.1 478.25,271.0 478.5,270.8 478.75,271.0 479,271.6 479.25,271.7 479.5,271.5 479.75,271.5 480,271.5 480.25,271.5 480.5,271.6 480.75,271.4 481,271.1 481.25,271.1 481.5,271.5 481.75,271.7 482,271.7 482.25,271.5 482.5,271.5 482.75,271.5 483,271.7 483.25,272.0 483.5,272.1 483.75,271.8 484,271.6 484.25,271.7 484.5,271.8 484.75,271.7 485,271.6 485.25,271.5 485.5,271.4 485.75,271.5 486,271.6 486.25,271.3 486.5,271.3 486.75,271.2 487,270.7 487.25,270.3 487.5,269.8 487.75,269.2 488,268.6 488.25,268.1 488.5,267.8 488.75,267.7 489,267.7 489.25,267.9 489.5,268.4 489.75,268.7 490,268.8 490.25,269.2 490.5,269.7 490.75,270.0 491,270.4 491.25,270.8 491.5,271.1 491.75,271.2 492,271.4 492.25,271.5 492.5,271.5 492.75,271.6 493,271.5 493.25,271.3 493.5,271.5 493.75,271.5 494,271.5 494.25,271.7 494.5,271.9 494.75,271.8 495,271.6 495.25,271.6 495.5,271.7 495.75,271.5 496,271.3 496.25,271.3 496.5,271.6 496.75,271.6 497,271.3 497.25,271.3 497.5,271.6 497.75,271.6 498,271.4 498.25,271.4 498.5,271.6 498.75,271.5 499,271.4 499.25,271.3 499.5,271.3 499.75,271.5 500,271.5 500.25,271.4 500.5,271.5 500.75,271.7 501,271.7 501.25,271.7 501.5,271.6 501.75,271.6 502,271.7 502.25,271.7 502.5,271.6 502.75,271.3 503,271.3 503.25,271.4 503.5,271.4 503.75,271.4 504,271.5 504.25,271.7 504.5,271.7 504.75,271.7 505,271.6 505.25,271.4 505.5,271.2 505.75,271.3 506,271.4 506.25,271.3 506.5,271.3 506.75,271.8 507,272.0 507.25,271.8 507.5,271.4 507.75,271.5 508,271.7 508.25,271.5 508.5,271.3 508.75,271.2 509,271.2 509.25,271.4 509.5,271.8 509.75,271.7 510,271.3 510.25,271.2 510.5,271.5 510.75,271.5 511,271.5 511.25,271.5 511.5,271.5 511.75,271.5 512,271.3 512.25,271.1 512.5,271.2 512.75,271.3 513,271.4 513.25,271.5 513.5,271.5 513.75,271.5 514,271.5 514.25,271.8 514.5,271.9 514.75,271.7 515,271.6 515.25,271.6 515.5,271.4 515.75,271.1 516,270.7 516.25,270.3 516.5,269.9 516.75,269.8 517,269.5 517.25,269.1 517.5,269.0 517.75,269.2 518,269.2 518.25,269.3 518.5,269.4 518.75,269.6 519,269.9 519.25,270.5 519.5,271.0 519.75,271.1 520,271.0 520.25,271.3 520.5,271.7 520.75,271.8 521,271.6 521.25,271.4 521.5,271.3 521.75,271.4 522,271.4 522.25,271.5 522.5,271.6 522.75,271.4 523,271.4 523.25,271.6 523.5,271.8 523.75,271.7 524,271.4 524.25,271.3 524.5,271.5 524.75,271.6 525,271.5 525.25,271.5 525.5,271.6 525.75,271.4 526,271.5 526.25,271.9 526.5,272.0 526.75,271.8 527,271.4 527.25,271.3 527.5,271.3 527.75,271.3 528,271.5 528.25,271.8 528.5,271.6 528.75,271.4 529,271.3 529.25,271.4 529.5,271.5 529.75,271.4 530,271.4 530.25,271.3 530.5,271.2 530.75,271.3 531,271.6 531.25,271.8 531.5,271.9 531.75,271.5 532,271.4 532.25,271.6 532.5,271.7 532.75,271.4 533,271.4 533.25,271.7 533.5,271.8 533.75,271.6 534,271.6 534.25,271.6 534.5,271.5 534.75,271.5 535,271.6 535.25,271.7 535.5,271.6 535.75,271.6 536,271.7 536.25,271.7 536.5,271.6 536.75,271.6 537,271.7 537.25,271.6 537.5,271.6"/>
<polyline fill="none" stroke="#666" stroke-width="0.75" stroke-linejoin="round" points="60,359.2 60.25,359.3 60.5,359.6 60.75,359.4 61,359.1 61.25,359.1 61.5,359.2 61.75,359.1 62,359.1 62.25,359.2 62.5,359.5 62.75,359.6 63,359.5 63.25,359.3 63.5,359.3 63.75,359.4 64,359.3 64.25,359.3 64.5,359.3 64.75,359.1 65,359.1 65.25,359.2 65.5,359.3 65.75,359.4 66,359.4 66.25,359.1 66.5,359.1 66.75,359.2 67,359.2 67.25,359.0 67.5,359.1 67.75,359.2 68,359.2 68.25,359.3 68.5,359.5 68.75,359.5 69,359.4 69.25,359.2 69.5,359.1 69.75,359.3 70,359.4 70.25,359.4 70.5,359.2 70.75,359.1 71,359.1 71.25,359.1 71.5,359.2 71.75,359.4 72,359.5 72.25,359.3 72.5,359.2 72.75,359.3 73,359.1 73.25,359.2 73.5,359.3 73.75,359.3 74,359.2 74.25,359.4 74.5,359.3 74.75,359.3 75,359.5 75.25,359.5 75.5,359.5 75.75,359.4 76,359.3 76.25,359.3 76.5,359.2 76.75,359.3 77,359.2 77.25,359.2 77.5,359.5 77.75,359.3 78,359.2 78.25,359.4 78.5,359.4 78.75,359.4 79,359.2 79.25,359.1 79.5,358.9 79.75,358.8 80,359.0 80.25,359.3 80.5,359.6 80.75,359.6 81,359.4 81.25,359.3 81.5,359.2 81.75,359.1 82,358.9 82.25,358.9 82.5,359.0 82.75,359.0 83,359.1 83.25,359.3 83.5,359.4 83.75,359.4 84,359.4 84.25,359.5 84.5,359.4 84.75,359.3 85,359.2 85.25,359.3 85.5,359.5 85.75,359.5 86,359.4 86.25,359.4 86.5,359.3 86.75,359.2 87,359.2 87.25,359.4 87.5,359.4 87.75,359.3 88,359.4 88.25,359.3 88.5,359.3 88.75,359.4 89,359.3 89.25,359.2 89.5,359.1 89.75,359.1 90,359.4 90.25,359.3 90.5,359.4 90.75,359.7 91,359.7 91.25,359.5 91.5,359.4 91.75,359.6 92,359.6 92.25,359.3 92.5,359.3 92.75,359.4 93,359.4 93.25,359.4 93.5,359.3 93.75,359.0 94,358.8 94.25,358.7 94.5,359.1 94.75,359.3 95,359.2 95.25,359.3 95.5,359.4 95.75,359.2 96,359.1 96.25,359.1 96.5,359.0 96.75,359.0 97,359.1 97.25,359.2 97.5,359.1 97.75,359.0 98,359.0 98.25,358.9 98.5,358.8 98.75,358.9 99,358.8 99.25,358.7 99.5,358.5 99.75,358.2 100,358.0 100.25,357.7 100.5,356.9 100.75,354.5 101,348.1 101.25,334.3 101.5,313.1 101.75,292.2 102,283.8 102.25,294.0 102.5,315.1 102.75,335.3 103,348.5 103.25,354.7 103.5,357.0 103.75,358.0 104,358.4 104.25,358.5 104.5,358.5 104.75,358.7 105,358.8 105.25,358.9 105.5,359.0 105.75,358.8 106,358.6 106.25,359.1 106.5,359.3 106.75,359.1 107,359.0 107.25,359.0 107.5,359.0 107.75,359.0 108,359.1 108.25,359.0 108.5,358.9 108.75,359.1 109,359.4 109.25,359.5 109.5,359.3 109.75,359.1 110,359.1 110.25,359.3 110.5,359.4 110.75,359.2 111,359.1 111.25,358.9 111.5,359.0 111.75,359.1 112,358.9 112.25,358.9 112.5,359.2 112.75,359.3 113,359.3 113.25,359.3 113.5,359.3 113.75,359.4 114,359.4 114.25,359.3 114.5,359.3 114.75,359.4 115,359.7 115.25,359.7 115.5,359.4 115.75,359.1 116,358.9 116.25,359.0 116.5,359.1 116.75,359.1 117,359.1 117.25,359.1 117.5,359.0 117.75,358.8 118,358.8 118.25,359.0 118.5,358.5 118.75,356.1 119,349.8 119.25,341.9 119.5,341.2 119.75,347.7 120,354.5 120.25,357.7 120.5,358.5 120.75,357.9 121,354.5 121.25,346.6 121.5,338.8 121.75,340.2 122,348.1 122.25,355.1 122.5,358.1 122.75,359.1 123,359.3 123.25,359.2 123.5,359.2 123.75,359.1 124,359.2 124.25,359.3 124.5,359.5 124.75,359.4 125,359.2 125.25,359.3 125.5,359.3 125.75,359.2 126,359.1 126.25,359.3 126.5,359.6 126.75,359.5 127,359.3 127.25,359.1 127.5,359.0 127.75,359.1 128,359.3 128.25,359.3 128.5,359.2 128.75,359.4 129,359.4 129.25,359.3 129.5,359.2 129.75,359.2 130,359.3 130.25,359.5 130.5,359.5 130.75,359.3 131,359.3 131.25,359.3 131.5,359.2 131.75,359.1 132,359.1 132.25,359.1 132.5,359.4 132.75,359.6 133,359.8 133.25,359.8 133.5,359.5 133.75,359.3 134,359.2 134.25,359.1 134.5,359.0 134.75,359.3 135,359.2 135.25,359.0 135.5,359.2 135.75,359.4 136,359.5 136.25,359.3 136.5,359.3 136.75,359.2 137,359.1 137.25,359.2 137.5,359.2 137.75,359.1 138,359.2 138.25,359.1 138.5,359.1 138.75,359.0 139,359.0 139.25,359.1 139.5,359.2 139.75,359.1 140,359.2 140.25,359.4 140.5,359.3 140.75,359.2 141,359.3 141.25,359.2 141.5,359.2 141.75,359.2 142,359.3 142.25,359.2 142.5,359.2 142.75,359.4 143,359.3 143.25,359.1 143.5,359.0 143.75,359.1 144,359.2 144.25,359.3 144.5,359.3 144.75,359.1 145,359.2 145.25,359.4 145.5,359.4 145.75,359.4 146,359.5 146.25,359.4 146.5,359.3 146.75,359.4 147,359.6 147.25,359.5 147.5,359.3 147.75,359.2 148,359.2 148.25,359.4 148.5,359.4 148.75,359.2 149,359.0 149.25,359.0 149.5,359.2 149.75,359.3 150,359.2 150.25,359.3 150.5,359.1 150.75,359.0 151,359.0 151.25,359.2 151.5,359.5 151.75,359.4 152,359.2 152.25,359.1 152.5,358.8 152.75,359.0 153,359.2 153.25,359.1 153.5,359.1 153.75,359.0 154,359.1 154.25,359.2 154.5,358.8 154.75,358.8 155,359.1 155.25,359.1 155.5,359.1 155.75,359.2 156,359.2 156.25,359.0 156.5,359.0 156.75,358.8 157,358.6 157.25,358.7 157.5,359.1 157.75,359.4 158,359.3 158.25,359.1 158.5,359.0 158.75,359.2 159,359.2 159.25,359.2 159.5,359.2 159.75,358.9 160,358.7 160.25,359.0 160.5,359.4 160.75,359.5 161,359.3 161.25,359.0 161.5,358.7 161.75,358.5 162,358.1 162.25,357.5 162.5,357.1 162.75,356.9 163,357.0 163.25,357.4 163.5,358.0 163.75,358.6 164,358.9 164.25,359.0 164.5,359.2 164.75,359.4 165,359.2 165.25,359.0 165.5,359.0 165.75,359.1 166,359.0 166.25,359.0 166.5,359.2 166.75,359.2 167,359.2 167.25,359.4 167.5,359.4 167.75,359.2 168,359.4 168.25,359.6 168.5,359.3 168.75,359.1 169,359.0 169.25,359.1 169.5,359.2 169.75,359.1 170,359.0 170.25,359.0 170.5,359.0 170.75,359.0 171,359.0 171.25,359.0 171.5,359.0 171.75,359.1 172,359.1 172.25,358.9 172.5,359.0 172.75,359.0 173,358.8 173.25,358.8 173.5,358.9 173.75,359.0 174,359.1 174.25,359.1 174.5,359.2 174.75,359.2 175,359.3 175.25,359.3 175.5,359.1 175.75,359.4 176,359.6 176.25,359.3 176.5,359.2 176.75,359.2 177,359.2 177.25,359.1 177.5,359.2 177.75,359.3 178,359.4 178.25,359.4 178.5,359.5 178.75,359.5 179,359.3 179.25,359.3 179.5,359.5 179.75,359.4 180,358.9 180.25,358.8 180.5,359.1 180.75,359.4 181,359.4 181.25,359.3 181.5,359.3 181.75,359.2 182,359.1 182.25,359.2 182.5,359.2 182.75,359.2 183,359.1 183.25,359.0 183.5,359.0 183.75,359.2 184,359.2 184.25,359.3 184.5,359.3 184.75,359.1 185,359.0 185.25,359.1 185.5,359.1 185.75,359.3 186,359.4 186.25,359.4 186.5,359.4 186.75,359.4 187,359.3 187.25,359.3 187.5,359.3 187.75,359.1 188,359.1 188.25,359.1 188.5,359.2 188.75,359.4 189,359.7 189.25,359.8 189.5,359.5 189.75,359.3 190,359.3 190.25,359.3 190.5,359.1 190.75,359.1 191,359.1 191.25,359.2 191.5,359.3 191.75,359.2 192,359.1 192.25,359.2 192.5,359.0 192.75,358.9 193,359.0 193.25,359.2 193.5,359.3 193.75,359.2 194,359.0 194.25,358.9 194.5,358.7 194.75,358.3 195,357.9 195.25,357.6 195.5,357.6 195.75,358.0 196,358.2 196.25,358.3 196.5,358.7 196.75,359.0 197,359.1 197.25,359.2 197.5,359.1 197.75,359.1 198,359.2 198.25,359.1 198.5,359.1 198.75,359.2 199,359.1 199.25,359.1 199.5,359.3 199.75,359.1 200,358.8 200.25,359.0 200.5,359.5 200.75,359.6 201,359.2 201.25,358.9 201.5,359.1 201.75,359.3 202,359.3 202.25,359.1 202.5,359.1 202.75,359.2 203,359.2 203.25,359.2 203.5,359.4 203.75,359.5 204,359.3 204.25,359.1 204.5,359.0 204.75,359.3 205,359.4 205.25,359.0 205.5,358.8 205.75,358.9 206,359.3 206.25,359.5 206.5,359.4 206.75,359.4 207,359.4 207.25,359.3 207.5,359.0 207.75,358.8 208,358.8 208.25,358.9 208.5,359.0 208.75,359.0 209,358.9 209.25,358.9 209.5,359.1 209.75,359.3 210,359.3 210.25,359.5 210.5,359.3 210.75,359.0 211,359.0 211.25,358.9 211.5,358.7 211.75,358.8 212,358.8 212.25,358.6 212.5,358.4 212.75,358.2 213,357.7 213.25,356.3 213.5,353.8 213.75,349.8 214,344.6 214.25,339.0 214.5,335.2 214.75,334.9 215,337.6 215.25,342.2 215.5,347.1 215.75,351.1 216,353.5 216.25,353.4 216.5,351.0 216.75,346.2 217,339.3 217.25,331.7 217.5,326.5 217.75,325.9 218,329.3 218.25,335.8 218.5,343.1 218.75,349.4 219,353.5 219.25,355.9 219.5,357.2 219.75,357.8 220,358.2 220.25,358.5 220.5,358.4 220.75,358.4 221,358.5 221.25,358.7 221.5,358.7 221.75,358.6 222,358.7 222.25,358.9 222.5,359.1 222.75,359.1 223,358.9 223.25,358.6 223.5,358.6 223.75,359.0 224,359.2 224.25,359.1 224.5,359.1 224.75,358.8 225,358.7 225.25,358.7 225.5,358.3 225.75,357.8 226,356.9 226.25,355.5 226.5,353.8 226.75,352.0 227,350.9 227.25,350.9 227.5,351.9 227.75,353.3 228,354.5 228.25,354.7 228.5,353.4 228.75,349.7 229,343.9 229.25,336.8 229.5,329.7 229.75,325.3 230,325.6 230.25,330.0 230.5,336.5 230.75,343.5 231,349.3 231.25,353.4 231.5,355.9 231.75,357.4 232,358.0 232.25,358.2 232.5,358.5 232.75,358.6 233,358.7 233.25,358.8 233.5,359.0 233.75,358.7 234,358.7 234.25,358.8 234.5,358.5 234.75,358.3 235,357.7 235.25,356.6 235.5,355.2 235.75,353.4 236,351.5 236.25,350.1 236.5,349.7 236.75,350.6 237,352.2 237.25,354.0 237.5,355.7 237.75,357.0 238,357.8 238.25,358.5 238.5,359.0 238.75,359.0 239,358.7 239.25,358.8 239.5,359.1 239.75,359.3 240,359.1 240.25,358.8 240.5,358.7 240.75,358.9 241,358.9 241.25,359.0 241.5,359.1 241.75,359.1 242,359.2 242.25,359.2 242.5,359.3 242.75,359.1 243,359.0 243.25,359.2 243.5,359.3 243.75,359.2 244,359.1 244.25,358.9 244.5,359.0 244.75,359.0 245,359.0 245.25,359.2 245.5,359.2 245.75,359.2 246,359.4 246.25,359.3 246.5,358.9 246.75,358.9 247,359.1 247.25,358.8 247.5,358.6 247.75,358.9 248,359.2 248.25,359.3 248.5,359.2 248.75,359.1 249,359.1 249.25,359.1 249.5,359.0 249.75,359.1 250,359.0 250.25,358.9 250.5,358.9 250.75,358.8 251,358.1 251.25,357.4 251.5,357.2 251.75,357.2 252,357.3 252.25,357.5 252.5,357.9 252.75,358.4 253,358.7 253.25,358.9 253.5,359.2 253.75,359.2 254,359.1 254.25,359.0 254.5,359.2 254.75,359.4 255,359.3 255.25,359.1 255.5,359.3 255.75,359.5 256,359.3 256.25,359.0 256.5,358.8 256.75,358.8 257,359.0 257.25,359.1 257.5,359.1 257.75,358.9 258,358.8 258.25,358.8 258.5,358.9 258.75,359.1 259,359.0 259.25,359.1 259.5,359.1 259.75,359.0 260,359.0 260.25,358.8 260.5,358.4 260.75,358.1 261,357.8 261.25,357.1 261.5,356.1 261.75,355.7 262,355.6 262.25,355.7 262.5,356.2 262.75,356.9 263,357.6 263.25,358.1 263.5,358.5 263.75,359.0 264,359.0 264.25,358.7 264.5,358.5 264.75,358.7 265,358.8 265.25,359.0 265.5,359.1 265.75,359.1 266,358.9 266.25,358.7 266.5,358.5 266.75,358.4 267,358.3 267.25,357.6 267.5,356.2 267.75,353.8 268,349.9 268.25,344.1 268.5,336.7 268.75,329.5 269,324.8 269.25,323.9 269.5,326.6 269.75,331.8 270,338.2 270.25,344.5 270.5,350.1 270.75,354.0 271,356.5 271.25,357.8 271.5,358.0 271.75,358.2 272,358.6 272.25,358.8 272.5,358.7 272.75,358.8 273,358.9 273.25,358.8 273.5,358.9 273.75,359.1 274,359.0 274.25,359.0 274.5,358.9 274.75,358.7 275,358.8 275.25,358.9 275.5,358.9 275.75,359.0 276,359.1 276.25,359.1 276.5,359.0 276.75,359.0 277,358.9 277.25,358.9 277.5,359.0 277.75,359.0 278,358.7 278.25,358.5 278.5,358.3 278.75,358.1 279,358.1 279.25,357.9 279.5,357.9 279.75,357.8 280,357.8 280.25,358.1 280.5,358.4 280.75,358.6 281,358.7 281.25,359.0 281.5,359.2 281.75,359.1 282,359.0 282.25,358.9 282.5,358.8 282.75,358.7 283,358.8 283.25,358.8 283.5,358.8 283.75,359.0 284,359.0 284.25,358.8 284.5,358.9 284.75,359.1 285,359.2 285.25,359.2 285.5,359.5 285.75,359.4 286,359.1 286.25,359.0 286.5,358.9 286.75,358.8 287,359.0 287.25,359.2 287.5,359.1 287.75,359.1 288,359.3 288.25,359.3 288.5,359.2 288.75,359.4 289,359.2 289.25,358.9 289.5,358.8 289.75,358.9 290,359.1 290.25,359.3 290.5,359.2 290.75,358.9 291,358.6 291.25,358.4 291.5,357.8 291.75,357.0 292,356.4 292.25,356.1 292.5,356.1 292.75,356.2 293,356.5 293.25,357.1 293.5,357.4 293.75,358.0 294,358.7 294.25,358.9 294.5,358.9 294.75,359.1 295,359.3 295.25,359.2 295.5,359.1 295.75,359.1 296,359.0 296.25,358.9 296.5,358.9 296.75,358.9 297,359.0 297.25,359.0 297.5,358.9 297.75,359.1 298,359.3 298.25,359.2 298.5,359.2 298.75,359.1 299,358.9 299.25,358.8 299.5,358.8 299.75,358.7 300,358.6 300.25,357.9 300.5,357.0 300.75,356.4 301,355.9 301.25,356.0 301.5,356.6 301.75,357.0 302,357.2 302.25,358.0 302.5,358.7 302.75,358.9 303,359.0 303.25,359.0 303.5,358.8 303.75,358.7 304,358.9 304.25,359.0 304.5,359.1 304.75,359.3 305,359.5 305.25,359.4 305.5,359.2 305.75,359.0 306,359.0 306.25,359.4 306.5,359.5 306.75,359.3 307,359.0 307.25,358.9 307.5,359.0 307.75,358.9 308,358.9 308.25,359.0 308.5,359.2 308.75,359.3 309,359.1 309.25,358.9 309.5,359.0 309.75,358.9 310,359.0 310.25,359.0 310.5,358.9 310.75,358.8 311,358.9 311.25,359.1 311.5,359.3 311.75,359.3 312,359.3 312.25,359.3 312.5,359.4 312.75,359.5 313,359.3 313.25,359.0 313.5,359.0 313.75,359.0 314,359.0 314.25,359.1 314.5,359.3 314.75,359.3 315,359.2 315.25,359.1 315.5,359.0 315.75,358.8 316,358.6 316.25,358.8 316.5,359.2 316.75,359.4 317,359.1 317.25,359.0 317.5,358.9 317.75,358.8 318,359.0 318.25,359.0 318.5,358.7 318.75,358.6 319,358.8 319.25,358.9 319.5,359.0 319.75,359.1 320,359.1 320.25,359.2 320.5,359.3 320.75,359.4 321,359.3 321.25,359.0 321.5,358.7 321.75,358.6 322,358.7 322.25,358.6 322.5,358.3 322.75,357.1 323,354.3 323.25,350.7 323.5,348.6 323.75,349.2 324,351.1 324.25,352.4 324.5,353.5 324.75,355.2 325,356.9 325.25,357.9 325.5,357.9 325.75,356.7 326,354.9 326.25,353.0 326.5,352.2 326.75,353.1 327,354.3 327.25,355.1 327.5,356.1 327.75,357.4 328,358.3 328.25,358.6 328.5,358.6 328.75,358.8 329,359.0 329.25,359.0 329.5,359.1 329.75,359.2 330,359.2 330.25,359.2 330.5,359.2 330.75,358.9 331,358.7 331.25,358.4 331.5,358.2 331.75,358.1 332,357.9 332.25,357.7 332.5,358.0 332.75,358.3 333,358.5 333.25,358.6 333.5,358.6 333.75,358.6 334,359.1 334.25,359.3 334.5,359.0 334.75,358.8 335,359.1 335.25,358.8 335.5,358.4 335.75,358.6 336,358.7 336.25,359.0 336.5,359.4 336.75,359.4 337,359.2 337.25,359.2 337.5,359.3 337.75,359.1 338,359.1 338.25,359.1 338.5,359.2 338.75,359.2 339,359.1 339.25,359.3 339.5,359.4 339.75,359.4 340,359.2 340.25,359.1 340.5,359.1 340.75,359.2 341,359.1 341.25,359.2 341.5,359.4 341.75,359.3 342,359.2 342.25,359.2 342.5,359.2 342.75,359.2 343,358.9 343.25,358.9 343.5,359.1 343.75,359.2 344,359.3 344.25,359.5 344.5,359.7 344.75,359.5 345,359.3 345.25,359.1 345.5,358.9 345.75,358.8 346,358.8 346.25,358.5 346.5,357.9 346.75,357.5 347,357.2 347.25,356.6 347.5,355.8 347.75,355.3 348,355.1 348.25,355.3 348.5,355.7 348.75,356.3 349,356.8 349.25,357.2 349.5,357.5 349.75,358.0 350,358.4 350.25,358.6 350.5,358.7 350.75,358.9 351,359.2 351.25,359.3 351.5,359.2 351.75,359.0 352,359.2 352.25,359.3 352.5,359.2 352.75,359.0 353,359.0 353.25,359.2 353.5,359.2 353.75,359.2 354,359.3 354.25,359.4 354.5,359.1 354.75,358.9 355,359.1 355.25,359.3 355.5,359.3 355.75,359.1 356,358.9 356.25,359.0 356.5,358.8 356.75,358.8 357,359.1 357.25,359.3 357.5,359.0 357.75,358.9 358,358.9 358.25,359.0 358.5,359.1 358.75,359.1 359,359.0 359.25,358.8 359.5,358.7 359.75,358.6 360,358.8 360.25,359.1 360.5,359.3 360.75,359.2 361,359.0 361.25,358.9 361.5,359.0 361.75,359.1 362,359.4 362.25,359.6 362.5,359.3 362.75,359.2 363,359.1 363.25,358.9 363.5,358.8 363.75,358.9 364,359.1 364.25,359.2 364.5,359.3 364.75,359.2 365,359.0 365.25,358.8 365.5,359.0 365.75,359.0 366,358.9 366.25,359.1 366.5,359.0 366.75,358.9 367,359.0 367.25,359.0 367.5,359.1 367.75,359.2 368,359.2 368.25,359.1 368.5,359.0 368.75,359.0 369,359.2 369.25,359.4 369.5,359.3 369.75,359.3 370,359.4 370.25,359.3 370.5,359.0 370.75,359.1 371,359.2 371.25,359.0 371.5,359.0 371.75,359.1 372,359.2 372.25,359.2 372.5,359.2 372.75,359.3 373,359.6 373.25,359.3 373.5,358.9 373.75,358.7 374,358.8 374.25,358.9 374.5,358.9 374.75,359.1 375,359.5 375.25,359.3 375.5,359.0 375.75,358.9 376,358.8 376.25,358.9 376.5,359.0 376.75,358.8 377,358.5 377.25,358.4 377.5,358.2 377.75,357.7 378,356.7 378.25,355.1 378.5,353.6 378.75,352.7 379,352.2 379.25,351.9 379.5,351.8 379.75,352.5 380,353.8 380.25,355.0 380.5,355.9 380.75,356.7 381,357.5 381.25,357.8 381.5,358.1 381.75,358.5 382,358.9 382.25,359.1 382.5,359.0 382.75,358.8 383,358.9 383.25,359.0 383.5,358.8 383.75,358.9 384,359.0 384.25,359.0 384.5,358.9 384.75,358.8 385,358.8 385.25,359.0 385.5,359.0 385.75,359.0 386,359.1 386.25,359.0 386.5,358.9 386.75,359.2 387,359.3 387.25,359.1 387.5,359.0 387.75,359.1 388,358.9 388.25,358.7 388.5,359.0 388.75,359.3 389,359.1 389.25,359.2 389.5,359.3 389.75,359.1 390,358.9 390.25,358.9 390.5,358.7 390.75,358.4 391,358.1 391.25,357.7 391.5,357.4 391.75,357.4 392,357.5 392.25,357.5 392.5,357.7 392.75,357.9 393,358.1 393.25,358.3 393.5,358.5 393.75,358.8 394,359.1 394.25,359.0 394.5,358.9 394.75,359.0 395,359.0 395.25,358.9 395.5,359.0 395.75,358.9 396,358.9 396.25,358.9 396.5,358.5 396.75,358.1 397,357.8 397.25,357.4 397.5,357.2 397.75,357.4 398,357.5 398.25,357.5 398.5,357.2 398.75,356.3 399,354.9 399.25,354.2 399.5,354.9 399.75,356.1 400,356.7 400.25,356.6 400.5,356.5 400.75,357.1 401,357.6 401.25,357.6 401.5,356.8 401.75,354.7 402,352.3 402.25,351.7 402.5,353.1 402.75,354.5 403,354.5 403.25,353.1 403.5,351.4 403.75,349.9 404,349.5 404.25,351.2 404.5,353.4 404.75,354.1 405,354.0 405.25,354.5 405.5,355.6 405.75,356.9 406,357.8 406.25,358.0 406.5,357.4 406.75,356.0 407,354.2 407.25,353.2 407.5,353.8 407.75,355.1 408,355.8 408.25,355.8 408.5,356.0 408.75,356.6 409,357.7 409.25,358.6 409.5,359.0 409.75,358.9 410,358.9 410.25,358.8 410.5,358.8 410.75,359.0 411,359.1 411.25,359.2 411.5,359.2 411.75,359.1 412,359.1 412.25,359.2 412.5,359.2 412.75,359.0 413,359.0 413.25,359.2 413.5,359.2 413.75,359.0 414,359.0 414.25,359.1 414.5,359.1 414.75,358.9 415,358.9 415.25,359.0 415.5,359.1 415.75,359.1 416,358.9 416.25,359.0 416.5,359.2 416.75,359.0 417,358.5 417.25,358.1 417.5,357.8 417.75,357.5 418,357.7 418.25,357.9 418.5,358.1 418.75,358.5 419,358.6 419.25,358.6 419.5,358.6 419.75,358.9 420,359.0 420.25,358.8 420.5,358.8 420.75,358.8 421,358.7 421.25,358.9 421.5,359.1 421.75,359.0 422,359.0 422.25,359.0 422.5,359.1 422.75,359.1 423,358.9 423.25,358.7 423.5,358.5 423.75,358.4 424,358.2 424.25,358.0 424.5,357.6 424.75,357.4 425,357.3 425.25,357.4 425.5,357.4 425.75,357.5 426,357.6 426.25,357.9 426.5,358.2 426.75,358.4 427,358.7 427.25,358.8 427.5,358.5 427.75,358.4 428,358.6 428.25,358.7 428.5,358.8 428.75,359.0 429,358.9 429.25,358.8 429.5,358.9 429.75,359.1 430,359.1 430.25,359.3 430.5,359.4 430.75,359.1 431,359.2 431.25,359.3 431.5,359.1 431.75,359.1 432,359.2 432.25,359.0 432.5,359.0 432.75,359.1 433,359.1 433.25,359.2 433.5,359.3 433.75,359.4 434,359.3 434.25,359.0 434.5,359.0 434.75,359.0 435,359.1 435.25,359.0 435.5,358.7 435.75,358.7 436,358.7 436.25,358.4 436.5,358.2 436.75,358.2 437,358.0 437.25,357.7 437.5,357.7 437.75,357.6 438,357.7 438.25,357.9 438.5,358.0 438.75,358.2 439,358.3 439.25,358.6 439.5,359.0 439.75,359.1 440,359.2 440.25,359.1 440.5,358.9 440.75,359.2 441,359.3 441.25,359.1 441.5,359.0 441.75,358.8 442,358.8 442.25,358.9 442.5,359.0 442.75,359.0 443,358.8 443.25,358.6 443.5,358.7 443.75,358.8 444,358.8 444.25,358.7 444.5,358.5 444.75,358.4 445,358.1 445.25,357.9 445.5,357.8 445.75,357.4 446,357.2 446.25,357.4 446.5,357.6 446.75,357.6 447,357.6 447.25,357.9 447.5,358.2 447.75,358.3 448,358.5 448.25,358.7 448.5,359.0 448.75,359.1 449,359.0 449.25,359.0 449.5,359.0 449.75,359.1 450,359.1 450.25,359.1 450.5,359.0 450.75,359.0 451,359.1 451.25,359.0 451.5,358.7 451.75,358.5 452,358.4 452.25,358.0 452.5,357.8 452.75,357.8 453,357.8 453.25,357.6 453.5,357.3 453.75,357.2 454,357.4 454.25,357.7 454.5,357.8 454.75,358.0 455,358.6 455.25,358.6 455.5,358.6 455.75,358.9 456,358.7 456.25,358.4 456.5,358.4 456.75,358.3 457,357.7 457.25,357.0 457.5,356.4 457.75,355.6 458,355.0 458.25,354.9 458.5,354.7 458.75,354.6 459,354.8 459.25,355.4 459.5,355.8 459.75,356.2 460,356.6 460.25,357.0 460.5,357.3 460.75,357.5 461,358.0 461.25,358.4 461.5,358.4 461.75,358.3 462,358.3 462.25,358.2 462.5,357.9 462.75,357.7 463,357.6 463.25,357.5 463.5,357.2 463.75,356.6 464,355.8 464.25,354.5 464.5,353.1 464.75,351.6 465,350.0 465.25,348.5 465.5,347.5 465.75,347.3 466,347.7 466.25,348.2 466.5,349.2 466.75,350.5 467,351.6 467.25,352.6 467.5,353.5 467.75,354.5 468,355.5 468.25,356.4 468.5,357.1 468.75,357.6 469,357.8 469.25,357.8 469.5,357.8 469.75,357.9 470,358.0 470.25,357.8 470.5,357.2 470.75,356.7 471,356.0 471.25,355.2 471.5,354.3 471.75,352.8 472,351.5 472.25,350.6 472.5,350.1 472.75,349.8 473,349.8 473.25,350.2 473.5,350.8 473.75,351.6 474,352.7 474.25,353.7 474.5,354.5 474.75,355.2 475,356.0 475.25,356.7 475.5,357.3 475.75,357.6 476,358.1 476.25,358.5 476.5,358.5 476.75,358.4 477,358.7 477.25,359.1 477.5,358.9 477.75,358.6 478,358.5 478.25,358.5 478.5,358.3 478.75,357.9 479,357.6 479.25,357.4 479.5,357.0 479.75,356.9 480,356.9 480.25,357.0 480.5,357.1 480.75,357.1 481,357.2 481.25,357.5 481.5,357.7 481.75,357.7 482,357.8 482.25,358.1 482.5,358.2 482.75,358.2 483,358.3 483.25,358.3 483.5,358.0 483.75,357.7 484,357.5 484.25,357.3 484.5,356.7 484.75,355.8 485,354.6 485.25,353.1 485.5,351.5 485.75,350.2 486,349.3 486.25,348.8 486.5,349.1 486.75,349.4 487,350.0 487.25,350.9 487.5,352.1 487.75,353.2 488,354.2 488.25,355.3 488.5,356.5 488.75,357.1 489,357.5 489.25,357.8 489.5,358.1 489.75,358.6 490,358.8 490.25,358.7 490.5,358.6 490.75,358.7 491,358.8 491.25,358.8 491.5,358.8 491.75,358.6 492,358.5 492.25,358.3 492.5,357.7 492.75,357.4 493,357.2 493.25,357.0 493.5,356.8 493.75,356.6 494,356.8 494.25,357.1 494.5,357.2 494.75,357.3 495,357.3 495.25,357.6 495.5,357.9 495.75,357.9 496,357.8 496.25,357.7 496.5,357.8 496.75,358.0 497,358.0 497.25,357.7 497.5,357.4 497.75,357.4 498,357.6 498.25,357.7 498.5,357.9 498.75,357.9 499,357.8 499.25,357.9 499.5,358.0 499.75,358.3 500,358.6 500.25,358.8 500.5,358.8 500.75,358.7 501,358.7 501.25,358.8 501.5,358.9 501.75,358.8 502,358.8 502.25,358.8 502.5,358.8 502.75,358.7 503,358.8 503.25,358.9 503.5,358.9 503.75,358.8 504,358.7 504.25,358.6 504.5,358.5 504.75,358.6 505,358.9 505.25,358.9 505.5,358.8 505.75,358.6 506,358.6 506.25,358.6 506.5,358.5 506.75,358.6 507,358.8 507.25,358.7 507.5,358.7 507.75,358.8 508,358.9 508.25,358.9 508.5,358.7 508.75,358.7 509,358.9 509.25,358.8 509.5,358.7 509.75,358.7 510,358.9 510.25,359.1 510.5,359.2 510.75,359.2 511,359.2 511.25,358.9 511.5,358.8 511.75,358.8 512,358.7 512.25,358.8 512.5,358.9 512.75,358.8 513,358.8 513.25,358.9 513.5,358.9 513.75,358.9 514,359.0 514.25,358.9 514.5,358.9 514.75,358.9 515,358.8 515.25,358.7 515.5,358.5 515.75,358.4 516,357.9 516.25,357.0 516.5,356.6 516.75,356.3 517,355.8 517.25,355.4 517.5,355.0 517.75,354.7 518,354.7 518.25,355.0 518.5,355.4 518.75,355.8 519,356.1 519.25,356.4 519.5,356.7 519.75,357.1 520,357.6 520.25,357.9 520.5,358.1 520.75,358.3 521,358.4 521.25,358.3 521.5,358.4 521.75,358.7 522,358.8 522.25,358.8 522.5,358.8 522.75,358.9 523,359.0 523.25,359.1 523.5,358.9 523.75,358.8 524,359.0 524.25,359.3 524.5,359.3 524.75,359.1 525,359.0 525.25,358.9 525.5,359.0 525.75,359.1 526,359.0 526.25,359.0 526.5,358.9 526.75,358.9 527,358.8 527.25,358.9 527.5,359.0 527.75,358.9 528,358.9 528.25,359.2 528.5,359.3 528.75,359.2 529,358.9 529.25,358.8 529.5,358.8 529.75,358.7 530,358.8 530.25,358.7 530.5,358.8 530.75,359.1 531,359.1 531.25,359.0 531.5,359.1 531.75,359.0 532,358.7 532.25,358.8 532.5,359.0 532.75,359.0 533,358.9 533.25,359.0 533.5,359.2 533.75,359.1 534,359.0 534.25,358.9 534.5,359.0 534.75,359.1 535,358.9 535.25,358.9 535.5,359.1 535.75,359.1 536,359.0 536.25,358.9 536.5,358.9 536.75,358.7 537,358.6 537.25,358.8 537.5,358.9"/>
<polyline fill="none" stroke="#444" stroke-width="0.75" stroke-linejoin="round" clip-path="url(#cb2)" points="60,359.2 60.25,359.3 60.5,359.6 60.75,359.4 61,359.1 61.25,359.1 61.5,359.2 61.75,359.1 62,359.1 62.25,359.2 62.5,359.5 62.75,359.6 63,359.5 63.25,359.3 63.5,359.3 63.75,359.4 64,359.3 64.25,359.3 64.5,359.3 64.75,359.1 65,359.1 65.25,359.2 65.5,359.3 65.75,359.4 66,359.4 66.25,359.1 66.5,359.1 66.75,359.2 67,359.2 67.25,359.0 67.5,359.1 67.75,359.2 68,359.2 68.25,359.3 68.5,359.5 68.75,359.5 69,359.4 69.25,359.2 69.5,359.1 69.75,359.3 70,359.4 70.25,359.4 70.5,359.2 70.75,359.1 71,359.1 71.25,359.1 71.5,359.2 71.75,359.4 72,359.5 72.25,359.3 72.5,359.2 72.75,359.3 73,359.1 73.25,359.2 73.5,359.3 73.75,359.3 74,359.2 74.25,359.4 74.5,359.3 74.75,359.3 75,359.5 75.25,359.5 75.5,359.5 75.75,359.4 76,359.3 76.25,359.3 76.5,359.2 76.75,359.3 77,359.2 77.25,359.2 77.5,359.5 77.75,359.3 78,359.2 78.25,359.4 78.5,359.4 78.75,359.4 79,359.2 79.25,359.1 79.5,358.9 79.75,358.8 80,359.0 80.25,359.3 80.5,359.6 80.75,359.6 81,359.4 81.25,359.3 81.5,359.2 81.75,359.1 82,358.9 82.25,358.9 82.5,359.0 82.75,359.0 83,359.1 83.25,359.3 83.5,359.4 83.75,359.4 84,359.4 84.25,359.5 84.5,359.4 84.75,359.3 85,359.2 85.25,359.3 85.5,359.5 85.75,359.5 86,359.4 86.25,359.4 86.5,359.3 86.75,359.2 87,359.2 87.25,359.4 87.5,359.4 87.75,359.3 88,359.4 88.25,359.3 88.5,359.3 88.75,359.4 89,359.3 89.25,359.2 89.5,359.1 89.75,359.1 90,359.4 90.25,359.3 90.5,359.4 90.75,359.7 91,359.7 91.25,359.5 91.5,359.4 91.75,359.6 92,359.6 92.25,359.3 92.5,359.3 92.75,359.4 93,359.4 93.25,359.4 93.5,359.3 93.75,359.0 94,358.8 94.25,358.7 94.5,359.1 94.75,359.3 95,359.2 95.25,359.3 95.5,359.4 95.75,359.2 96,359.1 96.25,359.1 96.5,359.0 96.75,359.0 97,359.1 97.25,359.2 97.5,359.1 97.75,359.0 98,359.0 98.25,358.9 98.5,358.8 98.75,358.9 99,358.8 99.25,358.7 99.5,358.5 99.75,358.2 100,358.0 100.25,357.7 100.5,356.9 100.75,354.5 101,348.1 101.25,334.3 101.5,313.1 101.75,292.2 102,283.8 102.25,294.0 102.5,315.1 102.75,335.3 103,348.5 103.25,354.7 103.5,357.0 103.75,358.0 104,358.4 104.25,358.5 104.5,358.5 104.75,358.7 105,358.8 105.25,358.9 105.5,359.0 105.75,358.8 106,358.6 106.25,359.1 106.5,359.3 106.75,359.1 107,359.0 107.25,359.0 107.5,359.0 107.75,359.0 108,359.1 108.25,359.0 108.5,358.9 108.75,359.1 109,359.4 109.25,359.5 109.5,359.3 109.75,359.1 110,359.1 110.25,359.3 110.5,359.4 110.75,359.2 111,359.1 111.25,358.9 111.5,359.0 111.75,359.1 112,358.9 112.25,358.9 112.5,359.2 112.75,359.3 113,359.3 113.25,359.3 113.5,359.3 113.75,359.4 114,359.4 114.25,359.3 114.5,359.3 114.75,359.4 115,359.7 115.25,359.7 115.5,359.4 115.75,359.1 116,358.9 116.25,359.0 116.5,359.1 116.75,359.1 117,359.1 117.25,359.1 117.5,359.0 117.75,358.8 118,358.8 118.25,359.0 118.5,358.5 118.75,356.1 119,349.8 119.25,341.9 119.5,341.2 119.75,347.7 120,354.5 120.25,357.7 120.5,358.5 120.75,357.9 121,354.5 121.25,346.6 121.5,338.8 121.75,340.2 122,348.1 122.25,355.1 122.5,358.1 122.75,359.1 123,359.3 123.25,359.2 123.5,359.2 123.75,359.1 124,359.2 124.25,359.3 124.5,359.5 124.75,359.4 125,359.2 125.25,359.3 125.5,359.3 125.75,359.2 126,359.1 126.25,359.3 126.5,359.6 126.75,359.5 127,359.3 127.25,359.1 127.5,359.0 127.75,359.1 128,359.3 128.25,359.3 128.5,359.2 128.75,359.4 129,359.4 129.25,359.3 129.5,359.2 129.75,359.2 130,359.3 130.25,359.5 130.5,359.5 130.75,359.3 131,359.3 131.25,359.3 131.5,359.2 131.75,359.1 132,359.1 132.25,359.1 132.5,359.4 132.75,359.6 133,359.8 133.25,359.8 133.5,359.5 133.75,359.3 134,359.2 134.25,359.1 134.5,359.0 134.75,359.3 135,359.2 135.25,359.0 135.5,359.2 135.75,359.4 136,359.5 136.25,359.3 136.5,359.3 136.75,359.2 137,359.1 137.25,359.2 137.5,359.2 137.75,359.1 138,359.2 138.25,359.1 138.5,359.1 138.75,359.0 139,359.0 139.25,359.1 139.5,359.2 139.75,359.1 140,359.2 140.25,359.4 140.5,359.3 140.75,359.2 141,359.3 141.25,359.2 141.5,359.2 141.75,359.2 142,359.3 142.25,359.2 142.5,359.2 142.75,359.4 143,359.3 143.25,359.1 143.5,359.0 143.75,359.1 144,359.2 144.25,359.3 144.5,359.3 144.75,359.1 145,359.2 145.25,359.4 145.5,359.4 145.75,359.4 146,359.5 146.25,359.4 146.5,359.3 146.75,359.4 147,359.6 147.25,359.5 147.5,359.3 147.75,359.2 148,359.2 148.25,359.4 148.5,359.4 148.75,359.2 149,359.0 149.25,359.0 149.5,359.2 149.75,359.3 150,359.2 150.25,359.3 150.5,359.1 150.75,359.0 151,359.0 151.25,359.2 151.5,359.5 151.75,359.4 152,359.2 152.25,359.1 152.5,358.8 152.75,359.0 153,359.2 153.25,359.1 153.5,359.1 153.75,359.0 154,359.1 154.25,359.2 154.5,358.8 154.75,358.8 155,359.1 155.25,359.1 155.5,359.1 155.75,359.2 156,359.2 156.25,359.0 156.5,359.0 156.75,358.8 157,358.6 157.25,358.7 157.5,359.1 157.75,359.4 158,359.3 158.25,359.1 158.5,359.0 158.75,359.2 159,359.2 159.25,359.2 159.5,359.2 159.75,358.9 160,358.7 160.25,359.0 160.5,359.4 160.75,359.5 161,359.3 161.25,359.0 161.5,358.7 161.75,358.5 162,358.1 162.25,357.5 162.5,357.1 162.75,356.9 163,357.0 163.25,357.4 163.5,358.0 163.75,358.6 164,358.9 164.25,359.0 164.5,359.2 164.75,359.4 165,359.2 165.25,359.0 165.5,359.0 165.75,359.1 166,359.0 166.25,359.0 166.5,359.2 166.75,359.2 167,359.2 167.25,359.4 167.5,359.4 167.75,359.2 168,359.4 168.25,359.6 168.5,359.3 168.75,359.1 169,359.0 169.25,359.1 169.5,359.2 169.75,359.1 170,359.0 170.25,359.0 170.5,359.0 170.75,359.0 171,359.0 171.25,359.0 171.5,359.0 171.75,359.1 172,359.1 172.25,358.9 172.5,359.0 172.75,359.0 173,358.8 173.25,358.8 173.5,358.9 173.75,359.0 174,359.1 174.25,359.1 174.5,359.2 174.75,359.2 175,359.3 175.25,359.3 175.5,359.1 175.75,359.4 176,359.6 176.25,359.3 176.5,359.2 176.75,359.2 177,359.2 177.25,359.1 177.5,359.2 177.75,359.3 178,359.4 178.25,359.4 178.5,359.5 178.75,359.5 179,359.3 179.25,359.3 179.5,359.5 179.75,359.4 180,358.9 180.25,358.8 180.5,359.1 180.75,359.4 181,359.4 181.25,359.3 181.5,359.3 181.75,359.2 182,359.1 182.25,359.2 182.5,359.2 182.75,359.2 183,359.1 183.25,359.0 183.5,359.0 183.75,359.2 184,359.2 184.25,359.3 184.5,359.3 184.75,359.1 185,359.0 185.25,359.1 185.5,359.1 185.75,359.3 186,359.4 186.25,359.4 186.5,359.4 186.75,359.4 187,359.3 187.25,359.3 187.5,359.3 187.75,359.1 188,359.1 188.25,359.1 188.5,359.2 188.75,359.4 189,359.7 189.25,359.8 189.5,359.5 189.75,359.3 190,359.3 190.25,359.3 190.5,359.1 190.75,359.1 191,359.1 191.25,359.2 191.5,359.3 191.75,359.2 192,359.1 192.25,359.2 192.5,359.0 192.75,358.9 193,359.0 193.25,359.2 193.5,359.3 193.75,359.2 194,359.0 194.25,358.9 194.5,358.7 194.75,358.3 195,357.9 195.25,357.6 195.5,357.6 195.75,358.0 196,358.2 196.25,358.3 196.5,358.7 196.75,359.0 197,359.1 197.25,359.2 197.5,359.1 197.75,359.1 198,359.2 198.25,359.1 198.5,359.1 198.75,359.2 199,359.1 199.25,359.1 199.5,359.3 199.75,359.1 200,358.8 200.25,359.0 200.5,359.5 200.75,359.6 201,359.2 201.25,358.9 201.5,359.1 201.75,359.3 202,359.3 202.25,359.1 202.5,359.1 202.75,359.2 203,359.2 203.25,359.2 203.5,359.4 203.75,359.5 204,359.3 204.25,359.1 204.5,359.0 204.75,359.3 205,359.4 205.25,359.0 205.5,358.8 205.75,358.9 206,359.3 206.25,359.5 206.5,359.4 206.75,359.4 207,359.4 207.25,359.3 207.5,359.0 207.75,358.8 208,358.8 208.25,358.9 208.5,359.0 208.75,359.0 209,358.9 209.25,358.9 209.5,359.1 209.75,359.3 210,359.3 210.25,359.5 210.5,359.3 210.75,359.0 211,359.0 211.25,358.9 211.5,358.7 211.75,358.8 212,358.8 212.25,358.6 212.5,358.4 212.75,358.2 213,357.7 213.25,356.3 213.5,353.8 213.75,349.8 214,344.6 214.25,339.0 214.5,335.2 214.75,334.9 215,337.6 215.25,342.2 215.5,347.1 215.75,351.1 216,353.5 216.25,353.4 216.5,351.0 216.75,346.2 217,339.3 217.25,331.7 217.5,326.5 217.75,325.9 218,329.3 218.25,335.8 218.5,343.1 218.75,349.4 219,353.5 219.25,355.9 219.5,357.2 219.75,357.8 220,358.2 220.25,358.5 220.5,358.4 220.75,358.4 221,358.5 221.25,358.7 221.5,358.7 221.75,358.6 222,358.7 222.25,358.9 222.5,359.1 222.75,359.1 223,358.9 223.25,358.6 223.5,358.6 223.75,359.0 224,359.2 224.25,359.1 224.5,359.1 224.75,358.8 225,358.7 225.25,358.7 225.5,358.3 225.75,357.8 226,356.9 226.25,355.5 226.5,353.8 226.75,352.0 227,350.9 227.25,350.9 227.5,351.9 227.75,353.3 228,354.5 228.25,354.7 228.5,353.4 228.75,349.7 229,343.9 229.25,336.8 229.5,329.7 229.75,325.3 230,325.6 230.25,330.0 230.5,336.5 230.75,343.5 231,349.3 231.25,353.4 231.5,355.9 231.75,357.4 232,358.0 232.25,358.2 232.5,358.5 232.75,358.6 233,358.7 233.25,358.8 233.5,359.0 233.75,358.7 234,358.7 234.25,358.8 234.5,358.5 234.75,358.3 235,357.7 235.25,356.6 235.5,355.2 235.75,353.4 236,351.5 236.25,350.1 236.5,349.7 236.75,350.6 237,352.2 237.25,354.0 237.5,355.7 237.75,357.0 238,357.8 238.25,358.5 238.5,359.0 238.75,359.0 239,358.7 239.25,358.8 239.5,359.1 239.75,359.3 240,359.1 240.25,358.8 240.5,358.7 240.75,358.9 241,358.9 241.25,359.0 241.5,359.1 241.75,359.1 242,359.2 242.25,359.2 242.5,359.3 242.75,359.1 243,359.0 243.25,359.2 243.5,359.3 243.75,359.2 244,359.1 244.25,358.9 244.5,359.0 244.75,359.0 245,359.0 245.25,359.2 245.5,359.2 245.75,359.2 246,359.4 246.25,359.3 246.5,358.9 246.75,358.9 247,359.1 247.25,358.8 247.5,358.6 247.75,358.9 248,359.2 248.25,359.3 248.5,359.2 248.75,359.1 249,359.1 249.25,359.1 249.5,359.0 249.75,359.1 250,359.0 250.25,358.9 250.5,358.9 250.75,358.8 251,358.1 251.25,357.4 251.5,357.2 251.75,357.2 252,357.3 252.25,357.5 252.5,357.9 252.75,358.4 253,358.7 253.25,358.9 253.5,359.2 253.75,359.2 254,359.1 254.25,359.0 254.5,359.2 254.75,359.4 255,359.3 255.25,359.1 255.5,359.3 255.75,359.5 256,359.3 256.25,359.0 256.5,358.8 256.75,358.8 257,359.0 257.25,359.1 257.5,359.1 257.75,358.9 258,358.8 258.25,358.8 258.5,358.9 258.75,359.1 259,359.0 259.25,359.1 259.5,359.1 259.75,359.0 260,359.0 260.25,358.8 260.5,358.4 260.75,358.1 261,357.8 261.25,357.1 261.5,356.1 261.75,355.7 262,355.6 262.25,355.7 262.5,356.2 262.75,356.9 263,357.6 263.25,358.1 263.5,358.5 263.75,359.0 264,359.0 264.25,358.7 264.5,358.5 264.75,358.7 265,358.8 265.25,359.0 265.5,359.1 265.75,359.1 266,358.9 266.25,358.7 266.5,358.5 266.75,358.4 267,358.3 267.25,357.6 267.5,356.2 267.75,353.8 268,349.9 268.25,344.1 268.5,336.7 268.75,329.5 269,324.8 269.25,323.9 269.5,326.6 269.75,331.8 270,338.2 270.25,344.5 270.5,350.1 270.75,354.0 271,356.5 271.25,357.8 271.5,358.0 271.75,358.2 272,358.6 272.25,358.8 272.5,358.7 272.75,358.8 273,358.9 273.25,358.8 273.5,358.9 273.75,359.1 274,359.0 274.25,359.0 274.5,358.9 274.75,358.7 275,358.8 275.25,358.9 275.5,358.9 275.75,359.0 276,359.1 276.25,359.1 276.5,359.0 276.75,359.0 277,358.9 277.25,358.9 277.5,359.0 277.75,359.0 278,358.7 278.25,358.5 278.5,358.3 278.75,358.1 279,358.1 279.25,357.9 279.5,357.9 279.75,357.8 280,357.8 280.25,358.1 280.5,358.4 280.75,358.6 281,358.7 281.25,359.0 281.5,359.2 281.75,359.1 282,359.0 282.25,358.9 282.5,358.8 282.75,358.7 283,358.8 283.25,358.8 283.5,358.8 283.75,359.0 284,359.0 284.25,358.8 284.5,358.9 284.75,359.1 285,359.2 285.25,359.2 285.5,359.5 285.75,359.4 286,359.1 286.25,359.0 286.5,358.9 286.75,358.8 287,359.0 287.25,359.2 287.5,359.1 287.75,359.1 288,359.3 288.25,359.3 288.5,359.2 288.75,359.4 289,359.2 289.25,358.9 289.5,358.8 289.75,358.9 290,359.1 290.25,359.3 290.5,359.2 290.75,358.9 291,358.6 291.25,358.4 291.5,357.8 291.75,357.0 292,356.4 292.25,356.1 292.5,356.1 292.75,356.2 293,356.5 293.25,357.1 293.5,357.4 293.75,358.0 294,358.7 294.25,358.9 294.5,358.9 294.75,359.1 295,359.3 295.25,359.2 295.5,359.1 295.75,359.1 296,359.0 296.25,358.9 296.5,358.9 296.75,358.9 297,359.0 297.25,359.0 297.5,358.9 297.75,359.1 298,359.3 298.25,359.2 298.5,359.2 298.75,359.1 299,358.9 299.25,358.8 299.5,358.8 299.75,358.7 300,358.6 300.25,357.9 300.5,357.0 300.75,356.4 301,355.9 301.25,356.0 301.5,356.6 301.75,357.0 302,357.2 302.25,358.0 302.5,358.7 302.75,358.9 303,359.0 303.25,359.0 303.5,358.8 303.75,358.7 304,358.9 304.25,359.0 304.5,359.1 304.75,359.3 305,359.5 305.25,359.4 305.5,359.2 305.75,359.0 306,359.0 306.25,359.4 306.5,359.5 306.75,359.3 307,359.0 307.25,358.9 307.5,359.0 307.75,358.9 308,358.9 308.25,359.0 308.5,359.2 308.75,359.3 309,359.1 309.25,358.9 309.5,359.0 309.75,358.9 310,359.0 310.25,359.0 310.5,358.9 310.75,358.8 311,358.9 311.25,359.1 311.5,359.3 311.75,359.3 312,359.3 312.25,359.3 312.5,359.4 312.75,359.5 313,359.3 313.25,359.0 313.5,359.0 313.75,359.0 314,359.0 314.25,359.1 314.5,359.3 314.75,359.3 315,359.2 315.25,359.1 315.5,359.0 315.75,358.8 316,358.6 316.25,358.8 316.5,359.2 316.75,359.4 317,359.1 317.25,359.0 317.5,358.9 317.75,358.8 318,359.0 318.25,359.0 318.5,358.7 318.75,358.6 319,358.8 319.25,358.9 319.5,359.0 319.75,359.1 320,359.1 320.25,359.2 320.5,359.3 320.75,359.4 321,359.3 321.25,359.0 321.5,358.7 321.75,358.6 322,358.7 322.25,358.6 322.5,358.3 322.75,357.1 323,354.3 323.25,350.7 323.5,348.6 323.75,349.2 324,351.1 324.25,352.4 324.5,353.5 324.75,355.2 325,356.9 325.25,357.9 325.5,357.9 325.75,356.7 326,354.9 326.25,353.0 326.5,352.2 326.75,353.1 327,354.3 327.25,355.1 327.5,356.1 327.75,357.4 328,358.3 328.25,358.6 328.5,358.6 328.75,358.8 329,359.0 329.25,359.0 329.5,359.1 329.75,359.2 330,359.2 330.25,359.2 330.5,359.2 330.75,358.9 331,358.7 331.25,358.4 331.5,358.2 331.75,358.1 332,357.9 332.25,357.7 332.5,358.0 332.75,358.3 333,358.5 333.25,358.6 333.5,358.6 333.75,358.6 334,359.1 334.25,359.3 334.5,359.0 334.75,358.8 335,359.1 335.25,358.8 335.5,358.4 335.75,358.6 336,358.7 336.25,359.0 336.5,359.4 336.75,359.4 337,359.2 337.25,359.2 337.5,359.3 337.75,359.1 338,359.1 338.25,359.1 338.5,359.2 338.75,359.2 339,359.1 339.25,359.3 339.5,359.4 339.75,359.4 340,359.2 340.25,359.1 340.5,359.1 340.75,359.2 341,359.1 341.25,359.2 341.5,359.4 341.75,359.3 342,359.2 342.25,359.2 342.5,359.2 342.75,359.2 343,358.9 343.25,358.9 343.5,359.1 343.75,359.2 344,359.3 344.25,359.5 344.5,359.7 344.75,359.5 345,359.3 345.25,359.1 345.5,358.9 345.75,358.8 346,358.8 346.25,358.5 346.5,357.9 346.75,357.5 347,357.2 347.25,356.6 347.5,355.8 347.75,355.3 348,355.1 348.25,355.3 348.5,355.7 348.75,356.3 349,356.8 349.25,357.2 349.5,357.5 349.75,358.0 350,358.4 350.25,358.6 350.5,358.7 350.75,358.9 351,359.2 351.25,359.3 351.5,359.2 351.75,359.0 352,359.2 352.25,359.3 352.5,359.2 352.75,359.0 353,359.0 353.25,359.2 353.5,359.2 353.75,359.2 354,359.3 354.25,359.4 354.5,359.1 354.75,358.9 355,359.1 355.25,359.3 355.5,359.3 355.75,359.1 356,358.9 356.25,359.0 356.5,358.8 356.75,358.8 357,359.1 357.25,359.3 357.5,359.0 357.75,358.9 358,358.9 358.25,359.0 358.5,359.1 358.75,359.1 359,359.0 359.25,358.8 359.5,358.7 359.75,358.6 360,358.8 360.25,359.1 360.5,359.3 360.75,359.2 361,359.0 361.25,358.9 361.5,359.0 361.75,359.1 362,359.4 362.25,359.6 362.5,359.3 362.75,359.2 363,359.1 363.25,358.9 363.5,358.8 363.75,358.9 364,359.1 364.25,359.2 364.5,359.3 364.75,359.2 365,359.0 365.25,358.8 365.5,359.0 365.75,359.0 366,358.9 366.25,359.1 366.5,359.0 366.75,358.9 367,359.0 367.25,359.0 367.5,359.1 367.75,359.2 368,359.2 368.25,359.1 368.5,359.0 368.75,359.0 369,359.2 369.25,359.4 369.5,359.3 369.75,359.3 370,359.4 370.25,359.3 370.5,359.0 370.75,359.1 371,359.2 371.25,359.0 371.5,359.0 371.75,359.1 372,359.2 372.25,359.2 372.5,359.2 372.75,359.3 373,359.6 373.25,359.3 373.5,358.9 373.75,358.7 374,358.8 374.25,358.9 374.5,358.9 374.75,359.1 375,359.5 375.25,359.3 375.5,359.0 375.75,358.9 376,358.8 376.25,358.9 376.5,359.0 376.75,358.8 377,358.5 377.25,358.4 377.5,358.2 377.75,357.7 378,356.7 378.25,355.1 378.5,353.6 378.75,352.7 379,352.2 379.25,351.9 379.5,351.8 379.75,352.5 380,353.8 380.25,355.0 380.5,355.9 380.75,356.7 381,357.5 381.25,357.8 381.5,358.1 381.75,358.5 382,358.9 382.25,359.1 382.5,359.0 382.75,358.8 383,358.9 383.25,359.0 383.5,358.8 383.75,358.9 384,359.0 384.25,359.0 384.5,358.9 384.75,358.8 385,358.8 385.25,359.0 385.5,359.0 385.75,359.0 386,359.1 386.25,359.0 386.5,358.9 386.75,359.2 387,359.3 387.25,359.1 387.5,359.0 387.75,359.1 388,358.9 388.25,358.7 388.5,359.0 388.75,359.3 389,359.1 389.25,359.2 389.5,359.3 389.75,359.1 390,358.9 390.25,358.9 390.5,358.7 390.75,358.4 391,358.1 391.25,357.7 391.5,357.4 391.75,357.4 392,357.5 392.25,357.5 392.5,357.7 392.75,357.9 393,358.1 393.25,358.3 393.5,358.5 393.75,358.8 394,359.1 394.25,359.0 394.5,358.9 394.75,359.0 395,359.0 395.25,358.9 395.5,359.0 395.75,358.9 396,358.9 396.25,358.9 396.5,358.5 396.75,358.1 397,357.8 397.25,357.4 397.5,357.2 397.75,357.4 398,357.5 398.25,357.5 398.5,357.2 398.75,356.3 399,354.9 399.25,354.2 399.5,354.9 399.75,356.1 400,356.7 400.25,356.6 400.5,356.5 400.75,357.1 401,357.6 401.25,357.6 401.5,356.8 401.75,354.7 402,352.3 402.25,351.7 402.5,353.1 402.75,354.5 403,354.5 403.25,353.1 403.5,351.4 403.75,349.9 404,349.5 404.25,351.2 404.5,353.4 404.75,354.1 405,354.0 405.25,354.5 405.5,355.6 405.75,356.9 406,357.8 406.25,358.0 406.5,357.4 406.75,356.0 407,354.2 407.25,353.2 407.5,353.8 407.75,355.1 408,355.8 408.25,355.8 408.5,356.0 408.75,356.6 409,357.7 409.25,358.6 409.5,359.0 409.75,358.9 410,358.9 410.25,358.8 410.5,358.8 410.75,359.0 411,359.1 411.25,359.2 411.5,359.2 411.75,359.1 412,359.1 412.25,359.2 412.5,359.2 412.75,359.0 413,359.0 413.25,359.2 413.5,359.2 413.75,359.0 414,359.0 414.25,359.1 414.5,359.1 414.75,358.9 415,358.9 415.25,359.0 415.5,359.1 415.75,359.1 416,358.9 416.25,359.0 416.5,359.2 416.75,359.0 417,358.5 417.25,358.1 417.5,357.8 417.75,357.5 418,357.7 418.25,357.9 418.5,358.1 418.75,358.5 419,358.6 419.25,358.6 419.5,358.6 419.75,358.9 420,359.0 420.25,358.8 420.5,358.8 420.75,358.8 421,358.7 421.25,358.9 421.5,359.1 421.75,359.0 422,359.0 422.25,359.0 422.5,359.1 422.75,359.1 423,358.9 423.25,358.7 423.5,358.5 423.75,358.4 424,358.2 424.25,358.0 424.5,357.6 424.75,357.4 425,357.3 425.25,357.4 425.5,357.4 425.75,357.5 426,357.6 426.25,357.9 426.5,358.2 426.75,358.4 427,358.7 427.25,358.8 427.5,358.5 427.75,358.4 428,358.6 428.25,358.7 428.5,358.8 428.75,359.0 429,358.9 429.25,358.8 429.5,358.9 429.75,359.1 430,359.1 430.25,359.3 430.5,359.4 430.75,359.1 431,359.2 431.25,359.3 431.5,359.1 431.75,359.1 432,359.2 432.25,359.0 432.5,359.0 432.75,359.1 433,359.1 433.25,359.2 433.5,359.3 433.75,359.4 434,359.3 434.25,359.0 434.5,359.0 434.75,359.0 435,359.1 435.25,359.0 435.5,358.7 435.75,358.7 436,358.7 436.25,358.4 436.5,358.2 436.75,358.2 437,358.0 437.25,357.7 437.5,357.7 437.75,357.6 438,357.7 438.25,357.9 438.5,358.0 438.75,358.2 439,358.3 439.25,358.6 439.5,359.0 439.75,359.1 440,359.2 440.25,359.1 440.5,358.9 440.75,359.2 441,359.3 441.25,359.1 441.5,359.0 441.75,358.8 442,358.8 442.25,358.9 442.5,359.0 442.75,359.0 443,358.8 443.25,358.6 443.5,358.7 443.75,358.8 444,358.8 444.25,358.7 444.5,358.5 444.75,358.4 445,358.1 445.25,357.9 445.5,357.8 445.75,357.4 446,357.2 446.25,357.4 446.5,357.6 446.75,357.6 447,357.6 447.25,357.9 447.5,358.2 447.75,358.3 448,358.5 448.25,358.7 448.5,359.0 448.75,359.1 449,359.0 449.25,359.0 449.5,359.0 449.75,359.1 450,359.1 450.25,359.1 450.5,359.0 450.75,359.0 451,359.1 451.25,359.0 451.5,358.7 451.75,358.5 452,358.4 452.25,358.0 452.5,357.8 452.75,357.8 453,357.8 453.25,357.6 453.5,357.3 453.75,357.2 454,357.4 454.25,357.7 454.5,357.8 454.75,358.0 455,358.6 455.25,358.6 455.5,358.6 455.75,358.9 456,358.7 456.25,358.4 456.5,358.4 456.75,358.3 457,357.7 457.25,357.0 457.5,356.4 457.75,355.6 458,355.0 458.25,354.9 458.5,354.7 458.75,354.6 459,354.8 459.25,355.4 459.5,355.8 459.75,356.2 460,356.6 460.25,357.0 460.5,357.3 460.75,357.5 461,358.0 461.25,358.4 461.5,358.4 461.75,358.3 462,358.3 462.25,358.2 462.5,357.9 462.75,357.7 463,357.6 463.25,357.5 463.5,357.2 463.75,356.6 464,355.8 464.25,354.5 464.5,353.1 464.75,351.6 465,350.0 465.25,348.5 465.5,347.5 465.75,347.3 466,347.7 466.25,348.2 466.5,349.2 466.75,350.5 467,351.6 467.25,352.6 467.5,353.5 467.75,354.5 468,355.5 468.25,356.4 468.5,357.1 468.75,357.6 469,357.8 469.25,357.8 469.5,357.8 469.75,357.9 470,358.0 470.25,357.8 470.5,357.2 470.75,356.7 471,356.0 471.25,355.2 471.5,354.3 471.75,352.8 472,351.5 472.25,350.6 472.5,350.1 472.75,349.8 473,349.8 473.25,350.2 473.5,350.8 473.75,351.6 474,352.7 474.25,353.7 474.5,354.5 474.75,355.2 475,356.0 475.25,356.7 475.5,357.3 475.75,357.6 476,358.1 476.25,358.5 476.5,358.5 476.75,358.4 477,358.7 477.25,359.1 477.5,358.9 477.75,358.6 478,358.5 478.25,358.5 478.5,358.3 478.75,357.9 479,357.6 479.25,357.4 479.5,357.0 479.75,356.9 480,356.9 480.25,357.0 480.5,357.1 480.75,357.1 481,357.2 481.25,357.5 481.5,357.7 481.75,357.7 482,357.8 482.25,358.1 482.5,358.2 482.75,358.2 483,358.3 483.25,358.3 483.5,358.0 483.75,357.7 484,357.5 484.25,357.3 484.5,356.7 484.75,355.8 485,354.6 485.25,353.1 485.5,351.5 485.75,350.2 486,349.3 486.25,348.8 486.5,349.1 486.75,349.4 487,350.0 487.25,350.9 487.5,352.1 487.75,353.2 488,354.2 488.25,355.3 488.5,356.5 488.75,357.1 489,357.5 489.25,357.8 489.5,358.1 489.75,358.6 490,358.8 490.25,358.7 490.5,358.6 490.75,358.7 491,358.8 491.25,358.8 491.5,358.8 491.75,358.6 492,358.5 492.25,358.3 492.5,357.7 492.75,357.4 493,357.2 493.25,357.0 493.5,356.8 493.75,356.6 494,356.8 494.25,357.1 494.5,357.2 494.75,357.3 495,357.3 495.25,357.6 495.5,357.9 495.75,357.9 496,357.8 496.25,357.7 496.5,357.8 496.75,358.0 497,358.0 497.25,357.7 497.5,357.4 497.75,357.4 498,357.6 498.25,357.7 498.5,357.9 498.75,357.9 499,357.8 499.25,357.9 499.5,358.0 499.75,358.3 500,358.6 500.25,358.8 500.5,358.8 500.75,358.7 501,358.7 501.25,358.8 501.5,358.9 501.75,358.8 502,358.8 502.25,358.8 502.5,358.8 502.75,358.7 503,358.8 503.25,358.9 503.5,358.9 503.75,358.8 504,358.7 504.25,358.6 504.5,358.5 504.75,358.6 505,358.9 505.25,358.9 505.5,358.8 505.75,358.6 506,358.6 506.25,358.6 506.5,358.5 506.75,358.6 507,358.8 507.25,358.7 507.5,358.7 507.75,358.8 508,358.9 508.25,358.9 508.5,358.7 508.75,358.7 509,358.9 509.25,358.8 509.5,358.7 509.75,358.7 510,358.9 510.25,359.1 510.5,359.2 510.75,359.2 511,359.2 511.25,358.9 511.5,358.8 511.75,358.8 512,358.7 512.25,358.8 512.5,358.9 512.75,358.8 513,358.8 513.25,358.9 513.5,358.9 513.75,358.9 514,359.0 514.25,358.9 514.5,358.9 514.75,358.9 515,358.8 515.25,358.7 515.5,358.5 515.75,358.4 516,357.9 516.25,357.0 516.5,356.6 516.75,356.3 517,355.8 517.25,355.4 517.5,355.0 517.75,354.7 518,354.7 518.25,355.0 518.5,355.4 518.75,355.8 519,356.1 519.25,356.4 519.5,356.7 519.75,357.1 520,357.6 520.25,357.9 520.5,358.1 520.75,358.3 521,358.4 521.25,358.3 521.5,358.4 521.75,358.7 522,358.8 522.25,358.8 522.5,358.8 522.75,358.9 523,359.0 523.25,359.1 523.5,358.9 523.75,358.8 524,359.0 524.25,359.3 524.5,359.3 524.75,359.1 525,359.0 525.25,358.9 525.5,359.0 525.75,359.1 526,359.0 526.25,359.0 526.5,358.9 526.75,358.9 527,358.8 527.25,358.9 527.5,359.0 527.75,358.9 528,358.9 528.25,359.2 528.5,359.3 528.75,359.2 529,358.9 529.25,358.8 529.5,358.8 529.75,358.7 530,358.8 530.25,358.7 530.5,358.8 530.75,359.1 531,359.1 531.25,359.0 531.5,359.1 531.75,359.0 532,358.7 532.25,358.8 532.5,359.0 532.75,359.0 533,358.9 533.25,359.0 533.5,359.2 533.75,359.1 534,359.0 534.25,358.9 534.5,359.0 534.75,359.1 535,358.9 535.25,358.9 535.5,359.1 535.75,359.1 536,359.0 536.25,358.9 536.5,358.9 536.75,358.7 537,358.6 537.25,358.8 537.5,358.9"/>
<polyline fill="none" stroke="#666" stroke-width="0.75" stroke-linejoin="round" points="60,441.1 60.25,441.0 60.5,441.2 60.75,441.4 61,441.5 61.25,441.4 61.5,441.2 61.75,441.2 62,441.5 62.25,441.6 62.5,441.4 62.75,441.1 63,441.2 63.25,441.5 63.5,441.3 63.75,441.1 64,441.1 64.25,441.1 64.5,441.1 64.75,441.1 65,441.2 65.25,441.3 65.5,441.3 65.75,441.2 66,441.4 66.25,441.3 66.5,441.1 66.75,441.1 67,441.1 67.25,441.1 67.5,441.1 67.75,441.2 68,441.3 68.25,441.2 68.5,441.1 68.75,441.1 69,441.0 69.25,441.0 69.5,441.2 69.75,441.2 70,441.5 70.25,441.4 70.5,441.1 70.75,441.1 71,441.2 71.25,441.2 71.5,441.2 71.75,441.0 72,441.1 72.25,441.3 72.5,441.3 72.75,441.3 73,441.2 73.25,441.2 73.5,441.1 73.75,441.3 74,441.5 74.25,441.7 74.5,441.8 74.75,441.7 75,441.5 75.25,441.5 75.5,441.3 75.75,441.4 76,441.5 76.25,441.4 76.5,441.3 76.75,441.4 77,441.4 77.25,441.3 77.5,441.3 77.75,441.3 78,441.3 78.25,441.3 78.5,441.3 78.75,441.1 79,440.9 79.25,441.1 79.5,441.3 79.75,441.3 80,441.1 80.25,441.1 80.5,441.2 80.75,441.1 81,441.1 81.25,441.2 81.5,441.2 81.75,441.2 82,441.3 82.25,441.2 82.5,441.4 82.75,441.5 83,441.2 83.25,441.0 83.5,440.9 83.75,441.1 84,441.3 84.25,441.3 84.5,441.2 84.75,441.2 85,441.1 85.25,441.2 85.5,441.3 85.75,441.3 86,441.4 86.25,441.6 86.5,441.4 86.75,441.2 87,441.5 87.25,441.4 87.5,441.3 87.75,441.4 88,441.3 88.25,441.2 88.5,441.1 88.75,441.1 89,441.3 89.25,441.5 89.5,441.4 89.75,441.5 90,441.5 90.25,441.3 90.5,441.2 90.75,441.2 91,441.1 91.25,441.1 91.5,441.3 91.75,441.3 92,441.3 92.25,441.3 92.5,441.5 92.75,441.5 93,441.5 93.25,441.5 93.5,441.6 93.75,441.7 94,441.6 94.25,441.4 94.5,441.4 94.75,441.2 95,441.3 95.25,441.5 95.5,441.6 95.75,441.6 96,441.3 96.25,441.2 96.5,441.6 96.75,441.5 97,441.3 97.25,441.4 97.5,441.3 97.75,441.0 98,441.1 98.25,441.3 98.5,441.4 98.75,441.3 99,441.1 99.25,441.2 99.5,441.1 99.75,441.1 100,441.2 100.25,441.2 100.5,440.7 100.75,439.5 101,437.7 101.25,435.8 101.5,434.4 101.75,434.5 102,436.3 102.25,438.7 102.5,440.1 102.75,440.7 103,441.2 103.25,441.3 103.5,440.9 103.75,440.9 104,441.2 104.25,441.3 104.5,441.3 104.75,441.2 105,441.4 105.25,441.7 105.5,441.7 105.75,441.3 106,441.3 106.25,441.6 106.5,441.3 106.75,441.2 107,441.3 107.25,441.5 107.5,441.5 107.75,441.4 108,441.2 108.25,441.3 108.5,441.5 108.75,441.6 109,441.4 109.25,441.0 109.5,441.2 109.75,441.4 110,441.2 110.25,440.9 110.5,441.1 110.75,441.4 111,441.4 111.25,441.3 111.5,441.4 111.75,441.4 112,441.2 112.25,441.4 112.5,441.7 112.75,441.8 113,441.6 113.25,441.5 113.5,441.5 113.75,441.3 114,441.2 114.25,441.1 114.5,441.2 114.75,441.5 115,441.7 115.25,441.5 115.5,441.5 115.75,441.5 116,441.4 116.25,441.2 116.5,441.0 116.75,441.1 117,441.1 117.25,440.7 117.5,440.8 117.75,441.0 118,440.8 118.25,440.5 118.5,440.2 118.75,439.5 119,435.8 119.25,423.7 119.5,405.3 119.75,400.0 120,412.6 120.25,428.4 120.5,436.3 120.75,435.8 121,425.7 121.25,406.9 121.5,397.4 121.75,408.0 122,425.1 122.25,435.6 122.5,439.2 122.75,440.3 123,440.6 123.25,440.8 123.5,440.9 123.75,441.1 124,441.2 124.25,441.4 124.5,441.5 124.75,441.5 125,441.4 125.25,441.2 125.5,441.2 125.75,441.3 126,441.3 126.25,441.4 126.5,441.4 126.75,441.1 127,441.1 127.25,441.3 127.5,441.4 127.75,441.3 128,441.3 128.25,441.5 128.5,441.5 128.75,441.3 129,441.3 129.25,441.3 129.5,441.3 129.75,441.2 130,441.2 130.25,441.4 130.5,441.4 130.75,441.3 131,441.2 131.25,441.0 131.5,441.2 131.75,441.3 132,441.3 132.25,441.3 132.5,441.3 132.75,441.3 133,441.2 133.25,441.1 133.5,441.2 133.75,441.4 134,441.4 134.25,441.2 134.5,441.2 134.75,441.3 135,441.4 135.25,441.4 135.5,441.4 135.75,441.2 136,441.2 136.25,441.4 136.5,441.5 136.75,441.5 137,441.6 137.25,441.7 137.5,441.4 137.75,441.1 138,441.0 138.25,441.0 138.5,441.1 138.75,441.1 139,441.1 139.25,441.1 139.5,440.9 139.75,441.1 140,441.6 140.25,441.7 140.5,441.5 140.75,441.6 141,441.7 141.25,441.6 141.5,441.3 141.75,441.2 142,441.2 142.25,441.2 142.5,441.1 142.75,441.2 143,441.3 143.25,441.4 143.5,441.4 143.75,441.2 144,441.4 144.25,441.6 144.5,441.6 144.75,441.6 145,441.7 145.25,441.7 145.5,441.5 145.75,441.2 146,441.2 146.25,441.2 146.5,441.1 146.75,441.1 147,441.0 147.25,441.0 147.5,441.3 147.75,441.3 148,441.2 148.25,441.1 148.5,441.2 148.75,441.2 149,441.3 149.25,441.3 149.5,441.3 149.75,441.4 150,441.5 150.25,441.4 150.5,441.2 150.75,441.3 151,441.4 151.25,441.4 151.5,441.2 151.75,440.8 152,440.8 152.25,441.2 152.5,441.5 152.75,441.7 153,441.6 153.25,441.5 153.5,441.3 153.75,441.2 154,441.3 154.25,441.4 154.5,441.4 154.75,441.5 155,441.5 155.25,441.5 155.5,441.3 155.75,441.2 156,441.2 156.25,441.4 156.5,441.6 156.75,441.5 157,441.6 157.25,441.6 157.5,441.6 157.75,441.5 158,441.3 158.25,441.5 158.5,441.6 158.75,441.4 159,441.2 159.25,441.3 159.5,441.3 159.75,441.3 160,441.5 160.25,441.3 160.5,441.2 160.75,441.5 161,441.6 161.25,441.4 161.5,441.1 161.75,440.5 162,439.9 162.25,439.2 162.5,438.5 162.75,438.2 163,438.4 163.25,439.0 163.5,439.9 163.75,440.8 164,441.2 164.25,441.2 164.5,441.3 164.75,441.5 165,441.6 165.25,441.4 165.5,441.2 165.75,441.2 166,441.3 166.25,441.2 166.5,441.2 166.75,441.4 167,441.5 167.25,441.4 167.5,441.2 167.75,441.4 168,441.4 168.25,441.2 168.5,441.3 168.75,441.4 169,441.3 169.25,441.2 169.5,441.0 169.75,440.7 170,440.4 170.25,440.2 170.5,440.4 170.75,440.7 171,440.8 171.25,440.8 171.5,441.0 171.75,441.4 172,441.5 172.25,441.5 172.5,441.4 172.75,441.3 173,441.2 173.25,441.2 173.5,441.3 173.75,441.3 174,441.2 174.25,441.5 174.5,441.6 174.75,441.3 175,441.3 175.25,441.5 175.5,441.5 175.75,441.6 176,441.6 176.25,441.4 176.5,441.6 176.75,441.7 177,441.7 177.25,441.5 177.5,441.3 177.75,441.1 178,441.2 178.25,441.6 178.5,441.7 178.75,441.6 179,441.5 179.25,441.4 179.5,441.3 179.75,441.3 180,441.3 180.25,441.3 180.5,441.3 180.75,441.4 181,441.4 181.25,441.5 181.5,441.5 181.75,441.6 182,441.5 182.25,441.1 182.5,441.1 182.75,441.4 183,441.7 183.25,441.8 183.5,441.7 183.75,441.5 184,441.4 184.25,441.5 184.5,441.5 184.75,441.2 185,441.2 185.25,441.3 185.5,441.2 185.75,441.0 186,441.2 186.25,441.4 186.5,441.4 186.75,441.5 187,441.4 187.25,441.3 187.5,441.4 187.75,441.3 188,441.2 188.25,441.5 188.5,441.5 188.75,441.2 189,440.9 189.25,441.2 189.5,441.5 189.75,441.5 190,441.3 190.25,441.2 190.5,441.0 190.75,441.0 191,441.3 191.25,441.3 191.5,441.0 191.75,441.0 192,441.2 192.25,441.3 192.5,441.5 192.75,441.7 193,441.7 193.25,441.7 193.5,441.5 193.75,441.2 194,441.1 194.25,441.2 194.5,440.8 194.75,440.1 195,439.2 195.25,438.8 195.5,439.1 195.75,439.4 196,439.7 196.25,440.1 196.5,440.5 196.75,441.0 197,441.5 197.25,441.6 197.5,441.4 197.75,441.2 198,441.3 198.25,441.6 198.5,441.7 198.75,441.4 199,441.4 199.25,441.4 199.5,441.1 199.75,440.9 200,441.2 200.25,441.3 200.5,441.1 200.75,440.9 201,440.9 201.25,441.3 201.5,441.5 201.75,441.2 202,440.9 202.25,440.6 202.5,440.4 202.75,440.1 203,439.9 203.25,440.0 203.5,440.4 203.75,440.7 204,440.8 204.25,441.0 204.5,441.1 204.75,440.9 205,440.9 205.25,441.2 205.5,441.2 205.75,441.2 206,441.3 206.25,441.2 206.5,441.3 206.75,441.4 207,441.5 207.25,441.5 207.5,441.3 207.75,441.4 208,441.4 208.25,441.3 208.5,441.4 208.75,441.3 209,441.2 209.25,441.3 209.5,441.5 209.75,441.5 210,441.5 210.25,441.3 210.5,441.2 210.75,441.1 211,441.0 211.25,440.9 211.5,441.0 211.75,441.0 212,441.0 212.25,441.1 212.5,441.0 212.75,440.6 213,440.5 213.25,440.0 213.5,437.8 213.75,430.7 214,415.7 214.25,401.0 214.5,400.3 214.75,408.1 215,418.4 215.25,429.1 215.5,436.1 215.75,439.0 216,439.8 216.25,439.7 216.5,438.5 216.75,433.4 217,417.8 217.25,390.2 217.5,368.8 217.75,372.9 218,387.7 218.25,405.5 218.5,423.4 218.75,434.9 219,439.1 219.25,439.9 219.5,440.4 219.75,441.0 220,440.8 220.25,440.5 220.5,440.8 220.75,441.3 221,441.3 221.25,441.3 221.5,441.4 221.75,441.3 222,441.0 222.25,440.9 222.5,441.0 222.75,441.0 223,441.2 223.25,441.5 223.5,441.4 223.75,441.2 224,441.2 224.25,441.4 224.5,441.3 224.75,441.0 225,441.2 225.25,441.4 225.5,441.3 225.75,441.0 226,440.7 226.25,440.6 226.5,440.8 226.75,441.0 227,440.8 227.25,440.5 227.5,440.3 227.75,440.0 228,439.2 228.25,437.5 228.5,434.4 228.75,429.2 229,421.6 229.25,412.0 229.5,403.3 229.75,398.1 230,398.0 230.25,402.8 230.5,410.8 230.75,419.7 231,427.3 231.25,433.0 231.5,436.6 231.75,438.5 232,439.3 232.25,440.0 232.5,440.4 232.75,440.6 233,440.9 233.25,441.1 233.5,441.2 233.75,441.1 234,441.0 234.25,441.1 234.5,441.0 234.75,441.1 235,441.2 235.25,441.3 235.5,441.5 235.75,441.4 236,441.3 236.25,441.4 236.5,441.4 236.75,441.1 237,441.0 237.25,441.1 237.5,441.3 237.75,441.4 238,441.3 238.25,441.2 238.5,441.3 238.75,441.6 239,441.6 239.25,441.4 239.5,441.2 239.75,441.4 240,441.5 240.25,441.6 240.5,441.7 240.75,441.6 241,441.2 241.25,441.3 241.5,441.5 241.75,441.6 242,441.5 242.25,441.4 242.5,441.3 242.75,441.5 243,441.7 243.25,441.5 243.5,441.3 243.75,441.3 244,441.3 244.25,441.5 244.5,441.7 244.75,441.8 245,441.6 245.25,441.4 245.5,441.4 245.75,441.4 246,441.4 246.25,441.4 246.5,441.3 246.75,441.3 247,441.4 247.25,441.3 247.5,441.3 247.75,441.4 248,441.5 248.25,441.7 248.5,441.6 248.75,441.3 249,441.2 249.25,441.2 249.5,441.1 249.75,440.7 250,439.9 250.25,438.9 250.5,438.0 250.75,437.4 251,436.8 251.25,436.9 251.5,437.5 251.75,438.1 252,439.0 252.25,440.0 252.5,440.8 252.75,441.1 253,441.2 253.25,441.4 253.5,441.3 253.75,441.0 254,440.8 254.25,440.9 254.5,441.1 254.75,441.1 255,441.1 255.25,441.2 255.5,441.4 255.75,441.5 256,441.6 256.25,441.6 256.5,441.5 256.75,441.4 257,441.5 257.25,441.2 257.5,441.2 257.75,441.5 258,441.6 258.25,441.6 258.5,441.6 258.75,441.6 259,441.4 259.25,441.2 259.5,441.2 259.75,441.2 260,441.1 260.25,440.7 260.5,440.4 260.75,439.8 261,438.6 261.25,437.8 261.5,437.6 261.75,437.6 262,437.9 262.25,438.8 262.5,439.6 262.75,440.1 263,440.6 263.25,441.1 263.5,441.4 263.75,441.7 264,441.8 264.25,441.6 264.5,441.5 264.75,441.5 265,441.5 265.25,441.5 265.5,441.3 265.75,441.2 266,441.3 266.25,441.6 266.5,441.8 266.75,441.6 267,441.3 267.25,441.3 267.5,441.4 267.75,441.5 268,441.5 268.25,441.6 268.5,441.5 268.75,441.2 269,441.1 269.25,441.1 269.5,441.2 269.75,441.3 270,441.4 270.25,441.3 270.5,441.3 270.75,441.5 271,441.7 271.25,441.5 271.5,441.2 271.75,441.4 272,441.5 272.25,441.4 272.5,441.4 272.75,441.5 273,441.6 273.25,441.5 273.5,441.3 273.75,441.2 274,441.1 274.25,441.0 274.5,441.1 274.75,441.2 275,441.5 275.25,441.8 275.5,441.6 275.75,441.1 276,440.9 276.25,441.0 276.5,440.9 276.75,441.0 277,441.2 277.25,441.3 277.5,441.5 277.75,441.6 278,441.1 278.25,440.5 278.5,439.8 278.75,438.9 279,437.9 279.25,437.5 279.5,437.4 279.75,437.4 280,437.7 280.25,438.4 280.5,439.2 280.75,440.1 281,440.8 281.25,441.2 281.5,441.4 281.75,441.4 282,441.5 282.25,441.5 282.5,441.4 282.75,441.3 283,441.3 283.25,441.2 283.5,441.2 283.75,441.4 284,441.6 284.25,441.7 284.5,441.5 284.75,441.3 285,441.4 285.25,441.5 285.5,441.8 285.75,441.9 286,441.7 286.25,441.5 286.5,441.5 286.75,441.6 287,441.4 287.25,441.3 287.5,441.6 287.75,441.6 288,441.5 288.25,441.2 288.5,441.2 288.75,441.5 289,441.4 289.25,441.1 289.5,441.1 289.75,441.4 290,441.7 290.25,441.6 290.5,441.4 290.75,441.6 291,441.6 291.25,440.9 291.5,440.5 291.75,440.6 292,440.4 292.25,440.0 292.5,440.0 292.75,440.3 293,440.5 293.25,440.6 293.5,440.7 293.75,440.9 294,441.1 294.25,441.1 294.5,441.4 294.75,441.4 295,441.4 295.25,441.5 295.5,441.6 295.75,441.8 296,441.8 296.25,441.4 296.5,441.2 296.75,441.3 297,441.3 297.25,441.3 297.5,441.1 297.75,440.9 298,440.7 298.25,440.2 298.5,439.6 298.75,439.2 299,438.8 299.25,438.4 299.5,438.5 299.75,438.6 300,438.3 300.25,438.0 300.5,437.6 300.75,437.3 301,437.2 301.25,437.5 301.5,437.8 301.75,438.2 302,438.9 302.25,439.7 302.5,440.3 302.75,440.8 303,441.2 303.25,441.4 303.5,441.6 303.75,441.6 304,441.5 304.25,441.4 304.5,441.4 304.75,441.4 305,441.4 305.25,441.1 305.5,441.1 305.75,441.4 306,441.6 306.25,441.5 306.5,441.3 306.75,441.4 307,441.5 307.25,441.6 307.5,441.7 307.75,441.5 308,441.4 308.25,441.5 308.5,441.4 308.75,441.3 309,441.2 309.25,441.3 309.5,441.5 309.75,441.4 310,441.5 310.25,441.6 310.5,441.7 310.75,441.7 311,441.6 311.25,441.4 311.5,441.3 311.75,441.0 312,441.1 312.25,441.4 312.5,441.6 312.75,441.6 313,441.5 313.25,441.5 313.5,441.6 313.75,441.7 314,441.6 314.25,441.5 314.5,441.5 314.75,441.6 315,441.7 315.25,441.7 315.5,441.7 315.75,441.5 316,441.4 316.25,441.5 316.5,441.6 316.75,441.7 317,441.7 317.25,441.5 317.5,441.3 317.75,441.4 318,441.5 318.25,441.5 318.5,441.5 318.75,441.5 319,441.3 319.25,441.2 319.5,441.3 319.75,441.4 320,441.3 320.25,441.1 320.5,441.1 320.75,441.0 321,440.8 321.25,440.6 321.5,440.5 321.75,439.8 322,438.3 322.25,436.0 322.5,432.9 322.75,429.6 323,426.1 323.25,423.3 323.5,422.3 323.75,423.2 324,425.3 324.25,427.9 324.5,430.7 324.75,433.2 325,434.8 325.25,435.2 325.5,434.7 325.75,433.4 326,431.5 326.25,429.8 326.5,428.9 326.75,429.2 327,430.3 327.25,431.8 327.5,433.5 327.75,435.5 328,437.5 328.25,439.1 328.5,439.8 328.75,440.2 329,440.7 329.25,440.9 329.5,440.9 329.75,441.0 330,440.9 330.25,440.4 330.5,439.8 330.75,439.2 331,438.7 331.25,438.4 331.5,438.6 331.75,438.8 332,438.8 332.25,439.0 332.5,439.3 332.75,440.0 333,440.6 333.25,441.0 333.5,441.2 333.75,441.4 334,441.4 334.25,441.4 334.5,441.5 334.75,441.1 335,441.0 335.25,441.2 335.5,441.2 335.75,441.2 336,441.3 336.25,441.3 336.5,441.3 336.75,441.4 337,441.3 337.25,441.0 337.5,440.5 337.75,440.2 338,440.1 338.25,440.0 338.5,439.9 338.75,440.0 339,440.2 339.25,440.2 339.5,440.4 339.75,440.8 340,441.2 340.25,441.5 340.5,441.5 340.75,441.4 341,441.4 341.25,441.3 341.5,441.1 341.75,441.2 342,441.4 342.25,441.4 342.5,441.2 342.75,441.2 343,441.0 343.25,440.4 343.5,439.6 343.75,438.7 344,437.8 344.25,437.2 344.5,436.8 344.75,436.6 345,437.0 345.25,437.8 345.5,438.5 345.75,439.3 346,440.0 346.25,440.5 346.5,440.8 346.75,440.9 347,441.0 347.25,441.2 347.5,441.3 347.75,441.5 348,441.8 348.25,441.7 348.5,441.4 348.75,441.3 349,441.6 349.25,441.7 349.5,441.5 349.75,441.5 350,441.4 350.25,441.4 350.5,441.3 350.75,441.2 351,441.2 351.25,441.3 351.5,441.7 351.75,441.8 352,441.6 352.25,441.6 352.5,441.5 352.75,441.6 353,441.5 353.25,441.5 353.5,441.4 353.75,441.2 354,441.2 354.25,441.4 354.5,441.5 354.75,441.6 355,441.7 355.25,441.6 355.5,441.4 355.75,441.6 356,441.8 356.25,441.9 356.5,441.6 356.75,441.3 357,441.1 357.25,441.0 357.5,440.7 357.75,440.2 358,439.7 358.25,439.3 358.5,439.1 358.75,438.9 359,438.7 359.25,438.7 359.5,439.1 359.75,439.8 360,440.2 360.25,440.2 360.5,440.7 360.75,441.4 361,441.5 361.25,441.4 361.5,441.5 361.75,441.5 362,441.5 362.25,441.7 362.5,441.7 362.75,441.4 363,441.2 363.25,441.2 363.5,441.3 363.75,441.8 364,441.9 364.25,441.8 364.5,441.6 364.75,441.5 365,441.5 365.25,441.7 365.5,441.6 365.75,441.4 366,441.2 366.25,441.2 366.5,441.3 366.75,441.4 367,441.4 367.25,441.4 367.5,441.5 367.75,441.6 368,441.6 368.25,441.5 368.5,441.4 368.75,441.5 369,441.5 369.25,441.3 369.5,441.0 369.75,440.9 370,440.9 370.25,440.8 370.5,440.6 370.75,440.5 371,440.5 371.25,440.4 371.5,440.4 371.75,440.6 372,440.9 372.25,441.2 372.5,441.2 372.75,441.1 373,441.1 373.25,441.3 373.5,441.4 373.75,441.4 374,441.3 374.25,441.3 374.5,441.4 374.75,441.6 375,441.7 375.25,441.6 375.5,441.6 375.75,441.5 376,441.4 376.25,441.4 376.5,441.6 376.75,441.8 377,441.8 377.25,441.6 377.5,441.4 377.75,441.4 378,441.5 378.25,441.6 378.5,441.6 378.75,441.6 379,441.6 379.25,441.6 379.5,441.6 379.75,441.5 380,441.5 380.25,441.5 380.5,441.5 380.75,441.3 381,441.2 381.25,441.5 381.5,441.4 381.75,441.1 382,441.1 382.25,441.3 382.5,441.5 382.75,441.7 383,441.8 383.25,441.9 383.5,441.9 383.75,441.5 384,441.5 384.25,441.6 384.5,441.3 384.75,441.2 385,441.5 385.25,441.8 385.5,441.6 385.75,441.2 386,441.2 386.25,441.3 386.5,441.4 386.75,441.5 387,441.6 387.25,441.7 387.5,441.6 387.75,441.4 388,441.5 388.25,441.4 388.5,441.2 388.75,441.1 389,440.8 389.25,440.4 389.5,440.1 389.75,439.4 390,438.3 390.25,436.9 390.5,435.4 390.75,434.4 391,433.7 391.25,433.8 391.5,434.3 391.75,435.1 392,436.1 392.25,437.1 392.5,438.1 392.75,439.1 393,440.0 393.25,440.6 393.5,440.8 393.75,440.9 394,441.2 394.25,441.2 394.5,441.0 394.75,441.3 395,441.4 395.25,441.1 395.5,441.2 395.75,441.2 396,441.0 396.25,440.9 396.5,440.8 396.75,440.7 397,440.4 397.25,439.6 397.5,438.8 397.75,437.8 398,436.4 398.25,434.9 398.5,433.5 398.75,432.4 399,432.1 399.25,432.4 399.5,433.1 399.75,434.1 400,435.3 400.25,436.5 400.5,437.2 400.75,437.6 401,437.8 401.25,437.0 401.5,435.7 401.75,434.4 402,432.9 402.25,431.2 402.5,429.7 402.75,428.4 403,427.2 403.25,426.3 403.5,426.3 403.75,427.4 404,429.0 404.25,430.7 404.5,432.0 404.75,433.5 405,435.2 405.25,436.8 405.5,438.1 405.75,438.8 406,439.2 406.25,439.8 406.5,440.2 406.75,440.4 407,440.7 407.25,440.9 407.5,441.1 407.75,441.2 408,441.4 408.25,441.5 408.5,441.5 408.75,441.3 409,441.0 409.25,441.0 409.5,441.2 409.75,441.3 410,441.2 410.25,441.3 410.5,441.6 410.75,441.8 411,441.6 411.25,441.5 411.5,441.6 411.75,441.6 412,441.6 412.25,441.6 412.5,441.5 412.75,441.5 413,441.6 413.25,441.6 413.5,441.3 413.75,441.2 414,441.3 414.25,441.4 414.5,441.4 414.75,441.4 415,441.5 415.25,441.5 415.5,441.2 415.75,440.9 416,440.6 416.25,440.0 416.5,439.6 416.75,439.3 417,439.0 417.25,439.1 417.5,439.3 417.75,439.4 418,439.5 418.25,439.7 418.5,439.9 418.75,440.3 419,440.7 419.25,440.9 419.5,441.1 419.75,441.1 420,441.1 420.25,441.4 420.5,441.7 420.75,441.9 421,441.8 421.25,441.7 421.5,441.7 421.75,441.7 422,441.6 422.25,441.4 422.5,441.3 422.75,441.6 423,441.7 423.25,441.3 423.5,441.3 423.75,441.6 424,441.7 424.25,441.5 424.5,441.3 424.75,441.4 425,441.6 425.25,441.7 425.5,441.5 425.75,441.4 426,441.3 426.25,441.0 426.5,440.8 426.75,440.8 427,440.9 427.25,440.8 427.5,440.5 427.75,440.5 428,440.8 428.25,440.9 428.5,440.6 428.75,440.8 429,441.2 429.25,441.4 429.5,441.5 429.75,441.3 430,441.2 430.25,441.5 430.5,441.8 430.75,441.7 431,441.5 431.25,441.6 431.5,441.6 431.75,441.4 432,441.3 432.25,441.5 432.5,441.7 432.75,441.7 433,441.6 433.25,441.5 433.5,441.3 433.75,441.3 434,441.5 434.25,441.6 434.5,441.6 434.75,441.8 435,441.8 435.25,441.8 435.5,441.8 435.75,441.8 436,441.8 436.25,441.8 436.5,441.7 436.75,441.6 437,441.6 437.25,441.6 437.5,441.4 437.75,441.5 438,441.7 438.25,441.7 438.5,441.7 438.75,442.0 439,442.0 439.25,441.5 439.5,441.2 439.75,441.2 440,441.4 440.25,441.5 440.5,441.7 440.75,441.7 441,441.6 441.25,441.6 441.5,441.6 441.75,441.5 442,441.7 442.25,442.0 442.5,441.7 442.75,441.3 443,441.3 443.25,441.6 443.5,441.6 443.75,441.7 444,442.0 444.25,441.9 444.5,441.4 444.75,441.5 445,441.8 445.25,441.7 445.5,441.6 445.75,441.9 446,441.9 446.25,441.4 446.5,441.2 446.75,441.3 447,441.7 447.25,441.8 447.5,441.7 447.75,441.5 448,441.6 448.25,441.6 448.5,441.3 448.75,441.3 449,441.6 449.25,441.8 449.5,441.7 449.75,441.6 450,441.6 450.25,441.6 450.5,441.4 450.75,441.4 451,441.5 451.25,441.5 451.5,441.5 451.75,441.6 452,441.6 452.25,441.6 452.5,441.6 452.75,441.6 453,441.5 453.25,441.5 453.5,441.6 453.75,441.5 454,441.5 454.25,441.6 454.5,441.6 454.75,441.8 455,441.8 455.25,441.5 455.5,441.6 455.75,441.7 456,441.6 456.25,441.5 456.5,441.6 456.75,441.5 457,441.6 457.25,441.7 457.5,441.6 457.75,441.4 458,441.4 458.25,441.5 458.5,441.3 458.75,441.1 459,441.2 459.25,441.6 459.5,441.8 459.75,441.7 460,441.7 460.25,441.7 460.5,441.7 460.75,441.6 461,441.4 461.25,441.3 461.5,441.4 461.75,441.4 462,441.4 462.25,441.6 462.5,441.7 462.75,441.6 463,441.7 463.25,441.6 463.5,441.0 463.75,440.8 464,440.8 464.25,440.5 464.5,440.2 464.75,439.8 465,439.2 465.25,439.1 465.5,439.1 465.75,438.9 466,438.8 466.25,438.9 466.5,439.3 466.75,439.8 467,439.9 467.25,440.1 467.5,440.5 467.75,440.9 468,441.0 468.25,441.2 468.5,441.4 468.75,441.6 469,441.7 469.25,441.6 469.5,441.5 469.75,441.4 470,441.4 470.25,441.6 470.5,441.6 470.75,441.2 471,441.0 471.25,441.2 471.5,441.1 471.75,440.3 472,439.5 472.25,438.8 472.5,438.0 472.75,436.9 473,436.3 473.25,436.1 473.5,436.1 473.75,436.3 474,436.7 474.25,437.2 474.5,437.8 474.75,438.6 475,439.2 475.25,439.4 475.5,439.8 475.75,440.5 476,441.0 476.25,441.2 476.5,441.5 476.75,441.6 477,441.3 477.25,441.3 477.5,441.4 477.75,441.6 478,441.7 478.25,441.8 478.5,441.7 478.75,441.8 479,441.9 479.25,441.8 479.5,441.7 479.75,441.6 480,441.6 480.25,441.7 480.5,441.6 480.75,441.5 481,441.6 481.25,441.7 481.5,441.6 481.75,441.6 482,441.8 482.25,441.8 482.5,441.6 482.75,441.6 483,441.6 483.25,441.6 483.5,441.6 483.75,441.4 484,441.2 484.25,441.3 484.5,441.3 484.75,440.8 485,440.3 485.25,440.0 485.5,439.9 485.75,439.8 486,439.5 486.25,439.5 486.5,439.7 486.75,439.9 487,440.1 487.25,440.4 487.5,440.5 487.75,440.7 488,441.0 488.25,440.9 488.5,441.0 488.75,441.4 489,441.5 489.25,441.5 489.5,441.6 489.75,441.7 490,441.5 490.25,441.4 490.5,441.4 490.75,441.4 491,441.5 491.25,441.8 491.5,441.8 491.75,441.7 492,441.7 492.25,441.6 492.5,441.5 492.75,441.7 493,441.7 493.25,441.5 493.5,441.5 493.75,441.6 494,441.5 494.25,441.5 494.5,441.5 494.75,441.5 495,441.7 495.25,441.9 495.5,441.8 495.75,441.7 496,441.6 496.25,441.6 496.5,441.6 496.75,441.7 497,441.9 497.25,442.0 497.5,441.9 497.75,441.9 498,441.9 498.25,441.8 498.5,441.6 498.75,441.5 499,441.5 499.25,441.5 499.5,441.5 499.75,441.5 500,441.6 500.25,441.8 500.5,442.1 500.75,442.1 501,441.8 501.25,441.7 501.5,441.8 501.75,441.8 502,441.6 502.25,441.4 502.5,441.3 502.75,441.7 503,441.9 503.25,441.8 503.5,441.7 503.75,441.8 504,441.8 504.25,441.7 504.5,441.4 504.75,441.5 505,441.7 505.25,441.8 505.5,441.8 505.75,441.8 506,441.9 506.25,442.0 506.5,441.8 506.75,441.6 507,441.7 507.25,441.6 507.5,441.3 507.75,441.3 508,441.6 508.25,441.8 508.5,441.8 508.75,441.7 509,441.9 509.25,441.8 509.5,441.6 509.75,441.8 510,441.9 510.25,441.7 510.5,441.4 510.75,441.5 511,441.7 511.25,441.8 511.5,441.6 511.75,441.6 512,441.5 512.25,441.5 512.5,441.5 512.75,441.4 513,441.4 513.25,441.3 513.5,441.2 513.75,441.4 514,441.8 514.25,442.0 514.5,441.8 514.75,441.8 515,441.9 515.25,441.8 515.5,441.8 515.75,441.9 516,441.9 516.25,441.9 516.5,441.8 516.75,441.7 517,441.6 517.25,441.5 517.5,441.5 517.75,441.6 518,441.6 518.25,441.8 518.5,441.9 518.75,442.0 519,442.0 519.25,442.0 519.5,442.0 519.75,441.8 520,441.8 520.25,441.8 520.5,441.8 520.75,441.9 521,441.9 521.25,441.6 521.5,441.3 521.75,441.4 522,441.7 522.25,441.5 522.5,441.5 522.75,441.8 523,441.9 523.25,441.8 523.5,441.7 523.75,441.6 524,441.5 524.25,441.6 524.5,441.8 524.75,442.0 525,442.0 525.25,441.6 525.5,441.4 525.75,441.6 526,441.5 526.25,441.4 526.5,441.7 526.75,441.8 527,441.7 527.25,441.7 527.5,441.8 527.75,441.8 528,441.7 528.25,441.8 528.5,441.8 528.75,442.0 529,442.1 529.25,441.9 529.5,441.6 529.75,441.6 530,441.7 530.25,441.8 530.5,441.7 530.75,441.7 531,441.7 531.25,441.9 531.5,442.0 531.75,441.9 532,441.6 532.25,441.4 532.5,441.5 532.75,441.6 533,441.7 533.25,441.6 533.5,441.5 533.75,441.5 534,441.3 534.25,441.3 534.5,441.5 534.75,441.7 535,441.6 535.25,441.5 535.5,441.7 535.75,441.8 536,441.9 536.25,441.8 536.5,441.7 536.75,441.7 537,441.7 537.25,441.5 537.5,441.4"/>
<polyline fill="none" stroke="#444" stroke-width="0.75" stroke-linejoin="round" clip-path="url(#cb3)" points="60,441.1 60.25,441.0 60.5,441.2 60.75,441.4 61,441.5 61.25,441.4 61.5,441.2 61.75,441.2 62,441.5 62.25,441.6 62.5,441.4 62.75,441.1 63,441.2 63.25,441.5 63.5,441.3 63.75,441.1 64,441.1 64.25,441.1 64.5,441.1 64.75,441.1 65,441.2 65.25,441.3 65.5,441.3 65.75,441.2 66,441.4 66.25,441.3 66.5,441.1 66.75,441.1 67,441.1 67.25,441.1 67.5,441.1 67.75,441.2 68,441.3 68.25,441.2 68.5,441.1 68.75,441.1 69,441.0 69.25,441.0 69.5,441.2 69.75,441.2 70,441.5 70.25,441.4 70.5,441.1 70.75,441.1 71,441.2 71.25,441.2 71.5,441.2 71.75,441.0 72,441.1 72.25,441.3 72.5,441.3 72.75,441.3 73,441.2 73.25,441.2 73.5,441.1 73.75,441.3 74,441.5 74.25,441.7 74.5,441.8 74.75,441.7 75,441.5 75.25,441.5 75.5,441.3 75.75,441.4 76,441.5 76.25,441.4 76.5,441.3 76.75,441.4 77,441.4 77.25,441.3 77.5,441.3 77.75,441.3 78,441.3 78.25,441.3 78.5,441.3 78.75,441.1 79,440.9 79.25,441.1 79.5,441.3 79.75,441.3 80,441.1 80.25,441.1 80.5,441.2 80.75,441.1 81,441.1 81.25,441.2 81.5,441.2 81.75,441.2 82,441.3 82.25,441.2 82.5,441.4 82.75,441.5 83,441.2 83.25,441.0 83.5,440.9 83.75,441.1 84,441.3 84.25,441.3 84.5,441.2 84.75,441.2 85,441.1 85.25,441.2 85.5,441.3 85.75,441.3 86,441.4 86.25,441.6 86.5,441.4 86.75,441.2 87,441.5 87.25,441.4 87.5,441.3 87.75,441.4 88,441.3 88.25,441.2 88.5,441.1 88.75,441.1 89,441.3 89.25,441.5 89.5,441.4 89.75,441.5 90,441.5 90.25,441.3 90.5,441.2 90.75,441.2 91,441.1 91.25,441.1 91.5,441.3 91.75,441.3 92,441.3 92.25,441.3 92.5,441.5 92.75,441.5 93,441.5 93.25,441.5 93.5,441.6 93.75,441.7 94,441.6 94.25,441.4 94.5,441.4 94.75,441.2 95,441.3 95.25,441.5 95.5,441.6 95.75,441.6 96,441.3 96.25,441.2 96.5,441.6 96.75,441.5 97,441.3 97.25,441.4 97.5,441.3 97.75,441.0 98,441.1 98.25,441.3 98.5,441.4 98.75,441.3 99,441.1 99.25,441.2 99.5,441.1 99.75,441.1 100,441.2 100.25,441.2 100.5,440.7 100.75,439.5 101,437.7 101.25,435.8 101.5,434.4 101.75,434.5 102,436.3 102.25,438.7 102.5,440.1 102.75,440.7 103,441.2 103.25,441.3 103.5,440.9 103.75,440.9 104,441.2 104.25,441.3 104.5,441.3 104.75,441.2 105,441.4 105.25,441.7 105.5,441.7 105.75,441.3 106,441.3 106.25,441.6 106.5,441.3 106.75,441.2 107,441.3 107.25,441.5 107.5,441.5 107.75,441.4 108,441.2 108.25,441.3 108.5,441.5 108.75,441.6 109,441.4 109.25,441.0 109.5,441.2 109.75,441.4 110,441.2 110.25,440.9 110.5,441.1 110.75,441.4 111,441.4 111.25,441.3 111.5,441.4 111.75,441.4 112,441.2 112.25,441.4 112.5,441.7 112.75,441.8 113,441.6 113.25,441.5 113.5,441.5 113.75,441.3 114,441.2 114.25,441.1 114.5,441.2 114.75,441.5 115,441.7 115.25,441.5 115.5,441.5 115.75,441.5 116,441.4 116.25,441.2 116.5,441.0 116.75,441.1 117,441.1 117.25,440.7 117.5,440.8 117.75,441.0 118,440.8 118.25,440.5 118.5,440.2 118.75,439.5 119,435.8 119.25,423.7 119.5,405.3 119.75,400.0 120,412.6 120.25,428.4 120.5,436.3 120.75,435.8 121,425.7 121.25,406.9 121.5,397.4 121.75,408.0 122,425.1 122.25,435.6 122.5,439.2 122.75,440.3 123,440.6 123.25,440.8 123.5,440.9 123.75,441.1 124,441.2 124.25,441.4 124.5,441.5 124.75,441.5 125,441.4 125.25,441.2 125.5,441.2 125.75,441.3 126,441.3 126.25,441.4 126.5,441.4 126.75,441.1 127,441.1 127.25,441.3 127.5,441.4 127.75,441.3 128,441.3 128.25,441.5 128.5,441.5 128.75,441.3 129,441.3 129.25,441.3 129.5,441.3 129.75,441.2 130,441.2 130.25,441.4 130.5,441.4 130.75,441.3 131,441.2 131.25,441.0 131.5,441.2 131.75,441.3 132,441.3 132.25,441.3 132.5,441.3 132.75,441.3 133,441.2 133.25,441.1 133.5,441.2 133.75,441.4 134,441.4 134.25,441.2 134.5,441.2 134.75,441.3 135,441.4 135.25,441.4 135.5,441.4 135.75,441.2 136,441.2 136.25,441.4 136.5,441.5 136.75,441.5 137,441.6 137.25,441.7 137.5,441.4 137.75,441.1 138,441.0 138.25,441.0 138.5,441.1 138.75,441.1 139,441.1 139.25,441.1 139.5,440.9 139.75,441.1 140,441.6 140.25,441.7 140.5,441.5 140.75,441.6 141,441.7 141.25,441.6 141.5,441.3 141.75,441.2 142,441.2 142.25,441.2 142.5,441.1 142.75,441.2 143,441.3 143.25,441.4 143.5,441.4 143.75,441.2 144,441.4 144.25,441.6 144.5,441.6 144.75,441.6 145,441.7 145.25,441.7 145.5,441.5 145.75,441.2 146,441.2 146.25,441.2 146.5,441.1 146.75,441.1 147,441.0 147.25,441.0 147.5,441.3 147.75,441.3 148,441.2 148.25,441.1 148.5,441.2 148.75,441.2 149,441.3 149.25,441.3 149.5,441.3 149.75,441.4 150,441.5 150.25,441.4 150.5,441.2 150.75,441.3 151,441.4 151.25,441.4 151.5,441.2 151.75,440.8 152,440.8 152.25,441.2 152.5,441.5 152.75,441.7 153,441.6 153.25,441.5 153.5,441.3 153.75,441.2 154,441.3 154.25,441.4 154.5,441.4 154.75,441.5 155,441.5 155.25,441.5 155.5,441.3 155.75,441.2 156,441.2 156.25,441.4 156.5,441.6 156.75,441.5 157,441.6 157.25,441.6 157.5,441.6 157.75,441.5 158,441.3 158.25,441.5 158.5,441.6 158.75,441.4 159,441.2 159.25,441.3 159.5,441.3 159.75,441.3 160,441.5 160.25,441.3 160.5,441.2 160.75,441.5 161,441.6 161.25,441.4 161.5,441.1 161.75,440.5 162,439.9 162.25,439.2 162.5,438.5 162.75,438.2 163,438.4 163.25,439.0 163.5,439.9 163.75,440.8 164,441.2 164.25,441.2 164.5,441.3 164.75,441.5 165,441.6 165.25,441.4 165.5,441.2 165.75,441.2 166,441.3 166.25,441.2 166.5,441.2 166.75,441.4 167,441.5 167.25,441.4 167.5,441.2 167.75,441.4 168,441.4 168.25,441.2 168.5,441.3 168.75,441.4 169,441.3 169.25,441.2 169.5,441.0 169.75,440.7 170,440.4 170.25,440.2 170.5,440.4 170.75,440.7 171,440.8 171.25,440.8 171.5,441.0 171.75,441.4 172,441.5 172.25,441.5 172.5,441.4 172.75,441.3 173,441.2 173.25,441.2 173.5,441.3 173.75,441.3 174,441.2 174.25,441.5 174.5,441.6 174.75,441.3 175,441.3 175.25,441.5 175.5,441.5 175.75,441.6 176,441.6 176.25,441.4 176.5,441.6 176.75,441.7 177,441.7 177.25,441.5 177.5,441.3 177.75,441.1 178,441.2 178.25,441.6 178.5,441.7 178.75,441.6 179,441.5 179.25,441.4 179.5,441.3 179.75,441.3 180,441.3 180.25,441.3 180.5,441.3 180.75,441.4 181,441.4 181.25,441.5 181.5,441.5 181.75,441.6 182,441.5 182.25,441.1 182.5,441.1 182.75,441.4 183,441.7 183.25,441.8 183.5,441.7 183.75,441.5 184,441.4 184.25,441.5 184.5,441.5 184.75,441.2 185,441.2 185.25,441.3 185.5,441.2 185.75,441.0 186,441.2 186.25,441.4 186.5,441.4 186.75,441.5 187,441.4 187.25,441.3 187.5,441.4 187.75,441.3 188,441.2 188.25,441.5 188.5,441.5 188.75,441.2 189,440.9 189.25,441.2 189.5,441.5 189.75,441.5 190,441.3 190.25,441.2 190.5,441.0 190.75,441.0 191,441.3 191.25,441.3 191.5,441.0 191.75,441.0 192,441.2 192.25,441.3 192.5,441.5 192.75,441.7 193,441.7 193.25,441.7 193.5,441.5 193.75,441.2 194,441.1 194.25,441.2 194.5,440.8 194.75,440.1 195,439.2 195.25,438.8 195.5,439.1 195.75,439.4 196,439.7 196.25,440.1 196.5,440.5 196.75,441.0 197,441.5 197.25,441.6 197.5,441.4 197.75,441.2 198,441.3 198.25,441.6 198.5,441.7 198.75,441.4 199,441.4 199.25,441.4 199.5,441.1 199.75,440.9 200,441.2 200.25,441.3 200.5,441.1 200.75,440.9 201,440.9 201.25,441.3 201.5,441.5 201.75,441.2 202,440.9 202.25,440.6 202.5,440.4 202.75,440.1 203,439.9 203.25,440.0 203.5,440.4 203.75,440.7 204,440.8 204.25,441.0 204.5,441.1 204.75,440.9 205,440.9 205.25,441.2 205.5,441.2 205.75,441.2 206,441.3 206.25,441.2 206.5,441.3 206.75,441.4 207,441.5 207.25,441.5 207.5,441.3 207.75,441.4 208,441.4 208.25,441.3 208.5,441.4 208.75,441.3 209,441.2 209.25,441.3 209.5,441.5 209.75,441.5 210,441.5 210.25,441.3 210.5,441.2 210.75,441.1 211,441.0 211.25,440.9 211.5,441.0 211.75,441.0 212,441.0 212.25,441.1 212.5,441.0 212.75,440.6 213,440.5 213.25,440.0 213.5,437.8 213.75,430.7 214,415.7 214.25,401.0 214.5,400.3 214.75,408.1 215,418.4 215.25,429.1 215.5,436.1 215.75,439.0 216,439.8 216.25,439.7 216.5,438.5 216.75,433.4 217,417.8 217.25,390.2 217.5,368.8 217.75,372.9 218,387.7 218.25,405.5 218.5,423.4 218.75,434.9 219,439.1 219.25,439.9 219.5,440.4 219.75,441.0 220,440.8 220.25,440.5 220.5,440.8 220.75,441.3 221,441.3 221.25,441.3 221.5,441.4 221.75,441.3 222,441.0 222.25,440.9 222.5,441.0 222.75,441.0 223,441.2 223.25,441.5 223.5,441.4 223.75,441.2 224,441.2 224.25,441.4 224.5,441.3 224.75,441.0 225,441.2 225.25,441.4 225.5,441.3 225.75,441.0 226,440.7 226.25,440.6 226.5,440.8 226.75,441.0 227,440.8 227.25,440.5 227.5,440.3 227.75,440.0 228,439.2 228.25,437.5 228.5,434.4 228.75,429.2 229,421.6 229.25,412.0 229.5,403.3 229.75,398.1 230,398.0 230.25,402.8 230.5,410.8 230.75,419.7 231,427.3 231.25,433.0 231.5,436.6 231.75,438.5 232,439.3 232.25,440.0 232.5,440.4 232.75,440.6 233,440.9 233.25,441.1 233.5,441.2 233.75,441.1 234,441.0 234.25,441.1 234.5,441.0 234.75,441.1 235,441.2 235.25,441.3 235.5,441.5 235.75,441.4 236,441.3 236.25,441.4 236.5,441.4 236.75,441.1 237,441.0 237.25,441.1 237.5,441.3 237.75,441.4 238,441.3 238.25,441.2 238.5,441.3 238.75,441.6 239,441.6 239.25,441.4 239.5,441.2 239.75,441.4 240,441.5 240.25,441.6 240.5,441.7 240.75,441.6 241,441.2 241.25,441.3 241.5,441.5 241.75,441.6 242,441.5 242.25,441.4 242.5,441.3 242.75,441.5 243,441.7 243.25,441.5 243.5,441.3 243.75,441.3 244,441.3 244.25,441.5 244.5,441.7 244.75,441.8 245,441.6 245.25,441.4 245.5,441.4 245.75,441.4 246,441.4 246.25,441.4 246.5,441.3 246.75,441.3 247,441.4 247.25,441.3 247.5,441.3 247.75,441.4 248,441.5 248.25,441.7 248.5,441.6 248.75,441.3 249,441.2 249.25,441.2 249.5,441.1 249.75,440.7 250,439.9 250.25,438.9 250.5,438.0 250.75,437.4 251,436.8 251.25,436.9 251.5,437.5 251.75,438.1 252,439.0 252.25,440.0 252.5,440.8 252.75,441.1 253,441.2 253.25,441.4 253.5,441.3 253.75,441.0 254,440.8 254.25,440.9 254.5,441.1 254.75,441.1 255,441.1 255.25,441.2 255.5,441.4 255.75,441.5 256,441.6 256.25,441.6 256.5,441.5 256.75,441.4 257,441.5 257.25,441.2 257.5,441.2 257.75,441.5 258,441.6 258.25,441.6 258.5,441.6 258.75,441.6 259,441.4 259.25,441.2 259.5,441.2 259.75,441.2 260,441.1 260.25,440.7 260.5,440.4 260.75,439.8 261,438.6 261.25,437.8 261.5,437.6 261.75,437.6 262,437.9 262.25,438.8 262.5,439.6 262.75,440.1 263,440.6 263.25,441.1 263.5,441.4 263.75,441.7 264,441.8 264.25,441.6 264.5,441.5 264.75,441.5 265,441.5 265.25,441.5 265.5,441.3 265.75,441.2 266,441.3 266.25,441.6 266.5,441.8 266.75,441.6 267,441.3 267.25,441.3 267.5,441.4 267.75,441.5 268,441.5 268.25,441.6 268.5,441.5 268.75,441.2 269,441.1 269.25,441.1 269.5,441.2 269.75,441.3 270,441.4 270.25,441.3 270.5,441.3 270.75,441.5 271,441.7 271.25,441.5 271.5,441.2 271.75,441.4 272,441.5 272.25,441.4 272.5,441.4 272.75,441.5 273,441.6 273.25,441.5 273.5,441.3 273.75,441.2 274,441.1 274.25,441.0 274.5,441.1 274.75,441.2 275,441.5 275.25,441.8 275.5,441.6 275.75,441.1 276,440.9 276.25,441.0 276.5,440.9 276.75,441.0 277,441.2 277.25,441.3 277.5,441.5 277.75,441.6 278,441.1 278.25,440.5 278.5,439.8 278.75,438.9 279,437.9 279.25,437.5 279.5,437.4 279.75,437.4 280,437.7 280.25,438.4 280.5,439.2 280.75,440.1 281,440.8 281.25,441.2 281.5,441.4 281.75,441.4 282,441.5 282.25,441.5 282.5,441.4 282.75,441.3 283,441.3 283.25,441.2 283.5,441.2 283.75,441.4 284,441.6 284.25,441.7 284.5,441.5 284.75,441.3 285,441.4 285.25,441.5 285.5,441.8 285.75,441.9 286,441.7 286.25,441.5 286.5,441.5 286.75,441.6 287,441.4 287.25,441.3 287.5,441.6 287.75,441.6 288,441.5 288.25,441.2 288.5,441.2 288.75,441.5 289,441.4 289.25,441.1 289.5,441.1 289.75,441.4 290,441.7 290.25,441.6 290.5,441.4 290.75,441.6 291,441.6 291.25,440.9 291.5,440.5 291.75,440.6 292,440.4 292.25,440.0 292.5,440.0 292.75,440.3 293,440.5 293.25,440.6 293.5,440.7 293.75,440.9 294,441.1 294.25,441.1 294.5,441.4 294.75,441.4 295,441.4 295.25,441.5 295.5,441.6 295.75,441.8 296,441.8 296.25,441.4 296.5,441.2 296.75,441.3 297,441.3 297.25,441.3 297.5,441.1 297.75,440.9 298,440.7 298.25,440.2 298.5,439.6 298.75,439.2 299,438.8 299.25,438.4 299.5,438.5 299.75,438.6 300,438.3 300.25,438.0 300.5,437.6 300.75,437.3 301,437.2 301.25,437.5 301.5,437.8 301.75,438.2 302,438.9 302.25,439.7 302.5,440.3 302.75,440.8 303,441.2 303.25,441.4 303.5,441.6 303.75,441.6 304,441.5 304.25,441.4 304.5,441.4 304.75,441.4 305,441.4 305.25,441.1 305.5,441.1 305.75,441.4 306,441.6 306.25,441.5 306.5,441.3 306.75,441.4 307,441.5 307.25,441.6 307.5,441.7 307.75,441.5 308,441.4 308.25,441.5 308.5,441.4 308.75,441.3 309,441.2 309.25,441.3 309.5,441.5 309.75,441.4 310,441.5 310.25,441.6 310.5,441.7 310.75,441.7 311,441.6 311.25,441.4 311.5,441.3 311.75,441.0 312,441.1 312.25,441.4 312.5,441.6 312.75,441.6 313,441.5 313.25,441.5 313.5,441.6 313.75,441.7 314,441.6 314.25,441.5 314.5,441.5 314.75,441.6 315,441.7 315.25,441.7 315.5,441.7 315.75,441.5 316,441.4 316.25,441.5 316.5,441.6 316.75,441.7 317,441.7 317.25,441.5 317.5,441.3 317.75,441.4 318,441.5 318.25,441.5 318.5,441.5 318.75,441.5 319,441.3 319.25,441.2 319.5,441.3 319.75,441.4 320,441.3 320.25,441.1 320.5,441.1 320.75,441.0 321,440.8 321.25,440.6 321.5,440.5 321.75,439.8 322,438.3 322.25,436.0 322.5,432.9 322.75,429.6 323,426.1 323.25,423.3 323.5,422.3 323.75,423.2 324,425.3 324.25,427.9 324.5,430.7 324.75,433.2 325,434.8 325.25,435.2 325.5,434.7 325.75,433.4 326,431.5 326.25,429.8 326.5,428.9 326.75,429.2 327,430.3 327.25,431.8 327.5,433.5 327.75,435.5 328,437.5 328.25,439.1 328.5,439.8 328.75,440.2 329,440.7 329.25,440.9 329.5,440.9 329.75,441.0 330,440.9 330.25,440.4 330.5,439.8 330.75,439.2 331,438.7 331.25,438.4 331.5,438.6 331.75,438.8 332,438.8 332.25,439.0 332.5,439.3 332.75,440.0 333,440.6 333.25,441.0 333.5,441.2 333.75,441.4 334,441.4 334.25,441.4 334.5,441.5 334.75,441.1 335,441.0 335.25,441.2 335.5,441.2 335.75,441.2 336,441.3 336.25,441.3 336.5,441.3 336.75,441.4 337,441.3 337.25,441.0 337.5,440.5 337.75,440.2 338,440.1 338.25,440.0 338.5,439.9 338.75,440.0 339,440.2 339.25,440.2 339.5,440.4 339.75,440.8 340,441.2 340.25,441.5 340.5,441.5 340.75,441.4 341,441.4 341.25,441.3 341.5,441.1 341.75,441.2 342,441.4 342.25,441.4 342.5,441.2 342.75,441.2 343,441.0 343.25,440.4 343.5,439.6 343.75,438.7 344,437.8 344.25,437.2 344.5,436.8 344.75,436.6 345,437.0 345.25,437.8 345.5,438.5 345.75,439.3 346,440.0 346.25,440.5 346.5,440.8 346.75,440.9 347,441.0 347.25,441.2 347.5,441.3 347.75,441.5 348,441.8 348.25,441.7 348.5,441.4 348.75,441.3 349,441.6 349.25,441.7 349.5,441.5 349.75,441.5 350,441.4 350.25,441.4 350.5,441.3 350.75,441.2 351,441.2 351.25,441.3 351.5,441.7 351.75,441.8 352,441.6 352.25,441.6 352.5,441.5 352.75,441.6 353,441.5 353.25,441.5 353.5,441.4 353.75,441.2 354,441.2 354.25,441.4 354.5,441.5 354.75,441.6 355,441.7 355.25,441.6 355.5,441.4 355.75,441.6 356,441.8 356.25,441.9 356.5,441.6 356.75,441.3 357,441.1 357.25,441.0 357.5,440.7 357.75,440.2 358,439.7 358.25,439.3 358.5,439.1 358.75,438.9 359,438.7 359.25,438.7 359.5,439.1 359.75,439.8 360,440.2 360.25,440.2 360.5,440.7 360.75,441.4 361,441.5 361.25,441.4 361.5,441.5 361.75,441.5 362,441.5 362.25,441.7 362.5,441.7 362.75,441.4 363,441.2 363.25,441.2 363.5,441.3 363.75,441.8 364,441.9 364.25,441.8 364.5,441.6 364.75,441.5 365,441.5 365.25,441.7 365.5,441.6 365.75,441.4 366,441.2 366.25,441.2 366.5,441.3 366.75,441.4 367,441.4 367.25,441.4 367.5,441.5 367.75,441.6 368,441.6 368.25,441.5 368.5,441.4 368.75,441.5 369,441.5 369.25,441.3 369.5,441.0 369.75,440.9 370,440.9 370.25,440.8 370.5,440.6 370.75,440.5 371,440.5 371.25,440.4 371.5,440.4 371.75,440.6 372,440.9 372.25,441.2 372.5,441.2 372.75,441.1 373,441.1 373.25,441.3 373.5,441.4 373.75,441.4 374,441.3 374.25,441.3 374.5,441.4 374.75,441.6 375,441.7 375.25,441.6 375.5,441.6 375.75,441.5 376,441.4 376.25,441.4 376.5,441.6 376.75,441.8 377,441.8 377.25,441.6 377.5,441.4 377.75,441.4 378,441.5 378.25,441.6 378.5,441.6 378.75,441.6 379,441.6 379.25,441.6 379.5,441.6 379.75,441.5 380,441.5 380.25,441.5 380.5,441.5 380.75,441.3 381,441.2 381.25,441.5 381.5,441.4 381.75,441.1 382,441.1 382.25,441.3 382.5,441.5 382.75,441.7 383,441.8 383.25,441.9 383.5,441.9 383.75,441.5 384,441.5 384.25,441.6 384.5,441.3 384.75,441.2 385,441.5 385.25,441.8 385.5,441.6 385.75,441.2 386,441.2 386.25,441.3 386.5,441.4 386.75,441.5 387,441.6 387.25,441.7 387.5,441.6 387.75,441.4 388,441.5 388.25,441.4 388.5,441.2 388.75,441.1 389,440.8 389.25,440.4 389.5,440.1 389.75,439.4 390,438.3 390.25,436.9 390.5,435.4 390.75,434.4 391,433.7 391.25,433.8 391.5,434.3 391.75,435.1 392,436.1 392.25,437.1 392.5,438.1 392.75,439.1 393,440.0 393.25,440.6 393.5,440.8 393.75,440.9 394,441.2 394.25,441.2 394.5,441.0 394.75,441.3 395,441.4 395.25,441.1 395.5,441.2 395.75,441.2 396,441.0 396.25,440.9 396.5,440.8 396.75,440.7 397,440.4 397.25,439.6 397.5,438.8 397.75,437.8 398,436.4 398.25,434.9 398.5,433.5 398.75,432.4 399,432.1 399.25,432.4 399.5,433.1 399.75,434.1 400,435.3 400.25,436.5 400.5,437.2 400.75,437.6 401,437.8 401.25,437.0 401.5,435.7 401.75,434.4 402,432.9 402.25,431.2 402.5,429.7 402.75,428.4 403,427.2 403.25,426.3 403.5,426.3 403.75,427.4 404,429.0 404.25,430.7 404.5,432.0 404.75,433.5 405,435.2 405.25,436.8 405.5,438.1 405.75,438.8 406,439.2 406.25,439.8 406.5,440.2 406.75,440.4 407,440.7 407.25,440.9 407.5,441.1 407.75,441.2 408,441.4 408.25,441.5 408.5,441.5 408.75,441.3 409,441.0 409.25,441.0 409.5,441.2 409.75,441.3 410,441.2 410.25,441.3 410.5,441.6 410.75,441.8 411,441.6 411.25,441.5 411.5,441.6 411.75,441.6 412,441.6 412.25,441.6 412.5,441.5 412.75,441.5 413,441.6 413.25,441.6 413.5,441.3 413.75,441.2 414,441.3 414.25,441.4 414.5,441.4 414.75,441.4 415,441.5 415.25,441.5 415.5,441.2 415.75,440.9 416,440.6 416.25,440.0 416.5,439.6 416.75,439.3 417,439.0 417.25,439.1 417.5,439.3 417.75,439.4 418,439.5 418.25,439.7 418.5,439.9 418.75,440.3 419,440.7 419.25,440.9 419.5,441.1 419.75,441.1 420,441.1 420.25,441.4 420.5,441.7 420.75,441.9 421,441.8 421.25,441.7 421.5,441.7 421.75,441.7 422,441.6 422.25,441.4 422.5,441.3 422.75,441.6 423,441.7 423.25,441.3 423.5,441.3 423.75,441.6 424,441.7 424.25,441.5 424.5,441.3 424.75,441.4 425,441.6 425.25,441.7 425.5,441.5 425.75,441.4 426,441.3 426.25,441.0 426.5,440.8 426.75,440.8 427,440.9 427.25,440.8 427.5,440.5 427.75,440.5 428,440.8 428.25,440.9 428.5,440.6 428.75,440.8 429,441.2 429.25,441.4 429.5,441.5 429.75,441.3 430,441.2 430.25,441.5 430.5,441.8 430.75,441.7 431,441.5 431.25,441.6 431.5,441.6 431.75,441.4 432,441.3 432.25,441.5 432.5,441.7 432.75,441.7 433,441.6 433.25,441.5 433.5,441.3 433.75,441.3 434,441.5 434.25,441.6 434.5,441.6 434.75,441.8 435,441.8 435.25,441.8 435.5,441.8 435.75,441.8 436,441.8 436.25,441.8 436.5,441.7 436.75,441.6 437,441.6 437.25,441.6 437.5,441.4 437.75,441.5 438,441.7 438.25,441.7 438.5,441.7 438.75,442.0 439,442.0 439.25,441.5 439.5,441.2 439.75,441.2 440,441.4 440.25,441.5 440.5,441.7 440.75,441.7 441,441.6 441.25,441.6 441.5,441.6 441.75,441.5 442,441.7 442.25,442.0 442.5,441.7 442.75,441.3 443,441.3 443.25,441.6 443.5,441.6 443.75,441.7 444,442.0 444.25,441.9 444.5,441.4 444.75,441.5 445,441.8 445.25,441.7 445.5,441.6 445.75,441.9 446,441.9 446.25,441.4 446.5,441.2 446.75,441.3 447,441.7 447.25,441.8 447.5,441.7 447.75,441.5 448,441.6 448.25,441.6 448.5,441.3 448.75,441.3 449,441.6 449.25,441.8 449.5,441.7 449.75,441.6 450,441.6 450.25,441.6 450.5,441.4 450.75,441.4 451,441.5 451.25,441.5 451.5,441.5 451.75,441.6 452,441.6 452.25,441.6 452.5,441.6 452.75,441.6 453,441.5 453.25,441.5 453.5,441.6 453.75,441.5 454,441.5 454.25,441.6 454.5,441.6 454.75,441.8 455,441.8 455.25,441.5 455.5,441.6 455.75,441.7 456,441.6 456.25,441.5 456.5,441.6 456.75,441.5 457,441.6 457.25,441.7 457.5,441.6 457.75,441.4 458,441.4 458.25,441.5 458.5,441.3 458.75,441.1 459,441.2 459.25,441.6 459.5,441.8 459.75,441.7 460,441.7 460.25,441.7 460.5,441.7 460.75,441.6 461,441.4 461.25,441.3 461.5,441.4 461.75,441.4 462,441.4 462.25,441.6 462.5,441.7 462.75,441.6 463,441.7 463.25,441.6 463.5,441.0 463.75,440.8 464,440.8 464.25,440.5 464.5,440.2 464.75,439.8 465,439.2 465.25,439.1 465.5,439.1 465.75,438.9 466,438.8 466.25,438.9 466.5,439.3 466.75,439.8 467,439.9 467.25,440.1 467.5,440.5 467.75,440.9 468,441.0 468.25,441.2 468.5,441.4 468.75,441.6 469,441.7 469.25,441.6 469.5,441.5 469.75,441.4 470,441.4 470.25,441.6 470.5,441.6 470.75,441.2 471,441.0 471.25,441.2 471.5,441.1 471.75,440.3 472,439.5 472.25,438.8 472.5,438.0 472.75,436.9 473,436.3 473.25,436.1 473.5,436.1 473.75,436.3 474,436.7 474.25,437.2 474.5,437.8 474.75,438.6 475,439.2 475.25,439.4 475.5,439.8 475.75,440.5 476,441.0 476.25,441.2 476.5,441.5 476.75,441.6 477,441.3 477.25,441.3 477.5,441.4 477.75,441.6 478,441.7 478.25,441.8 478.5,441.7 478.75,441.8 479,441.9 479.25,441.8 479.5,441.7 479.75,441.6 480,441.6 480.25,441.7 480.5,441.6 480.75,441.5 481,441.6 481.25,441.7 481.5,441.6 481.75,441.6 482,441.8 482.25,441.8 482.5,441.6 482.75,441.6 483,441.6 483.25,441.6 483.5,441.6 483.75,441.4 484,441.2 484.25,441.3 484.5,441.3 484.75,440.8 485,440.3 485.25,440.0 485.5,439.9 485.75,439.8 486,439.5 486.25,439.5 486.5,439.7 486.75,439.9 487,440.1 487.25,440.4 487.5,440.5 487.75,440.7 488,441.0 488.25,440.9 488.5,441.0 488.75,441.4 489,441.5 489.25,441.5 489.5,441.6 489.75,441.7 490,441.5 490.25,441.4 490.5,441.4 490.75,441.4 491,441.5 491.25,441.8 491.5,441.8 491.75,441.7 492,441.7 492.25,441.6 492.5,441.5 492.75,441.7 493,441.7 493.25,441.5 493.5,441.5 493.75,441.6 494,441.5 494.25,441.5 494.5,441.5 494.75,441.5 495,441.7 495.25,441.9 495.5,441.8 495.75,441.7 496,441.6 496.25,441.6 496.5,441.6 496.75,441.7 497,441.9 497.25,442.0 497.5,441.9 497.75,441.9 498,441.9 498.25,441.8 498.5,441.6 498.75,441.5 499,441.5 499.25,441.5 499.5,441.5 499.75,441.5 500,441.6 500.25,441.8 500.5,442.1 500.75,442.1 501,441.8 501.25,441.7 501.5,441.8 501.75,441.8 502,441.6 502.25,441.4 502.5,441.3 502.75,441.7 503,441.9 503.25,441.8 503.5,441.7 503.75,441.8 504,441.8 504.25,441.7 504.5,441.4 504.75,441.5 505,441.7 505.25,441.8 505.5,441.8 505.75,441.8 506,441.9 506.25,442.0 506.5,441.8 506.75,441.6 507,441.7 507.25,441.6 507.5,441.3 507.75,441.3 508,441.6 508.25,441.8 508.5,441.8 508.75,441.7 509,441.9 509.25,441.8 509.5,441.6 509.75,441.8 510,441.9 510.25,441.7 510.5,441.4 510.75,441.5 511,441.7 511.25,441.8 511.5,441.6 511.75,441.6 512,441.5 512.25,441.5 512.5,441.5 512.75,441.4 513,441.4 513.25,441.3 513.5,441.2 513.75,441.4 514,441.8 514.25,442.0 514.5,441.8 514.75,441.8 515,441.9 515.25,441.8 515.5,441.8 515.75,441.9 516,441.9 516.25,441.9 516.5,441.8 516.75,441.7 517,441.6 517.25,441.5 517.5,441.5 517.75,441.6 518,441.6 518.25,441.8 518.5,441.9 518.75,442.0 519,442.0 519.25,442.0 519.5,442.0 519.75,441.8 520,441.8 520.25,441.8 520.5,441.8 520.75,441.9 521,441.9 521.25,441.6 521.5,441.3 521.75,441.4 522,441.7 522.25,441.5 522.5,441.5 522.75,441.8 523,441.9 523.25,441.8 523.5,441.7 523.75,441.6 524,441.5 524.25,441.6 524.5,441.8 524.75,442.0 525,442.0 525.25,441.6 525.5,441.4 525.75,441.6 526,441.5 526.25,441.4 526.5,441.7 526.75,441.8 527,441.7 527.25,441.7 527.5,441.8 527.75,441.8 528,441.7 528.25,441.8 528.5,441.8 528.75,442.0 529,442.1 529.25,441.9 529.5,441.6 529.75,441.6 530,441.7 530.25,441.8 530.5,441.7 530.75,441.7 531,441.7 531.25,441.9 531.5,442.0 531.75,441.9 532,441.6 532.25,441.4 532.5,441.5 532.75,441.6 533,441.7 533.25,441.6 533.5,441.5 533.75,441.5 534,441.3 534.25,441.3 534.5,441.5 534.75,441.7 535,441.6 535.25,441.5 535.5,441.7 535.75,441.8 536,441.9 536.25,441.8 536.5,441.7 536.75,441.7 537,441.7 537.25,441.5 537.5,441.4"/>
<line x1="58.5" y1="3.0" x2="58.5" y2="93.4" stroke="#ff00ff" stroke-width="1.5"/>
<line x1="56.05" y1="3.90" x2="58.50" y2="3.90" stroke="#ff00ff" stroke-width="1.5"/>
<line x1="54.75" y1="13.82" x2="58.50" y2="13.82" stroke="#ff00ff" stroke-width="1.5"/>
<line x1="56.05" y1="23.74" x2="58.50" y2="23.74" stroke="#ff00ff" stroke-width="1.5"/>
<line x1="54.75" y1="33.66" x2="58.50" y2="33.66" stroke="#ff00ff" stroke-width="1.5"/>
<line x1="56.05" y1="43.58" x2="58.50" y2="43.58" stroke="#ff00ff" stroke-width="1.5"/>
<line x1="54.75" y1="53.50" x2="58.50" y2="53.50" stroke="#ff00ff" stroke-width="1.5"/>
<line x1="56.05" y1="63.42" x2="58.50" y2="63.42" stroke="#ff00ff" stroke-width="1.5"/>
<line x1="54.75" y1="73.34" x2="58.50" y2="73.34" stroke="#ff00ff" stroke-width="1.5"/>
<line x1="56.05" y1="83.26" x2="58.50" y2="83.26" stroke="#ff00ff" stroke-width="1.5"/>
<line x1="54.75" y1="93.18" x2="58.50" y2="93.18" stroke="#ff00ff" stroke-width="1.5"/>
<line x1="59.45" y1="92.8" x2="59.45" y2="184.5" stroke="#0000ff" stroke-width="1.5"/>
<line x1="55.70" y1="100.30" x2="59.45" y2="100.30" stroke="#0000ff" stroke-width="1.5"/>
<line x1="57.00" y1="107.30" x2="59.45" y2="107.30" stroke="#0000ff" stroke-width="1.5"/>
<line x1="55.70" y1="114.30" x2="59.45" y2="114.30" stroke="#0000ff" stroke-width="1.5"/>
<line x1="57.00" y1="121.30" x2="59.45" y2="121.30" stroke="#0000ff" stroke-width="1.5"/>
<line x1="55.70" y1="128.30" x2="59.45" y2="128.30" stroke="#0000ff" stroke-width="1.5"/>
<line x1="57.00" y1="135.29" x2="59.45" y2="135.29" stroke="#0000ff" stroke-width="1.5"/>
<line x1="55.70" y1="142.29" x2="59.45" y2="142.29" stroke="#0000ff" stroke-width="1.5"/>
<line x1="57.00" y1="149.29" x2="59.45" y2="149.29" stroke="#0000ff" stroke-width="1.5"/>
<line x1="55.70" y1="156.29" x2="59.45" y2="156.29" stroke="#0000ff" stroke-width="1.5"/>
<line x1="57.00" y1="163.29" x2="59.45" y2="163.29" stroke="#0000ff" stroke-width="1.5"/>
<line x1="55.70" y1="170.29" x2="59.45" y2="170.29" stroke="#0000ff" stroke-width="1.5"/>
<line x1="57.00" y1="177.29" x2="59.45" y2="177.29" stroke="#0000ff" stroke-width="1.5"/>
<line x1="55.70" y1="184.29" x2="59.45" y2="184.29" stroke="#0000ff" stroke-width="1.5"/>
<line x1="59.45" y1="178.9" x2="59.45" y2="272.6" stroke="#00ff00" stroke-width="1.5"/>
<line x1="57.00" y1="179.50" x2="59.45" y2="179.50" stroke="#00ff00" stroke-width="1.5"/>
<line x1="55.70" y1="189.80" x2="59.45" y2="189.80" stroke="#00ff00" stroke-width="1.5"/>
<line x1="57.00" y1="200.10" x2="59.45" y2="200.10" stroke="#00ff00" stroke-width="1.5"/>
<line x1="55.70" y1="210.40" x2="59.45" y2="210.40" stroke="#00ff00" stroke-width="1.5"/>
<line x1="57.00" y1="220.70" x2="59.45" y2="220.70" stroke="#00ff00" stroke-width="1.5"/>
<line x1="55.70" y1="231.00" x2="59.45" y2="231.00" stroke="#00ff00" stroke-width="1.5"/>
<line x1="57.00" y1="241.30" x2="59.45" y2="241.30" stroke="#00ff00" stroke-width="1.5"/>
<line x1="55.70" y1="251.60" x2="59.45" y2="251.60" stroke="#00ff00" stroke-width="1.5"/>
<line x1="57.00" y1="261.90" x2="59.45" y2="261.90" stroke="#00ff00" stroke-width="1.5"/>
<line x1="55.70" y1="272.20" x2="59.45" y2="272.20" stroke="#00ff00" stroke-width="1.5"/>
<line x1="60.0" y1="272.3" x2="60.0" y2="360.8" stroke="#ff2a3a" stroke-width="1.5"/>
<line x1="56.25" y1="278.30" x2="60.00" y2="278.30" stroke="#ff2a3a" stroke-width="1.5"/>
<line x1="57.55" y1="284.17" x2="60.00" y2="284.17" stroke="#ff2a3a" stroke-width="1.5"/>
<line x1="56.25" y1="290.04" x2="60.00" y2="290.04" stroke="#ff2a3a" stroke-width="1.5"/>
<line x1="57.55" y1="295.91" x2="60.00" y2="295.91" stroke="#ff2a3a" stroke-width="1.5"/>
<line x1="56.25" y1="301.78" x2="60.00" y2="301.78" stroke="#ff2a3a" stroke-width="1.5"/>
<line x1="57.55" y1="307.65" x2="60.00" y2="307.65" stroke="#ff2a3a" stroke-width="1.5"/>
<line x1="56.25" y1="313.52" x2="60.00" y2="313.52" stroke="#ff2a3a" stroke-width="1.5"/>
<line x1="57.55" y1="319.39" x2="60.00" y2="319.39" stroke="#ff2a3a" stroke-width="1.5"/>
<line x1="56.25" y1="325.26" x2="60.00" y2="325.26" stroke="#ff2a3a" stroke-width="1.5"/>
<line x1="57.55" y1="331.13" x2="60.00" y2="331.13" stroke="#ff2a3a" stroke-width="1.5"/>
<line x1="56.25" y1="337.00" x2="60.00" y2="337.00" stroke="#ff2a3a" stroke-width="1.5"/>
<line x1="57.55" y1="342.87" x2="60.00" y2="342.87" stroke="#ff2a3a" stroke-width="1.5"/>
<line x1="56.25" y1="348.74" x2="60.00" y2="348.74" stroke="#ff2a3a" stroke-width="1.5"/>
<line x1="57.55" y1="354.61" x2="60.00" y2="354.61" stroke="#ff2a3a" stroke-width="1.5"/>
<line x1="56.25" y1="360.48" x2="60.00" y2="360.48" stroke="#ff2a3a" stroke-width="1.5"/>
<line x1="59.9" y1="360.6" x2="59.9" y2="451.0" stroke="#404040" stroke-width="1.5"/>
<line x1="56.15" y1="369.90" x2="59.90" y2="369.90" stroke="#404040" stroke-width="1.5"/>
<line x1="57.45" y1="379.02" x2="59.90" y2="379.02" stroke="#404040" stroke-width="1.5"/>
<line x1="56.15" y1="388.15" x2="59.90" y2="388.15" stroke="#404040" stroke-width="1.5"/>
<line x1="57.45" y1="397.27" x2="59.90" y2="397.27" stroke="#404040" stroke-width="1.5"/>
<line x1="56.15" y1="406.40" x2="59.90" y2="406.40" stroke="#404040" stroke-width="1.5"/>
<line x1="57.45" y1="415.52" x2="59.90" y2="415.52" stroke="#404040" stroke-width="1.5"/>
<line x1="56.15" y1="424.65" x2="59.90" y2="424.65" stroke="#404040" stroke-width="1.5"/>
<line x1="57.45" y1="433.77" x2="59.90" y2="433.77" stroke="#404040" stroke-width="1.5"/>
<line x1="56.15" y1="442.90" x2="59.90" y2="442.90" stroke="#404040" stroke-width="1.5"/>
<line x1="59.0" y1="449.8" x2="539.3" y2="449.8" stroke="#2a2a2a" stroke-width="1.7"/>
<line x1="59.80" y1="449.8" x2="59.80" y2="453.40" stroke="#2a2a2a" stroke-width="1.4"/>
<line x1="93.99" y1="449.8" x2="93.99" y2="452.30" stroke="#2a2a2a" stroke-width="1.4"/>
<line x1="128.19" y1="449.8" x2="128.19" y2="453.40" stroke="#2a2a2a" stroke-width="1.4"/>
<line x1="162.38" y1="449.8" x2="162.38" y2="452.30" stroke="#2a2a2a" stroke-width="1.4"/>
<line x1="196.57" y1="449.8" x2="196.57" y2="453.40" stroke="#2a2a2a" stroke-width="1.4"/>
<line x1="230.76" y1="449.8" x2="230.76" y2="452.30" stroke="#2a2a2a" stroke-width="1.4"/>
<line x1="264.96" y1="449.8" x2="264.96" y2="453.40" stroke="#2a2a2a" stroke-width="1.4"/>
<line x1="299.15" y1="449.8" x2="299.15" y2="452.30" stroke="#2a2a2a" stroke-width="1.4"/>
<line x1="333.34" y1="449.8" x2="333.34" y2="453.40" stroke="#2a2a2a" stroke-width="1.4"/>
<line x1="367.54" y1="449.8" x2="367.54" y2="452.30" stroke="#2a2a2a" stroke-width="1.4"/>
<line x1="401.73" y1="449.8" x2="401.73" y2="453.40" stroke="#2a2a2a" stroke-width="1.4"/>
<line x1="435.92" y1="449.8" x2="435.92" y2="452.30" stroke="#2a2a2a" stroke-width="1.4"/>
<line x1="470.11" y1="449.8" x2="470.11" y2="453.40" stroke="#2a2a2a" stroke-width="1.4"/>
<line x1="504.31" y1="449.8" x2="504.31" y2="452.30" stroke="#2a2a2a" stroke-width="1.4"/>
<line x1="538.50" y1="449.8" x2="538.50" y2="453.40" stroke="#2a2a2a" stroke-width="1.4"/>
<text x="59.80" y="465.7" text-anchor="middle" class="tk">10</text>
<text x="128.19" y="465.7" text-anchor="middle" class="tk">20</text>
<text x="196.57" y="465.7" text-anchor="middle" class="tk">30</text>
<text x="264.96" y="465.7" text-anchor="middle" class="tk">40</text>
<text x="333.34" y="465.7" text-anchor="middle" class="tk">50</text>
<text x="401.73" y="465.7" text-anchor="middle" class="tk">60</text>
<text x="470.11" y="465.7" text-anchor="middle" class="tk">70</text>
<text x="538.50" y="465.7" text-anchor="middle" class="tk">80</text>
<text x="102.5" y="139.2" text-anchor="middle" class="st">*</text>
<text x="213.3" y="173.7" text-anchor="middle" class="st">*</text>
<text x="227.1" y="174.2" text-anchor="middle" class="st">*</text>
<text x="268.9" y="142.0" text-anchor="middle" class="st">*</text>
<text x="517.1" y="177.1" text-anchor="middle" class="st">*</text>
<text x="102.5" y="205.2" text-anchor="middle" class="st">*</text>
<text x="214.1" y="255.2" text-anchor="middle" class="st">*</text>
<text x="227.2" y="255.4" text-anchor="middle" class="st">*</text>
<text x="236.0" y="253.0" text-anchor="middle" class="st">*</text>
<text x="274.9" y="216.2" text-anchor="middle" class="st">*</text>
<text x="292.7" y="272.2" text-anchor="middle" class="st">*</text>
<text x="348.4" y="262.8" text-anchor="middle" class="st">*</text>
<text x="378.6" y="260.8" text-anchor="middle" class="st">*</text>
<text x="406.9" y="260.3" text-anchor="middle" class="st">*</text>
<text x="425.1" y="266.1" text-anchor="middle" class="st">*</text>
<text x="448.7" y="270.5" text-anchor="middle" class="st">*</text>
<text x="460.7" y="273.7" text-anchor="middle" class="st">*</text>
<text x="476.0" y="269.6" text-anchor="middle" class="st">*</text>
<text x="489.6" y="272.0" text-anchor="middle" class="st">*</text>
<text x="518.5" y="270.9" text-anchor="middle" class="st">*</text>
<text x="101.8" y="288.8" text-anchor="middle" class="st">*</text>
<text x="270.6" y="328.0" text-anchor="middle" class="st">*</text>
<text x="292.4" y="360.7" text-anchor="middle" class="st">*</text>
<text x="348.0" y="357.3" text-anchor="middle" class="st">*</text>
<text x="380.0" y="354.1" text-anchor="middle" class="st">*</text>
<text x="518.2" y="357.2" text-anchor="middle" class="st">*</text>
<text x="523.2" y="49.2" class="lb">a</text>
<text x="525.2" y="142.6" class="lb">b</text>
<text x="522.6" y="234.6" class="lb">c</text>
<text x="522.6" y="319.6" class="lb">d</text>
<text x="523.3" y="405.0" class="lb">e</text>
<text x="221" y="496.7" class="tt">2 Theta ( deg )</text>
<text transform="translate(25.5,335.2) rotate(-90)" class="tt2">Intensyti (a.u.)</text>
</svg>
</body></html>
